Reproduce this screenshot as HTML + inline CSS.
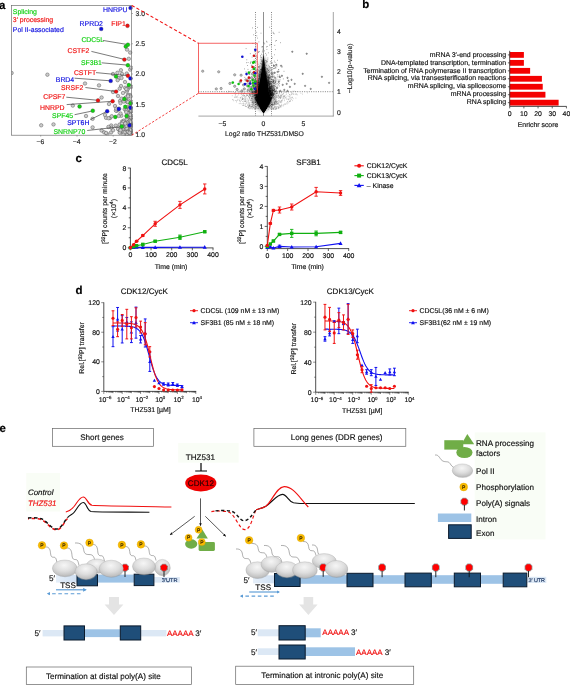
<!DOCTYPE html>
<html lang="en"><head><meta charset="utf-8"><title>Figure</title>
<style>
html,body{margin:0;padding:0;background:#fff;}
body{width:570px;height:685px;overflow:hidden;}
svg{display:block;font-family:"Liberation Sans",Arial,Helvetica,sans-serif;text-rendering:geometricPrecision;}
text{stroke-width:0.16px;}
</style></head><body>
<svg width="570" height="685" viewBox="0 0 570 685">
<defs>
<radialGradient id="pol" cx="48%" cy="32%" r="72%"><stop offset="0" stop-color="#f6f6f6"/><stop offset="0.5" stop-color="#dedede"/><stop offset="1" stop-color="#b6b6b6"/></radialGradient>
<linearGradient id="fadeL" x1="0" x2="1" y1="0" y2="0"><stop offset="0" stop-color="#e6eff9"/><stop offset="1" stop-color="#cfe0f3"/></linearGradient>
<filter id="blur1" x="-50%" y="-50%" width="200%" height="200%"><feGaussianBlur stdDeviation="0.7"/></filter>
<filter id="blur2" x="-50%" y="-50%" width="200%" height="200%"><feGaussianBlur stdDeviation="1.6"/></filter>
</defs>
<rect width="570" height="685" fill="#fff"/>
<g id="panel-a">
<text x="-0.9" y="8.5" font-size="11.5" fill="#000" stroke="#000" font-weight="bold">a</text>
<clipPath id="clipA"><rect x="11.6" y="5.4" width="121.2" height="129.8"/></clipPath>
<g clip-path="url(#clipA)">
<circle cx="11.6" cy="73" r="1.75" fill="#cbcbcb" stroke="#5a5a5a" stroke-width="0.5"/>
<circle cx="47.4" cy="74.7" r="1.75" fill="#cbcbcb" stroke="#5a5a5a" stroke-width="0.5"/>
<circle cx="85" cy="83.5" r="1.75" fill="#cbcbcb" stroke="#5a5a5a" stroke-width="0.5"/>
<circle cx="99" cy="85.4" r="1.75" fill="#cbcbcb" stroke="#5a5a5a" stroke-width="0.5"/>
<circle cx="72.8" cy="105.6" r="1.75" fill="#cbcbcb" stroke="#5a5a5a" stroke-width="0.5"/>
<circle cx="101.6" cy="97.5" r="1.75" fill="#cbcbcb" stroke="#5a5a5a" stroke-width="0.5"/>
<circle cx="86" cy="116" r="1.75" fill="#cbcbcb" stroke="#5a5a5a" stroke-width="0.5"/>
<circle cx="41.2" cy="125.3" r="1.75" fill="#cbcbcb" stroke="#5a5a5a" stroke-width="0.5"/>
<circle cx="53.5" cy="124.4" r="1.75" fill="#cbcbcb" stroke="#5a5a5a" stroke-width="0.5"/>
<circle cx="92.6" cy="118.8" r="1.75" fill="#cbcbcb" stroke="#5a5a5a" stroke-width="0.5"/>
<circle cx="92.6" cy="127.4" r="1.75" fill="#cbcbcb" stroke="#5a5a5a" stroke-width="0.5"/>
<circle cx="101.6" cy="130.5" r="1.75" fill="#cbcbcb" stroke="#5a5a5a" stroke-width="0.5"/>
<circle cx="104.2" cy="132.3" r="1.75" fill="#cbcbcb" stroke="#5a5a5a" stroke-width="0.5"/>
<circle cx="127" cy="49.6" r="1.75" fill="#cbcbcb" stroke="#5a5a5a" stroke-width="0.5"/>
<circle cx="130.2" cy="52.6" r="1.75" fill="#cbcbcb" stroke="#5a5a5a" stroke-width="0.5"/>
<circle cx="128.8" cy="58.8" r="1.75" fill="#cbcbcb" stroke="#5a5a5a" stroke-width="0.5"/>
<circle cx="130.2" cy="69.6" r="1.75" fill="#cbcbcb" stroke="#5a5a5a" stroke-width="0.5"/>
<circle cx="120.9" cy="70.2" r="1.75" fill="#cbcbcb" stroke="#5a5a5a" stroke-width="0.5"/>
<circle cx="117.4" cy="72.8" r="1.75" fill="#cbcbcb" stroke="#5a5a5a" stroke-width="0.5"/>
<circle cx="113" cy="74" r="1.75" fill="#cbcbcb" stroke="#5a5a5a" stroke-width="0.5"/>
<circle cx="119" cy="78" r="1.75" fill="#cbcbcb" stroke="#5a5a5a" stroke-width="0.5"/>
<circle cx="122" cy="74" r="1.75" fill="#cbcbcb" stroke="#5a5a5a" stroke-width="0.5"/>
<circle cx="125" cy="82" r="1.75" fill="#cbcbcb" stroke="#5a5a5a" stroke-width="0.5"/>
<circle cx="121" cy="86" r="1.75" fill="#cbcbcb" stroke="#5a5a5a" stroke-width="0.5"/>
<circle cx="127" cy="90" r="1.75" fill="#cbcbcb" stroke="#5a5a5a" stroke-width="0.5"/>
<circle cx="123" cy="93" r="1.75" fill="#cbcbcb" stroke="#5a5a5a" stroke-width="0.5"/>
<circle cx="130" cy="95" r="1.75" fill="#cbcbcb" stroke="#5a5a5a" stroke-width="0.5"/>
<circle cx="118" cy="96" r="1.75" fill="#cbcbcb" stroke="#5a5a5a" stroke-width="0.5"/>
<circle cx="113" cy="92" r="1.75" fill="#cbcbcb" stroke="#5a5a5a" stroke-width="0.5"/>
<circle cx="109" cy="104" r="1.75" fill="#cbcbcb" stroke="#5a5a5a" stroke-width="0.5"/>
<circle cx="115" cy="106" r="1.75" fill="#cbcbcb" stroke="#5a5a5a" stroke-width="0.5"/>
<circle cx="120" cy="101" r="1.75" fill="#cbcbcb" stroke="#5a5a5a" stroke-width="0.5"/>
<circle cx="110" cy="118" r="1.75" fill="#cbcbcb" stroke="#5a5a5a" stroke-width="0.5"/>
<circle cx="105" cy="115" r="1.75" fill="#cbcbcb" stroke="#5a5a5a" stroke-width="0.5"/>
<circle cx="129.06" cy="132.38" r="1.75" fill="#cbcbcb" stroke="#5a5a5a" stroke-width="0.5"/>
<circle cx="124.76" cy="133.8" r="1.75" fill="#cbcbcb" stroke="#5a5a5a" stroke-width="0.5"/>
<circle cx="126.61" cy="127.72" r="1.75" fill="#cbcbcb" stroke="#5a5a5a" stroke-width="0.5"/>
<circle cx="131.21" cy="123.67" r="1.75" fill="#cbcbcb" stroke="#5a5a5a" stroke-width="0.5"/>
<circle cx="131.35" cy="125.9" r="1.75" fill="#cbcbcb" stroke="#5a5a5a" stroke-width="0.5"/>
<circle cx="131.13" cy="133.48" r="1.75" fill="#cbcbcb" stroke="#5a5a5a" stroke-width="0.5"/>
<circle cx="128.01" cy="106.94" r="1.75" fill="#cbcbcb" stroke="#5a5a5a" stroke-width="0.5"/>
<circle cx="130.74" cy="130.96" r="1.75" fill="#cbcbcb" stroke="#5a5a5a" stroke-width="0.5"/>
<circle cx="125.18" cy="87.79" r="1.75" fill="#cbcbcb" stroke="#5a5a5a" stroke-width="0.5"/>
<circle cx="126.01" cy="126.92" r="1.75" fill="#cbcbcb" stroke="#5a5a5a" stroke-width="0.5"/>
<circle cx="107.29" cy="134.24" r="1.75" fill="#cbcbcb" stroke="#5a5a5a" stroke-width="0.5"/>
<circle cx="118.89" cy="129.53" r="1.75" fill="#cbcbcb" stroke="#5a5a5a" stroke-width="0.5"/>
<circle cx="130.59" cy="132.99" r="1.75" fill="#cbcbcb" stroke="#5a5a5a" stroke-width="0.5"/>
<circle cx="129.2" cy="107.9" r="1.75" fill="#cbcbcb" stroke="#5a5a5a" stroke-width="0.5"/>
<circle cx="130.3" cy="121.06" r="1.75" fill="#cbcbcb" stroke="#5a5a5a" stroke-width="0.5"/>
<circle cx="124.98" cy="127.55" r="1.75" fill="#cbcbcb" stroke="#5a5a5a" stroke-width="0.5"/>
<circle cx="126.44" cy="133.96" r="1.75" fill="#cbcbcb" stroke="#5a5a5a" stroke-width="0.5"/>
<circle cx="131.2" cy="131.31" r="1.75" fill="#cbcbcb" stroke="#5a5a5a" stroke-width="0.5"/>
<circle cx="124.19" cy="126.07" r="1.75" fill="#cbcbcb" stroke="#5a5a5a" stroke-width="0.5"/>
<circle cx="129.15" cy="120.91" r="1.75" fill="#cbcbcb" stroke="#5a5a5a" stroke-width="0.5"/>
<circle cx="127.68" cy="129.3" r="1.75" fill="#cbcbcb" stroke="#5a5a5a" stroke-width="0.5"/>
<circle cx="121.32" cy="115.79" r="1.75" fill="#cbcbcb" stroke="#5a5a5a" stroke-width="0.5"/>
<circle cx="129.78" cy="121.33" r="1.75" fill="#cbcbcb" stroke="#5a5a5a" stroke-width="0.5"/>
<circle cx="126.76" cy="101.71" r="1.75" fill="#cbcbcb" stroke="#5a5a5a" stroke-width="0.5"/>
<circle cx="123.1" cy="129.57" r="1.75" fill="#cbcbcb" stroke="#5a5a5a" stroke-width="0.5"/>
<circle cx="106.11" cy="132.99" r="1.75" fill="#cbcbcb" stroke="#5a5a5a" stroke-width="0.5"/>
<circle cx="128.08" cy="112.36" r="1.75" fill="#cbcbcb" stroke="#5a5a5a" stroke-width="0.5"/>
<circle cx="130.53" cy="124.26" r="1.75" fill="#cbcbcb" stroke="#5a5a5a" stroke-width="0.5"/>
<circle cx="131.34" cy="117.35" r="1.75" fill="#cbcbcb" stroke="#5a5a5a" stroke-width="0.5"/>
<circle cx="122.2" cy="121.38" r="1.75" fill="#cbcbcb" stroke="#5a5a5a" stroke-width="0.5"/>
<circle cx="118.06" cy="128.98" r="1.75" fill="#cbcbcb" stroke="#5a5a5a" stroke-width="0.5"/>
<circle cx="123.88" cy="120.56" r="1.75" fill="#cbcbcb" stroke="#5a5a5a" stroke-width="0.5"/>
<circle cx="125.96" cy="125.25" r="1.75" fill="#cbcbcb" stroke="#5a5a5a" stroke-width="0.5"/>
<circle cx="119.69" cy="88.69" r="1.75" fill="#cbcbcb" stroke="#5a5a5a" stroke-width="0.5"/>
<circle cx="127.42" cy="117.54" r="1.75" fill="#cbcbcb" stroke="#5a5a5a" stroke-width="0.5"/>
<circle cx="131.19" cy="115.66" r="1.75" fill="#cbcbcb" stroke="#5a5a5a" stroke-width="0.5"/>
<circle cx="120.38" cy="129.64" r="1.75" fill="#cbcbcb" stroke="#5a5a5a" stroke-width="0.5"/>
<circle cx="128.43" cy="117.33" r="1.75" fill="#cbcbcb" stroke="#5a5a5a" stroke-width="0.5"/>
<circle cx="131.45" cy="125.09" r="1.75" fill="#cbcbcb" stroke="#5a5a5a" stroke-width="0.5"/>
<circle cx="130.4" cy="133.01" r="1.75" fill="#cbcbcb" stroke="#5a5a5a" stroke-width="0.5"/>
<circle cx="131.21" cy="111.61" r="1.75" fill="#cbcbcb" stroke="#5a5a5a" stroke-width="0.5"/>
<circle cx="130.7" cy="130.45" r="1.75" fill="#cbcbcb" stroke="#5a5a5a" stroke-width="0.5"/>
<circle cx="128.38" cy="102.18" r="1.75" fill="#cbcbcb" stroke="#5a5a5a" stroke-width="0.5"/>
<circle cx="131.05" cy="125.46" r="1.75" fill="#cbcbcb" stroke="#5a5a5a" stroke-width="0.5"/>
<circle cx="126.42" cy="100.62" r="1.75" fill="#cbcbcb" stroke="#5a5a5a" stroke-width="0.5"/>
<circle cx="120.48" cy="103.08" r="1.75" fill="#cbcbcb" stroke="#5a5a5a" stroke-width="0.5"/>
<circle cx="129.48" cy="126.41" r="1.75" fill="#cbcbcb" stroke="#5a5a5a" stroke-width="0.5"/>
<circle cx="128.71" cy="100.51" r="1.75" fill="#cbcbcb" stroke="#5a5a5a" stroke-width="0.5"/>
<circle cx="111.04" cy="132.38" r="1.75" fill="#cbcbcb" stroke="#5a5a5a" stroke-width="0.5"/>
<circle cx="130.34" cy="130.78" r="1.75" fill="#cbcbcb" stroke="#5a5a5a" stroke-width="0.5"/>
<circle cx="129.87" cy="124.38" r="1.75" fill="#cbcbcb" stroke="#5a5a5a" stroke-width="0.5"/>
<circle cx="125.82" cy="130.12" r="1.75" fill="#cbcbcb" stroke="#5a5a5a" stroke-width="0.5"/>
<circle cx="131.57" cy="126.31" r="1.75" fill="#cbcbcb" stroke="#5a5a5a" stroke-width="0.5"/>
<circle cx="128.6" cy="121.63" r="1.75" fill="#cbcbcb" stroke="#5a5a5a" stroke-width="0.5"/>
<circle cx="111.71" cy="116.24" r="1.75" fill="#cbcbcb" stroke="#5a5a5a" stroke-width="0.5"/>
<circle cx="126.89" cy="119.62" r="1.75" fill="#cbcbcb" stroke="#5a5a5a" stroke-width="0.5"/>
<circle cx="124.27" cy="134.11" r="1.75" fill="#cbcbcb" stroke="#5a5a5a" stroke-width="0.5"/>
<circle cx="116.66" cy="110.78" r="1.75" fill="#cbcbcb" stroke="#5a5a5a" stroke-width="0.5"/>
<circle cx="118.11" cy="109.42" r="1.75" fill="#cbcbcb" stroke="#5a5a5a" stroke-width="0.5"/>
<circle cx="128.36" cy="126.85" r="1.75" fill="#cbcbcb" stroke="#5a5a5a" stroke-width="0.5"/>
<circle cx="130.89" cy="118.91" r="1.75" fill="#cbcbcb" stroke="#5a5a5a" stroke-width="0.5"/>
<circle cx="131.18" cy="133.88" r="1.75" fill="#cbcbcb" stroke="#5a5a5a" stroke-width="0.5"/>
<circle cx="130.08" cy="132.17" r="1.75" fill="#cbcbcb" stroke="#5a5a5a" stroke-width="0.5"/>
<circle cx="128.9" cy="134.14" r="1.75" fill="#cbcbcb" stroke="#5a5a5a" stroke-width="0.5"/>
<circle cx="131.6" cy="132.38" r="1.75" fill="#cbcbcb" stroke="#5a5a5a" stroke-width="0.5"/>
<circle cx="130.9" cy="127.77" r="1.75" fill="#cbcbcb" stroke="#5a5a5a" stroke-width="0.5"/>
<circle cx="131.43" cy="101.81" r="1.75" fill="#cbcbcb" stroke="#5a5a5a" stroke-width="0.5"/>
<circle cx="125.41" cy="132.43" r="1.75" fill="#cbcbcb" stroke="#5a5a5a" stroke-width="0.5"/>
<circle cx="129.71" cy="128.17" r="1.75" fill="#cbcbcb" stroke="#5a5a5a" stroke-width="0.5"/>
<circle cx="128.66" cy="132.9" r="1.75" fill="#cbcbcb" stroke="#5a5a5a" stroke-width="0.5"/>
<circle cx="127.52" cy="124.42" r="1.75" fill="#cbcbcb" stroke="#5a5a5a" stroke-width="0.5"/>
<circle cx="131.02" cy="133.28" r="1.75" fill="#cbcbcb" stroke="#5a5a5a" stroke-width="0.5"/>
<circle cx="128.87" cy="130.08" r="1.75" fill="#cbcbcb" stroke="#5a5a5a" stroke-width="0.5"/>
<circle cx="120.13" cy="132.18" r="1.75" fill="#cbcbcb" stroke="#5a5a5a" stroke-width="0.5"/>
<circle cx="131.45" cy="86.75" r="1.75" fill="#cbcbcb" stroke="#5a5a5a" stroke-width="0.5"/>
<circle cx="126.72" cy="132.46" r="1.75" fill="#cbcbcb" stroke="#5a5a5a" stroke-width="0.5"/>
<circle cx="126.51" cy="134.56" r="1.75" fill="#cbcbcb" stroke="#5a5a5a" stroke-width="0.5"/>
<circle cx="126.72" cy="73.56" r="1.75" fill="#cbcbcb" stroke="#5a5a5a" stroke-width="0.5"/>
<circle cx="118.66" cy="115.94" r="1.75" fill="#cbcbcb" stroke="#5a5a5a" stroke-width="0.5"/>
<circle cx="129.63" cy="127.69" r="1.75" fill="#cbcbcb" stroke="#5a5a5a" stroke-width="0.5"/>
<circle cx="130.41" cy="111.35" r="1.75" fill="#cbcbcb" stroke="#5a5a5a" stroke-width="0.5"/>
<circle cx="126.66" cy="110.84" r="1.75" fill="#cbcbcb" stroke="#5a5a5a" stroke-width="0.5"/>
<circle cx="129" cy="130.96" r="1.75" fill="#cbcbcb" stroke="#5a5a5a" stroke-width="0.5"/>
<circle cx="119.15" cy="108.76" r="1.75" fill="#cbcbcb" stroke="#5a5a5a" stroke-width="0.5"/>
<circle cx="120.51" cy="113.45" r="1.75" fill="#cbcbcb" stroke="#5a5a5a" stroke-width="0.5"/>
<circle cx="129.93" cy="123.34" r="1.75" fill="#cbcbcb" stroke="#5a5a5a" stroke-width="0.5"/>
<circle cx="128.74" cy="134.53" r="1.75" fill="#cbcbcb" stroke="#5a5a5a" stroke-width="0.5"/>
<circle cx="131.42" cy="129.76" r="1.75" fill="#cbcbcb" stroke="#5a5a5a" stroke-width="0.5"/>
<circle cx="129.65" cy="116.13" r="1.75" fill="#cbcbcb" stroke="#5a5a5a" stroke-width="0.5"/>
<circle cx="111.22" cy="125.52" r="1.75" fill="#cbcbcb" stroke="#5a5a5a" stroke-width="0.5"/>
<circle cx="111.44" cy="127.74" r="1.75" fill="#cbcbcb" stroke="#5a5a5a" stroke-width="0.5"/>
<circle cx="129.98" cy="130.88" r="1.75" fill="#cbcbcb" stroke="#5a5a5a" stroke-width="0.5"/>
<circle cx="130.18" cy="131.34" r="1.75" fill="#cbcbcb" stroke="#5a5a5a" stroke-width="0.5"/>
<circle cx="125.24" cy="98.11" r="1.75" fill="#cbcbcb" stroke="#5a5a5a" stroke-width="0.5"/>
<circle cx="119.67" cy="124.55" r="1.75" fill="#cbcbcb" stroke="#5a5a5a" stroke-width="0.5"/>
<circle cx="124.72" cy="109.28" r="1.75" fill="#cbcbcb" stroke="#5a5a5a" stroke-width="0.5"/>
<circle cx="131.02" cy="117.71" r="1.75" fill="#cbcbcb" stroke="#5a5a5a" stroke-width="0.5"/>
<circle cx="115.96" cy="110.61" r="1.75" fill="#cbcbcb" stroke="#5a5a5a" stroke-width="0.5"/>
<circle cx="122.59" cy="124.6" r="1.75" fill="#cbcbcb" stroke="#5a5a5a" stroke-width="0.5"/>
<circle cx="130.32" cy="110.1" r="1.75" fill="#cbcbcb" stroke="#5a5a5a" stroke-width="0.5"/>
<circle cx="128.97" cy="109.18" r="1.75" fill="#cbcbcb" stroke="#5a5a5a" stroke-width="0.5"/>
<circle cx="108.44" cy="126.94" r="1.75" fill="#cbcbcb" stroke="#5a5a5a" stroke-width="0.5"/>
<circle cx="128.26" cy="88.06" r="1.75" fill="#cbcbcb" stroke="#5a5a5a" stroke-width="0.5"/>
<circle cx="123.21" cy="132.02" r="1.75" fill="#cbcbcb" stroke="#5a5a5a" stroke-width="0.5"/>
<circle cx="130.72" cy="132.38" r="1.75" fill="#cbcbcb" stroke="#5a5a5a" stroke-width="0.5"/>
<circle cx="116.31" cy="108.72" r="1.75" fill="#cbcbcb" stroke="#5a5a5a" stroke-width="0.5"/>
<circle cx="130.57" cy="106.97" r="1.75" fill="#cbcbcb" stroke="#5a5a5a" stroke-width="0.5"/>
<circle cx="106.07" cy="117.87" r="1.75" fill="#cbcbcb" stroke="#5a5a5a" stroke-width="0.5"/>
<circle cx="128.8" cy="122.27" r="1.75" fill="#cbcbcb" stroke="#5a5a5a" stroke-width="0.5"/>
<circle cx="130.69" cy="134.77" r="1.75" fill="#cbcbcb" stroke="#5a5a5a" stroke-width="0.5"/>
<circle cx="108.61" cy="118.22" r="1.75" fill="#cbcbcb" stroke="#5a5a5a" stroke-width="0.5"/>
<circle cx="126.74" cy="91.6" r="1.75" fill="#cbcbcb" stroke="#5a5a5a" stroke-width="0.5"/>
<circle cx="127.9" cy="102.14" r="1.75" fill="#cbcbcb" stroke="#5a5a5a" stroke-width="0.5"/>
<circle cx="120.23" cy="131.21" r="1.75" fill="#cbcbcb" stroke="#5a5a5a" stroke-width="0.5"/>
<circle cx="129.71" cy="129.45" r="1.75" fill="#cbcbcb" stroke="#5a5a5a" stroke-width="0.5"/>
<circle cx="129.81" cy="120.87" r="1.75" fill="#cbcbcb" stroke="#5a5a5a" stroke-width="0.5"/>
<circle cx="129.65" cy="126.31" r="1.75" fill="#cbcbcb" stroke="#5a5a5a" stroke-width="0.5"/>
<circle cx="130.69" cy="96.47" r="1.75" fill="#cbcbcb" stroke="#5a5a5a" stroke-width="0.5"/>
<circle cx="128.76" cy="125.2" r="1.75" fill="#cbcbcb" stroke="#5a5a5a" stroke-width="0.5"/>
<circle cx="125.91" cy="97.46" r="1.75" fill="#cbcbcb" stroke="#5a5a5a" stroke-width="0.5"/>
<circle cx="128.05" cy="95.04" r="1.75" fill="#cbcbcb" stroke="#5a5a5a" stroke-width="0.5"/>
<circle cx="127.07" cy="122.86" r="1.75" fill="#cbcbcb" stroke="#5a5a5a" stroke-width="0.5"/>
<circle cx="126.78" cy="134.7" r="1.75" fill="#cbcbcb" stroke="#5a5a5a" stroke-width="0.5"/>
<circle cx="127.83" cy="131.76" r="1.75" fill="#cbcbcb" stroke="#5a5a5a" stroke-width="0.5"/>
<circle cx="131.57" cy="109.32" r="1.75" fill="#cbcbcb" stroke="#5a5a5a" stroke-width="0.5"/>
<circle cx="130.37" cy="124.74" r="1.75" fill="#cbcbcb" stroke="#5a5a5a" stroke-width="0.5"/>
<circle cx="123.2" cy="121.99" r="1.75" fill="#cbcbcb" stroke="#5a5a5a" stroke-width="0.5"/>
<circle cx="129.04" cy="123.31" r="1.75" fill="#cbcbcb" stroke="#5a5a5a" stroke-width="0.5"/>
<circle cx="126.33" cy="110.46" r="1.75" fill="#cbcbcb" stroke="#5a5a5a" stroke-width="0.5"/>
<circle cx="130.87" cy="121.85" r="1.75" fill="#cbcbcb" stroke="#5a5a5a" stroke-width="0.5"/>
<circle cx="129.74" cy="129.81" r="1.75" fill="#cbcbcb" stroke="#5a5a5a" stroke-width="0.5"/>
<circle cx="121.98" cy="123.66" r="1.75" fill="#cbcbcb" stroke="#5a5a5a" stroke-width="0.5"/>
<circle cx="126.24" cy="112.17" r="1.75" fill="#cbcbcb" stroke="#5a5a5a" stroke-width="0.5"/>
<circle cx="115.77" cy="125.63" r="1.75" fill="#cbcbcb" stroke="#5a5a5a" stroke-width="0.5"/>
<circle cx="125.44" cy="123.73" r="1.75" fill="#cbcbcb" stroke="#5a5a5a" stroke-width="0.5"/>
<circle cx="126.93" cy="116.12" r="1.75" fill="#cbcbcb" stroke="#5a5a5a" stroke-width="0.5"/>
<circle cx="127.69" cy="122.81" r="1.75" fill="#cbcbcb" stroke="#5a5a5a" stroke-width="0.5"/>
<circle cx="127.37" cy="89.58" r="1.75" fill="#cbcbcb" stroke="#5a5a5a" stroke-width="0.5"/>
<circle cx="123.79" cy="101.53" r="1.75" fill="#cbcbcb" stroke="#5a5a5a" stroke-width="0.5"/>
<circle cx="113.07" cy="130.19" r="1.75" fill="#cbcbcb" stroke="#5a5a5a" stroke-width="0.5"/>
<circle cx="126.27" cy="89.09" r="1.75" fill="#cbcbcb" stroke="#5a5a5a" stroke-width="0.5"/>
<circle cx="119.69" cy="132.64" r="1.75" fill="#cbcbcb" stroke="#5a5a5a" stroke-width="0.5"/>
<circle cx="130.76" cy="125.66" r="1.75" fill="#cbcbcb" stroke="#5a5a5a" stroke-width="0.5"/>
<circle cx="131.11" cy="130.6" r="1.75" fill="#cbcbcb" stroke="#5a5a5a" stroke-width="0.5"/>
<circle cx="131.11" cy="117.29" r="1.75" fill="#cbcbcb" stroke="#5a5a5a" stroke-width="0.5"/>
<circle cx="121.64" cy="98.63" r="1.75" fill="#cbcbcb" stroke="#5a5a5a" stroke-width="0.5"/>
<circle cx="130.51" cy="114.85" r="1.75" fill="#cbcbcb" stroke="#5a5a5a" stroke-width="0.5"/>
<circle cx="124.58" cy="132.53" r="1.75" fill="#cbcbcb" stroke="#5a5a5a" stroke-width="0.5"/>
<circle cx="117.66" cy="80.15" r="1.75" fill="#cbcbcb" stroke="#5a5a5a" stroke-width="0.5"/>
<circle cx="129.99" cy="86.25" r="1.75" fill="#cbcbcb" stroke="#5a5a5a" stroke-width="0.5"/>
<circle cx="128.3" cy="124.31" r="1.75" fill="#cbcbcb" stroke="#5a5a5a" stroke-width="0.5"/>
<circle cx="130.46" cy="125.96" r="1.75" fill="#cbcbcb" stroke="#5a5a5a" stroke-width="0.5"/>
<circle cx="126.89" cy="128.37" r="1.75" fill="#cbcbcb" stroke="#5a5a5a" stroke-width="0.5"/>
<circle cx="130.18" cy="128.86" r="1.75" fill="#cbcbcb" stroke="#5a5a5a" stroke-width="0.5"/>
<circle cx="123.28" cy="134.69" r="1.75" fill="#cbcbcb" stroke="#5a5a5a" stroke-width="0.5"/>
<circle cx="126.35" cy="125.71" r="1.75" fill="#cbcbcb" stroke="#5a5a5a" stroke-width="0.5"/>
<circle cx="131.48" cy="128.56" r="1.75" fill="#cbcbcb" stroke="#5a5a5a" stroke-width="0.5"/>
<circle cx="125.24" cy="123.51" r="1.75" fill="#cbcbcb" stroke="#5a5a5a" stroke-width="0.5"/>
<circle cx="131.17" cy="67.72" r="1.75" fill="#cbcbcb" stroke="#5a5a5a" stroke-width="0.5"/>
<circle cx="121.51" cy="77.96" r="1.75" fill="#cbcbcb" stroke="#5a5a5a" stroke-width="0.5"/>
<circle cx="130.88" cy="130.06" r="1.75" fill="#cbcbcb" stroke="#5a5a5a" stroke-width="0.5"/>
<circle cx="131.34" cy="110.85" r="1.75" fill="#cbcbcb" stroke="#5a5a5a" stroke-width="0.5"/>
<circle cx="129.55" cy="132.78" r="1.75" fill="#cbcbcb" stroke="#5a5a5a" stroke-width="0.5"/>
<circle cx="128.03" cy="96.22" r="1.75" fill="#cbcbcb" stroke="#5a5a5a" stroke-width="0.5"/>
<circle cx="120.49" cy="130.21" r="1.75" fill="#cbcbcb" stroke="#5a5a5a" stroke-width="0.5"/>
</g>
<line x1="102.8" y1="40.4" x2="127.5" y2="44.5" stroke="#222" stroke-width="0.6"/>
<line x1="91.4" y1="51.4" x2="124" y2="59.3" stroke="#222" stroke-width="0.6"/>
<line x1="101.6" y1="62.8" x2="127.5" y2="65.1" stroke="#222" stroke-width="0.6"/>
<line x1="96" y1="72.6" x2="127.5" y2="75.6" stroke="#222" stroke-width="0.6"/>
<line x1="74.6" y1="78.2" x2="110.5" y2="80.8" stroke="#222" stroke-width="0.6"/>
<line x1="85.4" y1="87.5" x2="116" y2="91.5" stroke="#222" stroke-width="0.6"/>
<line x1="66.3" y1="97.2" x2="98" y2="100.3" stroke="#222" stroke-width="0.6"/>
<line x1="66.7" y1="104.6" x2="112.5" y2="101.3" stroke="#222" stroke-width="0.6"/>
<line x1="74.6" y1="114.7" x2="92.8" y2="110.9" stroke="#222" stroke-width="0.6"/>
<line x1="90.4" y1="119.6" x2="107" y2="111.4" stroke="#222" stroke-width="0.6"/>
<line x1="87.2" y1="130.5" x2="121.8" y2="126.6" stroke="#222" stroke-width="0.6"/>
<circle cx="130.5" cy="7.9" r="1.95" fill="#1010e0" stroke="#444" stroke-width="0.3"/>
<circle cx="127.5" cy="25.8" r="1.95" fill="#f01010" stroke="#444" stroke-width="0.3"/>
<circle cx="101.2" cy="28.9" r="1.95" fill="#1010e0" stroke="#444" stroke-width="0.3"/>
<circle cx="125.8" cy="46.5" r="1.95" fill="#10d010" stroke="#444" stroke-width="0.3"/>
<circle cx="127.9" cy="44.7" r="1.95" fill="#10d010" stroke="#444" stroke-width="0.3"/>
<circle cx="124.4" cy="59.6" r="1.95" fill="#f01010" stroke="#444" stroke-width="0.3"/>
<circle cx="127.9" cy="65.3" r="1.95" fill="#10d010" stroke="#444" stroke-width="0.3"/>
<circle cx="127.9" cy="75.8" r="1.95" fill="#f01010" stroke="#444" stroke-width="0.3"/>
<circle cx="110.7" cy="80.9" r="1.95" fill="#1010e0" stroke="#444" stroke-width="0.3"/>
<circle cx="116" cy="76.5" r="1.95" fill="#10d010" stroke="#444" stroke-width="0.3"/>
<circle cx="116.1" cy="91.6" r="1.95" fill="#f01010" stroke="#444" stroke-width="0.3"/>
<circle cx="98" cy="100.4" r="1.95" fill="#f01010" stroke="#444" stroke-width="0.3"/>
<circle cx="112.6" cy="101.2" r="1.95" fill="#f01010" stroke="#444" stroke-width="0.3"/>
<circle cx="79.6" cy="106.5" r="1.95" fill="#10d010" stroke="#444" stroke-width="0.3"/>
<circle cx="92.8" cy="110.7" r="1.95" fill="#10d010" stroke="#444" stroke-width="0.3"/>
<circle cx="107.2" cy="111.2" r="1.95" fill="#1010e0" stroke="#444" stroke-width="0.3"/>
<circle cx="130.5" cy="78.4" r="1.95" fill="#1010e0" stroke="#444" stroke-width="0.3"/>
<circle cx="130.5" cy="107.7" r="1.95" fill="#1010e0" stroke="#444" stroke-width="0.3"/>
<circle cx="128.8" cy="85" r="1.95" fill="#10d010" stroke="#444" stroke-width="0.3"/>
<circle cx="124.4" cy="99" r="1.95" fill="#10d010" stroke="#444" stroke-width="0.3"/>
<circle cx="130.5" cy="103.3" r="1.95" fill="#10d010" stroke="#444" stroke-width="0.3"/>
<circle cx="125.3" cy="106.8" r="1.95" fill="#10d010" stroke="#444" stroke-width="0.3"/>
<circle cx="115.3" cy="117" r="1.95" fill="#10d010" stroke="#444" stroke-width="0.3"/>
<circle cx="126.5" cy="116" r="1.95" fill="#10d010" stroke="#444" stroke-width="0.3"/>
<circle cx="121.8" cy="126.5" r="1.95" fill="#10d010" stroke="#444" stroke-width="0.3"/>
<circle cx="129.6" cy="125.3" r="1.95" fill="#1010e0" stroke="#444" stroke-width="0.3"/>
<circle cx="118.8" cy="109" r="1.95" fill="#1010e0" stroke="#444" stroke-width="0.3"/>
<rect x="11.6" y="5.4" width="120" height="129.8" fill="none" stroke="#666" stroke-width="0.65"/>
<path d="M131.6 13.5h1.4M131.6 43.75h1.4M131.6 74h1.4M131.6 104.25h1.4M131.6 134.5h1.4M40.7 135.2v1.4M77 135.2v1.4M113.2 135.2v1.4" stroke="#666" stroke-width="0.5" fill="none"/>
<text x="135.6" y="15.9" font-size="6.8" fill="#222" stroke="#222">3.0</text>
<text x="135.6" y="46.15" font-size="6.8" fill="#222" stroke="#222">2.5</text>
<text x="135.6" y="76.4" font-size="6.8" fill="#222" stroke="#222">2.0</text>
<text x="135.6" y="106.65" font-size="6.8" fill="#222" stroke="#222">1.5</text>
<text x="135.6" y="136.9" font-size="6.8" fill="#222" stroke="#222">1.0</text>
<text x="40.3" y="144.3" font-size="6.8" fill="#222" stroke="#222" text-anchor="middle">−6</text>
<text x="76.6" y="144.3" font-size="6.8" fill="#222" stroke="#222" text-anchor="middle">−4</text>
<text x="112.8" y="144.3" font-size="6.8" fill="#222" stroke="#222" text-anchor="middle">−2</text>
<text x="12.8" y="14.2" font-size="6.9" fill="#10d010" stroke="#10d010">Splicing</text>
<text x="12.8" y="22.3" font-size="6.9" fill="#f01010" stroke="#f01010">3′ processing</text>
<text x="12.8" y="31.7" font-size="6.9" fill="#1010e0" stroke="#1010e0">Pol II-associated</text>
<text x="103" y="12" font-size="6.9" fill="#1010e0" stroke="#1010e0">HNRPU</text>
<text x="79.6" y="26.4" font-size="6.9" fill="#1010e0" stroke="#1010e0">RPRD2</text>
<text x="111.2" y="25.7" font-size="6.9" fill="#f01010" stroke="#f01010">FIP1</text>
<text x="81.4" y="42.4" font-size="6.9" fill="#10d010" stroke="#10d010">CDC5L</text>
<text x="67.5" y="52.9" font-size="6.9" fill="#f01010" stroke="#f01010">CSTF2</text>
<text x="80.9" y="65" font-size="6.9" fill="#10d010" stroke="#10d010">SF3B1</text>
<text x="73.9" y="75" font-size="6.9" fill="#f01010" stroke="#f01010">CSTFT</text>
<text x="55.8" y="81.5" font-size="6.9" fill="#1010e0" stroke="#1010e0">BRD4</text>
<text x="61" y="90.3" font-size="6.9" fill="#f01010" stroke="#f01010">SRSF2</text>
<text x="43.2" y="99.1" font-size="6.9" fill="#f01010" stroke="#f01010">CPSF7</text>
<text x="40" y="109.8" font-size="6.9" fill="#f01010" stroke="#f01010">HNRPD</text>
<text x="52.1" y="118" font-size="6.9" fill="#10d010" stroke="#10d010">SPF45</text>
<text x="67.2" y="125" font-size="6.9" fill="#1010e0" stroke="#1010e0">SPT6H</text>
<text x="53.5" y="134.2" font-size="6.9" fill="#10d010" stroke="#10d010">SNRNP70</text>
<path d="M131.8 5.4L198.4 43.2" stroke="#f01010" stroke-width="1.1" stroke-dasharray="3.2 2.2" fill="none"/>
<path d="M131.8 135.2L198.4 93.3" stroke="#f01010" stroke-width="0.8" stroke-dasharray="2.3 1.7" fill="none"/>
<line x1="263.5" y1="12" x2="263.5" y2="116" stroke="#444" stroke-width="0.6"/>
<line x1="255.5" y1="12" x2="255.5" y2="116" stroke="#333" stroke-width="0.6" stroke-dasharray="1 1.3"/>
<line x1="271.5" y1="12" x2="271.5" y2="116" stroke="#333" stroke-width="0.6" stroke-dasharray="1 1.3"/>
<line x1="198.4" y1="91.7" x2="333.3" y2="91.7" stroke="#333" stroke-width="0.6" stroke-dasharray="1 1.3"/>
<clipPath id="clipV"><rect x="198" y="11" width="135" height="104.6"/></clipPath>
<g clip-path="url(#clipV)">
<path d="M263.5 112.8L259.45 110.5L256.9 108L253.67 104.5L251.8 101L251.29 96L251.97 90L253.67 84L255.88 78L257.92 72L259.62 66L260.98 60L263.5 55L263.5 55L266.02 60L267.38 66L269.08 72L271.12 78L273.33 84L275.03 90L275.71 96L275.2 101L273.33 104.5L270.1 108L267.55 110.5L263.5 112.8Z" fill="#000" opacity="0.28" filter="url(#blur2)"/>
<path d="M263.5 112.8L261.32 110.5L259.45 108L257.07 104.5L255.7 101L255.32 96L255.82 90L257.07 84L258.7 78L260.2 72L261.45 66L262.45 60L263.5 55L263.5 55L264.55 60L265.55 66L266.8 72L268.3 78L269.93 84L271.18 90L271.68 96L271.3 101L269.93 104.5L267.55 108L265.68 110.5L263.5 112.8Z" fill="#000" opacity="0.5" filter="url(#blur1)"/>
<path d="M263.5 112.8L262.23 110.5L260.95 108L259.33 104.5L258.4 101L258.14 96L258.49 90L259.33 84L260.44 78L261.46 72L262.31 66L262.99 60L263.5 55L263.5 55L264.01 60L264.69 66L265.54 72L266.56 78L267.67 84L268.51 90L268.86 96L268.6 101L267.67 104.5L266.05 108L264.77 110.5L263.5 112.8Z" fill="#000" filter="url(#blur1)"/>
<path d="M262.4 101.1h0M258.6 51.9h0M256.5 92.0h0M265.1 100.9h0M263.2 103.8h0M256.6 96.3h0M266.6 98.0h0M270.6 98.2h0M260.2 105.5h0M265.8 88.7h0M265.5 74.8h0M261.9 101.1h0M255.7 90.5h0M272.7 86.0h0M265.5 98.2h0M267.4 90.7h0M263.4 106.2h0M264.4 108.2h0M255.4 98.0h0M264.7 101.6h0M265.1 107.8h0M259.2 86.9h0M266.8 100.6h0M262.8 106.1h0M263.1 100.9h0M257.3 101.1h0M264.9 98.4h0M265.5 108.8h0M261.8 102.1h0M266.7 106.9h0M268.4 102.7h0M264.6 107.9h0M266.6 98.8h0M266.1 92.2h0M265.7 90.6h0M267.7 88.1h0M270.8 93.8h0M262.4 109.8h0M272.1 93.9h0M273.5 88.6h0M263.0 83.0h0M267.0 96.9h0M266.2 93.6h0M255.8 86.1h0M252.0 86.6h0M263.4 111.9h0M260.9 100.0h0M264.2 104.8h0M252.8 92.8h0M264.4 101.1h0M262.6 108.5h0M262.1 107.8h0M267.0 102.2h0M262.6 109.7h0M265.5 98.1h0M267.6 95.1h0M259.9 94.1h0M260.6 104.4h0M262.0 106.0h0M259.3 103.5h0M266.3 81.5h0M264.6 86.8h0M269.3 100.0h0M258.3 97.4h0M263.2 110.8h0M263.3 95.5h0M256.0 78.3h0M271.4 94.3h0M265.2 98.1h0M265.0 96.7h0M262.5 102.8h0M264.7 108.9h0M266.6 96.5h0M260.7 106.9h0M254.2 72.0h0M267.3 99.0h0M258.5 99.6h0M262.8 86.8h0M263.4 110.9h0M263.2 109.7h0M265.9 107.8h0M267.0 99.0h0M261.8 106.1h0M263.2 102.3h0M266.2 104.8h0M260.3 92.9h0M262.1 104.7h0M263.9 105.0h0M269.2 99.6h0M263.7 90.7h0M269.2 90.4h0M261.8 107.8h0M266.6 97.6h0M264.3 108.2h0M263.3 102.4h0M263.1 105.7h0M258.4 103.3h0M261.9 108.4h0M261.2 85.5h0M256.4 80.7h0M264.7 100.3h0M258.9 76.0h0M267.1 103.5h0M266.9 98.0h0M265.9 102.8h0M270.6 100.2h0M257.8 101.9h0M261.7 107.9h0M256.1 97.1h0M261.0 95.8h0M266.4 103.4h0M264.5 107.2h0M263.1 95.3h0M261.1 106.0h0M263.4 93.3h0M261.0 103.7h0M262.2 95.2h0M272.6 94.0h0M269.9 100.9h0M262.4 90.3h0M263.5 101.8h0M263.2 100.0h0M260.9 103.8h0M264.0 111.6h0M265.9 87.4h0M262.4 94.6h0M262.7 109.1h0M261.8 98.9h0M254.1 90.4h0M257.3 97.1h0M272.2 93.8h0M259.7 96.4h0M263.9 110.1h0M259.0 98.7h0M262.6 108.0h0M259.2 96.4h0M265.1 97.9h0M266.7 95.1h0M263.9 106.3h0M264.2 110.0h0M264.2 98.6h0M262.2 106.3h0M264.0 109.3h0M266.3 104.9h0M262.3 97.6h0M273.5 82.1h0M262.8 108.8h0M269.2 99.3h0M264.6 109.9h0M263.9 86.5h0M265.0 80.9h0M266.8 82.8h0M262.6 97.1h0M252.9 83.6h0M264.4 106.1h0M257.9 97.9h0M259.7 104.6h0M268.4 98.3h0M264.2 99.5h0M257.3 89.3h0M263.0 86.9h0M269.8 77.5h0M265.5 109.0h0M264.2 102.3h0M262.9 106.0h0M264.7 101.7h0M265.0 92.7h0M264.4 109.5h0M264.1 101.4h0M266.4 96.2h0M260.9 105.5h0M256.0 92.1h0M259.4 103.4h0M267.2 97.6h0M257.7 97.3h0M259.5 51.6h0M260.4 82.5h0M270.6 79.0h0M267.1 103.9h0M263.4 111.5h0M260.5 107.3h0M263.0 96.8h0M265.2 106.1h0M264.3 110.2h0M244.6 68.9h0M265.2 106.8h0M266.4 103.7h0M265.3 107.1h0M257.3 87.9h0M263.8 108.1h0M264.2 103.5h0M264.8 95.8h0M267.7 69.1h0M262.8 105.7h0M264.5 110.9h0M264.7 108.9h0M265.9 96.3h0M258.8 103.1h0M264.3 85.8h0M270.6 99.9h0M260.5 106.1h0M269.1 103.2h0M266.6 76.6h0M262.2 92.6h0M268.9 101.5h0M264.5 104.6h0M265.3 98.3h0M262.6 106.9h0M270.9 87.0h0M261.5 84.0h0M265.1 106.7h0M255.2 78.9h0M261.2 107.8h0M263.8 111.1h0M266.2 103.7h0M257.3 91.9h0M263.1 111.2h0M268.1 103.3h0M262.6 109.8h0M262.0 99.6h0M261.5 96.2h0M252.1 76.2h0M265.8 108.4h0M279.8 81.0h0M263.1 107.2h0M262.5 104.7h0M260.4 107.3h0M258.7 95.2h0M261.7 105.5h0M267.2 92.2h0M269.9 91.1h0M265.5 75.4h0M261.7 109.5h0M252.0 69.6h0M270.7 94.5h0M263.1 95.9h0M261.4 103.4h0M264.3 107.7h0M262.0 106.8h0M274.0 68.5h0M267.4 90.1h0M263.1 104.3h0M264.7 64.4h0M262.4 105.6h0M262.2 91.2h0M260.6 107.0h0M260.3 98.3h0M263.2 100.3h0M265.3 102.3h0M265.9 101.5h0M268.9 103.4h0M262.4 103.6h0M253.2 85.0h0M270.0 99.3h0M266.0 108.3h0M263.8 108.5h0M258.4 104.1h0M265.7 105.7h0M262.5 69.2h0M260.3 96.5h0M264.2 87.1h0M262.6 111.0h0M262.8 103.8h0M264.3 111.0h0M268.0 103.4h0M259.0 67.5h0M261.2 95.8h0M263.2 90.5h0M260.9 105.7h0M260.6 81.3h0M260.5 84.9h0M263.5 109.8h0M266.4 107.4h0M265.5 98.7h0M261.4 99.7h0M262.0 106.5h0M260.4 101.9h0M256.9 94.9h0M261.9 99.2h0M271.5 93.2h0M263.2 104.7h0M259.7 98.0h0M252.3 91.0h0M264.2 105.5h0M264.7 102.3h0M260.7 96.2h0M246.4 62.7h0M263.3 96.8h0M264.1 97.3h0M260.8 104.8h0M262.2 102.9h0M262.5 109.9h0M263.4 103.5h0M258.3 89.6h0M263.1 108.4h0M274.1 80.6h0M266.7 75.7h0M268.8 65.3h0M264.9 96.7h0M262.1 110.0h0M256.5 96.9h0M263.3 94.0h0M260.1 103.3h0M263.9 109.4h0M257.6 91.2h0M265.4 83.9h0M262.6 97.2h0M260.8 103.3h0M263.9 88.2h0M263.9 95.0h0M263.3 98.7h0M262.8 108.3h0M261.2 103.9h0M272.9 72.8h0M268.7 93.9h0M262.1 99.8h0M266.5 94.2h0M262.1 109.1h0M264.4 102.6h0M263.3 101.9h0M264.3 107.4h0M262.8 102.7h0M270.8 100.0h0M260.4 103.8h0M265.3 94.5h0M261.2 105.6h0M269.7 27.2h0M263.6 104.8h0M264.0 110.4h0M263.3 109.6h0M255.8 96.9h0M262.1 101.0h0M262.8 111.2h0M255.6 83.2h0M266.3 106.5h0M267.0 101.8h0M264.1 108.7h0M270.4 77.3h0M262.9 109.5h0M264.7 102.3h0M264.2 108.9h0M265.1 104.3h0M259.1 88.2h0M258.7 96.6h0M260.1 104.8h0M261.4 100.5h0M265.9 98.2h0M263.1 86.6h0M269.4 102.0h0M262.0 85.8h0M264.9 110.3h0M263.5 82.9h0M264.2 107.8h0M262.5 70.8h0M265.0 108.9h0M265.1 81.3h0M259.7 103.4h0M261.0 108.1h0M263.7 82.0h0M261.8 103.0h0M260.4 106.4h0M264.6 109.9h0M264.3 104.6h0M259.3 104.7h0M261.2 106.8h0M266.5 103.3h0M259.2 104.4h0M261.8 108.7h0M252.4 68.9h0M268.3 96.9h0M256.8 35.8h0M267.7 100.0h0M263.3 109.4h0M261.9 81.3h0M263.3 98.5h0M257.4 98.8h0M261.0 102.2h0M257.8 91.3h0M266.0 94.2h0M259.9 105.6h0M266.4 107.8h0M264.1 95.9h0M258.8 82.9h0M261.1 100.4h0M258.7 100.1h0M260.2 103.8h0M266.6 92.3h0M271.7 91.1h0M265.5 108.6h0M263.4 102.9h0M263.4 109.5h0M260.5 105.3h0M261.9 93.5h0M265.5 94.7h0M258.7 90.3h0M265.5 103.5h0M264.2 90.9h0M262.3 109.0h0M257.2 96.6h0M267.3 46.5h0M269.4 90.1h0M266.1 102.4h0M270.5 91.6h0M259.2 71.2h0M265.2 108.0h0M257.6 91.4h0M267.6 88.6h0M261.7 82.8h0M256.2 96.7h0M260.3 106.9h0M269.2 88.3h0M260.7 100.4h0M263.9 104.9h0M271.8 92.2h0M263.2 109.4h0M263.9 109.4h0M260.7 86.0h0M260.3 105.7h0M259.0 104.0h0M262.7 109.6h0M259.8 103.8h0M267.6 100.4h0M275.9 67.1h0M267.1 100.2h0M272.3 90.8h0M264.9 102.3h0M267.1 101.3h0M272.4 82.3h0M263.6 104.9h0M263.7 96.0h0M265.1 101.2h0M257.2 93.4h0M263.4 111.2h0M269.2 102.4h0M264.1 109.2h0M260.5 95.9h0M263.7 106.1h0M264.7 102.9h0M265.2 92.2h0M265.2 104.3h0M262.9 109.9h0M262.1 95.1h0M269.6 90.6h0M258.7 98.8h0M265.1 105.9h0M263.8 105.2h0M246.6 73.1h0M262.9 76.9h0M266.2 87.6h0M262.0 106.2h0M262.4 106.0h0M262.8 109.0h0M268.8 93.2h0M261.4 108.2h0M258.3 80.7h0M263.5 111.2h0M265.4 98.3h0M268.3 101.0h0M262.8 107.7h0M261.9 103.3h0M261.7 99.1h0M271.1 99.7h0M261.9 101.5h0M263.6 103.7h0M254.6 93.5h0M256.2 98.6h0M262.1 106.8h0M251.3 65.4h0M261.9 98.2h0M265.9 97.0h0M262.3 101.6h0M267.7 105.1h0M266.8 98.3h0M266.2 98.3h0M260.3 97.2h0M264.8 101.5h0M264.2 82.7h0M260.0 76.3h0M259.1 104.5h0M258.4 101.0h0M256.9 91.1h0M263.6 110.2h0M261.8 108.9h0M259.1 89.1h0M265.6 109.2h0M261.6 104.3h0M268.6 102.6h0M269.7 69.3h0M267.1 94.6h0M256.6 94.8h0M265.7 108.0h0M263.4 98.4h0M259.1 99.2h0M261.5 108.0h0M260.4 85.1h0M264.9 104.1h0M265.3 108.0h0M260.2 103.8h0M272.3 86.7h0M265.6 102.6h0M266.6 46.9h0M265.9 105.6h0M262.1 108.3h0M263.0 90.9h0M262.6 104.2h0M271.4 86.0h0M265.1 109.2h0M264.8 88.3h0M263.3 104.2h0M259.1 101.8h0M265.2 99.2h0M255.5 91.5h0M264.5 96.4h0M263.8 108.7h0M257.5 92.7h0M263.3 111.0h0M266.7 85.5h0M265.3 100.3h0M265.8 106.8h0M263.8 92.6h0M262.9 101.8h0M265.7 104.3h0M266.1 107.2h0M263.0 107.7h0M262.1 104.2h0M261.8 107.9h0M269.6 81.3h0M266.7 85.6h0M257.9 103.0h0M268.9 100.3h0M270.4 99.2h0M266.2 98.9h0M272.8 86.2h0M265.3 108.4h0M269.1 98.8h0M258.5 89.0h0M265.4 101.7h0M262.6 108.2h0M263.8 92.7h0M260.2 102.2h0M263.5 107.8h0M263.4 107.9h0M263.5 108.0h0M267.8 95.4h0M266.4 82.4h0M262.8 82.6h0M261.1 95.2h0M262.4 100.3h0M262.9 49.1h0M283.3 78.9h0M262.2 84.7h0M263.9 111.9h0M263.0 102.1h0M266.3 107.1h0M265.0 102.1h0M262.7 111.1h0M259.2 101.0h0M255.2 86.2h0M257.7 101.0h0M261.0 97.7h0M264.2 102.7h0M269.4 102.1h0M262.3 80.8h0M263.2 96.3h0M257.9 97.8h0M263.0 101.9h0M271.8 97.4h0M256.1 96.9h0M263.6 106.8h0M265.1 96.6h0M263.8 109.4h0M260.2 90.7h0M261.5 104.1h0M258.2 78.2h0M263.6 111.2h0M275.8 86.6h0M275.6 41.0h0M273.3 93.9h0M266.2 103.3h0M262.8 78.1h0M263.2 100.4h0M258.1 84.4h0M258.7 103.8h0M267.0 84.5h0M260.4 69.4h0M270.6 93.7h0M266.5 98.6h0M256.1 93.2h0M257.5 82.2h0M267.7 99.2h0M261.9 105.0h0M263.4 110.1h0M268.6 103.7h0M265.9 106.6h0M272.7 92.5h0M265.1 107.6h0M258.3 100.7h0M271.8 98.6h0M265.3 90.7h0M262.8 110.5h0M272.4 87.4h0M262.4 99.1h0M260.5 101.1h0M264.2 104.2h0M266.1 95.6h0M265.7 73.5h0M257.3 57.2h0M265.6 108.0h0M265.3 91.2h0M260.0 103.3h0M263.1 107.2h0M265.3 106.3h0M267.2 101.2h0M266.0 106.6h0M262.0 91.3h0M263.1 102.7h0M257.0 100.4h0M266.2 105.1h0M261.3 102.7h0M262.6 109.8h0M261.8 105.4h0M270.1 90.4h0M263.2 104.9h0M261.5 108.0h0M262.4 108.2h0M257.4 82.3h0M268.3 97.7h0M263.8 109.6h0M257.2 99.9h0M273.5 95.1h0M256.6 99.0h0M260.6 87.0h0M260.7 105.6h0M261.1 108.7h0M257.7 98.3h0M257.8 96.3h0M261.4 96.9h0M260.5 106.8h0M261.6 96.6h0M268.4 101.9h0M265.3 95.9h0M261.9 109.9h0M264.5 65.3h0M268.0 85.3h0M265.6 74.5h0M262.5 105.9h0M260.1 102.7h0M259.1 105.0h0M266.3 97.5h0M264.5 101.9h0M265.6 81.7h0M260.5 103.5h0M267.1 102.0h0M265.2 108.7h0M266.9 96.7h0M274.2 87.7h0M263.4 104.6h0M264.7 109.3h0M250.3 82.2h0M262.1 97.4h0M257.8 102.4h0M266.9 97.6h0M258.9 41.9h0M264.8 105.6h0M271.2 97.9h0M261.0 104.4h0M266.1 95.5h0M265.2 93.1h0M264.5 106.8h0M264.2 89.5h0M262.0 105.6h0M262.2 100.1h0M263.4 109.7h0M267.0 94.5h0M255.7 98.8h0M267.5 80.1h0M266.8 106.1h0M262.7 105.0h0M260.4 104.1h0M264.9 106.7h0M265.6 108.9h0M274.5 68.2h0M264.1 95.2h0M261.5 102.2h0M265.9 98.2h0M265.8 98.3h0M261.1 63.2h0M253.7 74.4h0M262.8 110.5h0M260.4 106.9h0M262.4 105.6h0M254.3 91.3h0M267.5 96.7h0M265.0 109.4h0M259.6 93.2h0M265.4 106.5h0M271.7 88.2h0M260.4 107.0h0M264.0 111.7h0M260.1 99.6h0M261.2 107.4h0M264.3 105.9h0M264.9 108.8h0M258.6 87.8h0M266.4 93.5h0M269.5 96.8h0M261.7 98.8h0M263.1 100.3h0M262.2 98.3h0M267.7 104.7h0M266.5 97.9h0M267.1 102.7h0M265.0 94.9h0M260.2 102.9h0M265.4 106.9h0M260.7 79.2h0M265.0 102.9h0M258.6 74.1h0M262.7 108.9h0M271.2 97.4h0M268.3 99.9h0M262.1 108.3h0M250.3 80.5h0M267.1 105.6h0M265.7 101.8h0M264.2 107.4h0M258.7 93.4h0M268.7 92.6h0M260.6 103.7h0M264.8 107.0h0M263.5 95.9h0M265.6 97.9h0M264.9 105.7h0M265.4 105.9h0M269.1 89.6h0M257.3 72.2h0M267.5 102.3h0M262.7 110.7h0M259.8 101.1h0M261.9 106.0h0M264.4 110.6h0M262.2 98.2h0M260.4 92.0h0M260.8 102.4h0M260.9 106.7h0M262.9 107.7h0M262.8 96.4h0M263.9 105.7h0M262.7 92.8h0M265.1 106.6h0M259.2 91.6h0M260.4 90.6h0M264.6 108.0h0M265.6 95.3h0M263.2 109.9h0M258.7 102.1h0M257.1 97.2h0M263.1 102.7h0M257.8 86.6h0M267.4 82.8h0M265.6 98.3h0M264.7 107.3h0M264.4 103.4h0M262.8 106.3h0M265.4 107.5h0M266.7 85.3h0M263.6 109.1h0M263.2 109.8h0M262.0 95.6h0M254.7 81.8h0M261.2 94.5h0M262.8 111.1h0M263.0 77.0h0M261.6 99.1h0M260.5 106.0h0M267.5 81.5h0M265.0 92.0h0M265.5 93.4h0M262.9 98.8h0M267.2 104.9h0M261.8 98.8h0M263.7 106.7h0M264.0 100.5h0M264.2 107.6h0M264.4 108.5h0M255.8 87.3h0M260.8 85.6h0M266.0 106.8h0M264.0 107.9h0M263.3 98.2h0M252.9 92.2h0M255.1 90.1h0M260.9 106.4h0M263.0 103.9h0M265.3 103.0h0M250.1 81.3h0M265.0 105.3h0M263.0 107.3h0M267.7 82.7h0M265.0 104.0h0M262.9 94.6h0M262.6 102.2h0M272.3 88.3h0M270.4 90.6h0M259.4 99.1h0M264.7 110.4h0M266.1 106.1h0M263.7 104.6h0M267.2 105.8h0M264.6 107.1h0M255.2 89.4h0M265.3 100.4h0M263.6 109.2h0M248.1 82.9h0M264.4 107.9h0M256.3 95.0h0M268.7 99.6h0M260.0 100.1h0M269.1 88.6h0M258.1 103.2h0M265.5 107.7h0M265.3 103.3h0M266.4 107.7h0M263.8 109.7h0M256.6 94.0h0M264.7 106.4h0M258.3 103.8h0M269.4 81.7h0M258.8 97.3h0M261.9 107.9h0M268.8 101.3h0M265.9 105.8h0M267.3 85.6h0M263.6 99.2h0M259.2 68.1h0M262.5 110.4h0M265.6 101.2h0M263.9 110.4h0M265.5 103.7h0M263.9 107.1h0M257.2 96.3h0M263.0 97.7h0M262.4 90.3h0M266.1 102.3h0M264.5 96.8h0M259.6 101.4h0M265.0 107.6h0M255.1 76.4h0M261.0 98.8h0M259.6 95.4h0M269.0 95.2h0M267.6 92.7h0M259.5 98.5h0M270.4 73.2h0M264.6 101.3h0M263.6 95.2h0M263.8 106.3h0M268.4 101.0h0M269.2 83.2h0M266.1 107.8h0M264.6 106.6h0M268.5 97.6h0M266.4 94.4h0M264.3 105.0h0M269.7 95.7h0M263.0 106.1h0M263.9 106.5h0M267.1 100.1h0M263.4 102.3h0M254.7 95.4h0M264.3 99.3h0M264.6 109.6h0M259.2 91.1h0M260.9 91.1h0M260.2 98.3h0M260.0 98.2h0M260.7 93.6h0M264.1 109.2h0M261.6 78.1h0M261.8 106.9h0M264.6 109.0h0M260.4 98.0h0M260.8 91.8h0M262.7 46.8h0M258.5 93.8h0M258.9 86.9h0M268.9 96.6h0M263.3 111.0h0M263.2 93.3h0M258.6 103.4h0M263.3 98.9h0M263.5 76.7h0M263.6 111.6h0M251.1 61.8h0M262.4 104.2h0M259.1 104.8h0M267.6 85.4h0M262.0 107.3h0M259.8 91.6h0M264.8 108.1h0M262.7 111.0h0M269.9 88.0h0M265.2 109.7h0M263.0 102.6h0M257.7 98.3h0M264.3 101.7h0M259.8 101.6h0M258.5 97.8h0M261.7 105.2h0M262.2 108.6h0M260.0 104.9h0M263.5 104.3h0M264.0 95.8h0M265.1 106.0h0M264.0 97.9h0M263.2 101.9h0M263.6 101.5h0M264.0 111.8h0M262.5 103.6h0M261.2 108.7h0M260.4 75.0h0M261.2 106.2h0M258.6 94.3h0M266.8 104.5h0M259.9 79.9h0M265.2 105.5h0M261.8 107.7h0M263.5 109.4h0M262.0 105.9h0M266.4 103.6h0M263.4 108.7h0M270.7 97.8h0M264.6 109.5h0M266.2 91.9h0M266.0 77.2h0M262.9 107.5h0M274.8 45.4h0M264.4 108.6h0M269.8 89.6h0M267.3 95.7h0M264.6 100.0h0M263.6 107.3h0M263.3 107.1h0M262.4 105.8h0M264.6 109.0h0M258.5 100.1h0M266.1 62.3h0M265.4 83.8h0M264.3 107.2h0M273.4 93.1h0M261.1 85.2h0M261.5 106.7h0M269.9 97.5h0M261.0 97.7h0M263.2 100.9h0M276.1 80.4h0M265.7 97.5h0M262.5 110.8h0M275.1 91.0h0M267.7 95.9h0M267.4 97.8h0M266.8 94.4h0M265.7 91.4h0M277.0 66.1h0M267.8 104.6h0M257.6 91.2h0M269.4 97.7h0M269.4 87.2h0M264.5 93.7h0M262.6 110.2h0M265.3 98.0h0M265.5 108.7h0M262.0 99.1h0M267.4 92.1h0M265.9 95.8h0M263.6 105.9h0M261.1 104.2h0M265.7 99.7h0M263.5 101.8h0M264.4 109.0h0M262.7 105.4h0M267.0 79.3h0M255.0 82.9h0M258.2 100.0h0M265.3 98.4h0M263.7 109.0h0M263.9 109.8h0M261.9 110.0h0M256.6 83.9h0M269.3 83.7h0M264.9 100.6h0M265.9 93.7h0M260.5 98.7h0M266.3 95.8h0M266.7 91.7h0M262.4 106.9h0M259.4 99.6h0M265.4 107.3h0M265.4 104.5h0M260.5 84.9h0M262.1 76.5h0M266.9 87.5h0M263.8 108.5h0M263.9 97.1h0M264.1 104.9h0M254.9 84.4h0M259.5 72.0h0M261.2 108.0h0M267.6 92.9h0M257.0 89.8h0M263.1 110.8h0M268.9 95.3h0M265.5 99.8h0M267.3 99.6h0M261.8 107.1h0M266.1 93.8h0M263.1 104.4h0M265.0 100.8h0M258.5 52.3h0M263.6 89.9h0M258.9 89.8h0M265.2 106.5h0M260.8 107.3h0M272.0 92.5h0M266.1 106.1h0M263.4 104.8h0M262.8 99.1h0M274.5 83.3h0M261.0 79.3h0M264.9 102.4h0M264.2 106.0h0M261.8 96.6h0M259.6 104.9h0M258.4 99.8h0M265.6 106.5h0M268.8 98.9h0M264.1 110.3h0M250.4 90.0h0M262.9 103.4h0M269.5 74.7h0M265.5 108.3h0M265.1 96.1h0M263.1 108.7h0M263.2 73.1h0M261.5 97.3h0M268.0 88.5h0M262.0 105.0h0M263.5 98.1h0M259.7 99.6h0M273.7 81.1h0M263.9 109.8h0M260.9 96.3h0M260.3 81.6h0M261.7 78.5h0M267.3 105.5h0M260.4 90.4h0M259.9 103.9h0M260.3 78.9h0M265.2 98.6h0M266.6 94.4h0M265.1 101.6h0M265.8 100.5h0M256.7 100.6h0M264.4 106.1h0M252.9 43.4h0M264.2 100.3h0M262.3 102.1h0M263.7 107.5h0M264.7 108.5h0M266.0 104.3h0M261.4 100.5h0M264.9 91.2h0M258.8 86.6h0M266.3 92.0h0M270.6 81.3h0M262.1 109.8h0M265.9 86.0h0M263.1 111.0h0M265.8 94.3h0M255.3 80.5h0M264.7 104.5h0M261.6 107.9h0M271.9 89.2h0M263.8 106.3h0M264.2 98.1h0M268.5 100.0h0M270.4 100.9h0M264.9 109.9h0M258.8 78.3h0M261.5 107.6h0M262.8 106.7h0M267.4 89.5h0M263.6 106.7h0M262.2 107.2h0M265.7 105.0h0M264.1 111.3h0M264.6 100.5h0M259.1 103.4h0M263.0 99.3h0M261.7 75.2h0M266.6 97.9h0M262.4 74.1h0M261.7 106.4h0M258.8 101.2h0M269.7 99.1h0M258.5 91.5h0M262.4 102.4h0M260.4 98.3h0M265.2 105.3h0M266.8 104.1h0M261.3 104.9h0M264.1 104.2h0M264.0 100.9h0M267.7 97.7h0M263.4 106.6h0M263.8 102.4h0M269.2 93.5h0M262.3 110.0h0M262.6 99.4h0M259.6 105.8h0M267.8 101.6h0M264.3 102.6h0M262.7 110.0h0M260.4 99.8h0M261.4 93.8h0M257.1 84.9h0M262.7 108.6h0M258.1 95.3h0M247.0 83.6h0M264.1 110.4h0M258.7 79.4h0M268.1 98.3h0M261.9 100.6h0M265.4 89.1h0M261.1 108.5h0M270.3 92.3h0M263.7 97.4h0M265.5 109.0h0M274.0 73.2h0M265.3 104.3h0M263.5 108.6h0M264.0 88.8h0M264.1 107.4h0M264.1 105.0h0M264.8 109.0h0M263.3 108.0h0M265.9 108.1h0M266.7 102.6h0M268.1 89.0h0M264.0 105.8h0M264.6 106.6h0M261.0 97.7h0M259.7 77.3h0M262.2 101.1h0M265.4 105.3h0M264.3 99.0h0M259.3 93.3h0M263.4 111.4h0M266.0 103.1h0M262.0 107.6h0M258.6 99.3h0M263.3 111.3h0M266.0 78.3h0M260.9 105.2h0M256.7 89.3h0M264.4 106.4h0M263.8 99.1h0M259.0 103.7h0M262.7 111.2h0M262.0 107.3h0M262.6 103.8h0M267.7 103.6h0M263.3 102.8h0M262.8 111.0h0M263.2 110.4h0M264.7 71.3h0M261.5 106.0h0M260.9 106.5h0M261.3 95.0h0M264.0 98.0h0M265.4 106.7h0M262.4 86.2h0M263.0 111.4h0M265.1 75.2h0M263.9 105.8h0M267.8 92.2h0M261.8 103.7h0M261.4 108.4h0M264.5 109.5h0M263.1 101.5h0M263.3 105.5h0M259.7 98.8h0M271.7 89.7h0M269.9 100.5h0M262.9 103.1h0M261.5 102.1h0M265.6 98.8h0M263.7 104.3h0M265.5 95.0h0M267.1 104.6h0M256.5 96.0h0M267.1 102.8h0M272.7 96.2h0M262.4 108.2h0M258.0 101.2h0M267.6 105.5h0M269.9 84.6h0M266.3 107.3h0M261.6 106.4h0M264.5 108.9h0M267.3 104.4h0M264.8 103.2h0M259.0 101.7h0M260.2 99.3h0M266.8 87.1h0M263.3 99.5h0M266.2 90.4h0M261.6 101.2h0M273.8 93.9h0M264.1 110.3h0M265.1 103.1h0M266.7 105.5h0M254.2 67.5h0M261.4 101.7h0M259.7 89.4h0M263.3 91.4h0M263.5 57.0h0M259.9 97.7h0M260.2 106.0h0M263.0 106.8h0M269.5 84.0h0M258.8 101.2h0M255.4 94.3h0M261.7 57.5h0M268.7 78.1h0M266.2 96.7h0M264.5 105.4h0M261.8 109.7h0M270.4 61.7h0M261.4 93.2h0M256.5 55.8h0M258.0 75.8h0M265.9 106.3h0M260.2 94.4h0M269.9 78.4h0M265.2 105.1h0M262.4 82.0h0M262.4 101.5h0M262.8 103.9h0M264.0 111.7h0M265.6 101.0h0M260.8 104.7h0M265.6 108.0h0M262.5 92.9h0M264.4 107.4h0M261.3 107.5h0M263.5 96.0h0M264.2 97.7h0M269.4 86.0h0M257.4 83.0h0M261.6 106.9h0M259.7 100.6h0M260.5 102.2h0M266.6 107.2h0M268.3 86.8h0M267.3 98.4h0M260.3 97.6h0M262.7 109.8h0M264.2 110.9h0M263.4 111.8h0M267.4 92.4h0M266.1 101.2h0M263.0 84.6h0M264.1 109.1h0M257.6 86.1h0M265.8 96.9h0M256.0 61.9h0M262.3 83.9h0M262.7 109.1h0M258.4 93.1h0M259.9 103.9h0M264.7 102.3h0M261.9 109.1h0M265.4 103.2h0M261.3 100.7h0M260.1 84.5h0M259.4 103.4h0M262.1 104.4h0M262.0 103.1h0M263.4 108.2h0M265.1 101.4h0M255.9 87.6h0M259.6 105.5h0M265.0 96.3h0M255.3 83.6h0M266.9 91.5h0M257.9 100.1h0M269.2 96.7h0M260.9 97.0h0M268.5 80.4h0M262.8 107.8h0M265.0 106.7h0M260.1 106.0h0M262.3 109.6h0M262.1 105.5h0M260.9 97.7h0M262.5 108.3h0M257.0 90.2h0M263.3 108.3h0M263.6 93.4h0M259.6 95.8h0M263.8 96.1h0M264.0 101.2h0M260.6 82.4h0M262.0 97.8h0M259.6 94.1h0M265.4 81.5h0M258.8 101.4h0M263.2 111.3h0M268.2 74.6h0M262.4 108.5h0M263.3 110.6h0M267.6 95.1h0M254.7 94.5h0M264.6 101.8h0M266.7 106.1h0M273.9 80.8h0M264.4 94.1h0M258.6 98.4h0M267.2 104.3h0M271.7 97.3h0M268.9 76.9h0M267.2 103.8h0M279.3 86.0h0M269.4 84.0h0M265.9 106.1h0M268.6 92.8h0M260.7 106.2h0M264.0 103.8h0M271.1 95.2h0M266.0 97.5h0M264.7 97.0h0M265.7 92.7h0M262.7 108.0h0M268.1 98.9h0M262.7 108.9h0M265.6 108.2h0M263.7 82.0h0M264.3 103.3h0M258.3 90.4h0M269.5 74.8h0M263.2 96.3h0M268.7 103.5h0M263.9 111.2h0M261.6 105.3h0M268.2 103.9h0M259.8 105.4h0M259.5 102.2h0M264.4 106.0h0M266.8 77.7h0M264.1 110.5h0M263.6 109.3h0M270.5 88.4h0M263.6 95.3h0M269.7 71.6h0M264.6 106.3h0M264.8 99.8h0M266.3 107.9h0M263.6 111.0h0M265.5 100.6h0M261.1 92.3h0M262.6 104.9h0M257.9 96.1h0M266.1 102.4h0M267.6 103.8h0M262.6 99.2h0M265.1 106.2h0M269.1 100.8h0M264.2 85.6h0M262.6 102.4h0M264.4 108.1h0M263.1 70.8h0M269.4 91.5h0M266.1 72.0h0M266.0 107.9h0M267.2 94.7h0M267.9 102.9h0M263.7 70.7h0M263.2 102.0h0M260.8 86.7h0M264.5 98.2h0M261.6 100.3h0M264.6 98.7h0M254.1 60.1h0M265.7 105.8h0M269.6 91.4h0M264.6 106.9h0M278.9 81.3h0M268.8 90.9h0M262.0 95.4h0M263.5 94.3h0M262.1 104.9h0M263.4 105.3h0M261.2 103.9h0M261.7 96.9h0M264.2 105.7h0M267.3 96.9h0M265.1 105.2h0M259.9 99.0h0M264.4 109.1h0M263.4 91.4h0M265.0 109.8h0M262.9 94.5h0M262.3 105.4h0M261.7 95.7h0M262.5 98.4h0M262.0 84.3h0M263.6 107.2h0M260.4 98.8h0M259.8 96.5h0M263.3 110.0h0M266.5 105.8h0M261.2 90.7h0M259.2 99.6h0M263.2 101.6h0M268.4 93.4h0M268.6 93.4h0M264.8 106.3h0M263.0 111.2h0M268.3 102.8h0M261.6 102.0h0M268.2 104.4h0M258.4 103.0h0M261.4 107.2h0M268.0 99.8h0M260.8 103.5h0M261.7 92.5h0M263.9 111.7h0M257.7 100.6h0M270.1 95.6h0M256.5 96.1h0M264.5 106.8h0M266.6 104.4h0M264.7 110.4h0M263.5 111.7h0M266.1 96.8h0M258.3 82.2h0M268.1 103.2h0M266.5 88.4h0M262.9 111.3h0M267.1 104.6h0M264.7 108.6h0M262.8 78.8h0M268.5 102.6h0M258.4 98.1h0M257.6 96.3h0M263.7 102.4h0M265.2 105.9h0M261.6 106.9h0M262.4 101.7h0M261.0 85.4h0M263.9 101.4h0M261.1 106.3h0M265.1 90.7h0M261.7 91.2h0M269.5 92.4h0M262.8 85.4h0M274.4 54.8h0M263.1 87.3h0M261.5 106.1h0M264.7 97.8h0M264.9 99.5h0M265.4 108.9h0M263.0 108.2h0M265.3 93.5h0M271.4 79.4h0M263.4 109.6h0M261.9 107.4h0M260.6 100.7h0M254.9 98.1h0M265.7 108.4h0M256.5 81.7h0M265.4 107.8h0M262.8 107.4h0M260.0 91.3h0M263.5 110.9h0M265.8 97.8h0M265.0 105.4h0M267.5 105.9h0M257.8 84.5h0M263.7 110.3h0M264.9 103.3h0M264.6 100.4h0M263.7 107.9h0M262.3 100.8h0M263.1 111.8h0M266.8 80.7h0M259.7 102.5h0M263.7 111.1h0M263.4 104.9h0M262.0 108.6h0M263.5 100.6h0M263.8 88.7h0M270.5 94.7h0M264.0 84.5h0M262.6 99.8h0M263.1 105.1h0M264.5 110.3h0M261.7 108.0h0M266.7 104.6h0M264.3 107.8h0M261.9 94.5h0M264.2 107.5h0M273.2 93.4h0M260.8 107.4h0M265.0 98.1h0M263.0 105.6h0M263.9 100.6h0M248.1 62.5h0M262.9 93.3h0M267.0 42.1h0M262.4 106.9h0M268.3 93.5h0M264.2 110.3h0M256.7 100.0h0M260.8 88.0h0M264.0 92.8h0M264.6 90.9h0M258.1 91.8h0M265.6 103.8h0M261.1 106.6h0M265.5 89.0h0M261.9 105.4h0M263.6 101.4h0M260.0 85.8h0M257.1 101.9h0M263.1 109.5h0M261.6 106.5h0M264.0 107.7h0M259.7 105.2h0M268.7 98.0h0M263.8 107.7h0M268.2 101.9h0M258.2 100.7h0M264.2 110.1h0M256.8 97.9h0M266.2 101.5h0M262.3 101.9h0M263.4 105.4h0M263.1 105.7h0M263.8 98.8h0M264.1 108.9h0M258.5 66.9h0M265.1 96.5h0M259.9 96.3h0M260.6 94.4h0M265.1 93.8h0M262.2 105.8h0M261.2 107.4h0M260.2 102.1h0M268.9 94.6h0M266.8 98.5h0M265.3 95.1h0M263.4 101.9h0M254.7 95.7h0M280.6 77.1h0M265.8 93.0h0M262.3 106.5h0M265.1 86.3h0M263.2 110.7h0M262.1 96.7h0M267.2 106.4h0M261.3 97.5h0M260.2 99.7h0M264.7 109.5h0M252.1 74.7h0M265.2 92.7h0M260.9 107.7h0M268.2 81.3h0M265.2 104.7h0M262.2 105.6h0M265.0 100.1h0M253.8 90.7h0M270.0 100.0h0M261.1 96.2h0M264.9 108.3h0M264.1 86.6h0M268.8 92.6h0M250.7 70.9h0M266.6 96.8h0M265.4 93.8h0M263.6 101.0h0M265.7 93.7h0M259.7 73.0h0M265.1 99.9h0M262.8 103.1h0M246.8 59.8h0M263.6 108.5h0M265.9 107.9h0M261.5 96.4h0M258.2 101.2h0M259.1 93.9h0M264.4 95.7h0M256.1 93.6h0M264.2 88.6h0M263.3 91.3h0M265.9 99.0h0M262.1 93.6h0M262.7 100.2h0M266.8 102.8h0M263.8 103.5h0M264.8 109.3h0M271.9 94.0h0M264.9 98.8h0M261.4 109.0h0M263.9 111.5h0M267.0 105.7h0M266.1 106.6h0M263.1 101.9h0M266.9 102.8h0M263.0 109.7h0M263.2 111.5h0M269.4 89.1h0M261.6 106.6h0M257.6 101.6h0M265.1 79.6h0M268.3 83.3h0M261.7 98.3h0M265.2 101.8h0M263.3 104.9h0M264.0 106.9h0M263.7 100.0h0M269.2 94.9h0M263.5 109.8h0M268.1 103.4h0M262.0 109.7h0M265.6 94.5h0M268.1 104.3h0M263.2 101.0h0M263.9 92.4h0M265.6 107.2h0M264.1 110.7h0M267.2 102.4h0M258.2 89.5h0M270.9 93.7h0M261.2 108.3h0M264.2 105.4h0M262.4 95.6h0M269.6 100.4h0M262.2 102.7h0M262.0 106.2h0M261.7 104.7h0M260.7 103.7h0M263.9 111.0h0M261.4 97.8h0M267.5 104.6h0M262.8 100.9h0M266.4 101.8h0M272.7 90.2h0M269.4 100.9h0M260.7 96.9h0M266.1 98.3h0M262.5 101.6h0M262.3 94.1h0M265.0 82.5h0M251.4 77.4h0M258.7 102.8h0M264.6 107.0h0M265.3 108.3h0M264.1 88.4h0M262.1 104.2h0M266.4 107.1h0M265.0 69.5h0M265.3 94.8h0M267.9 104.3h0M262.4 107.6h0M263.0 103.1h0M262.9 108.4h0M263.2 104.6h0M263.7 101.8h0M274.1 72.4h0M263.3 107.6h0M263.7 104.5h0M266.7 107.1h0M261.5 101.7h0M262.8 107.4h0M266.2 101.7h0M264.9 106.8h0M257.0 86.3h0M262.5 110.5h0M258.6 98.4h0M264.6 85.9h0M267.5 105.2h0M263.5 111.1h0M265.0 110.2h0M258.2 85.0h0M264.3 104.1h0M261.3 98.6h0M260.7 97.9h0M264.7 43.8h0M263.8 106.2h0M263.8 107.0h0M262.7 110.4h0M260.5 98.9h0M260.6 88.8h0M272.2 95.1h0M265.9 93.3h0M261.5 104.2h0M263.1 99.5h0M264.3 99.0h0M261.6 107.0h0M264.3 108.2h0M263.5 109.3h0M262.8 102.8h0M265.6 101.3h0M256.0 84.6h0M262.0 94.8h0M262.0 93.4h0M260.3 103.9h0M264.3 109.8h0M258.6 102.8h0M260.2 94.7h0M265.8 67.6h0M265.0 83.0h0M259.8 105.8h0M250.4 62.3h0M260.9 106.5h0M264.6 109.7h0M264.5 95.6h0M268.9 81.7h0M260.7 104.2h0M264.9 104.2h0M263.4 89.1h0M267.6 94.8h0M267.2 85.3h0M264.1 109.4h0M268.5 94.6h0M263.7 107.9h0M263.3 107.6h0M259.4 100.2h0M259.3 99.1h0M262.1 108.2h0M270.9 88.2h0M260.0 104.9h0M246.0 71.9h0M261.9 92.7h0M262.5 101.1h0M264.6 92.4h0M264.5 103.0h0M259.0 83.8h0M264.9 106.3h0M264.0 109.5h0M265.8 106.0h0M264.1 106.1h0M269.3 78.7h0M262.0 103.3h0M264.3 100.0h0M258.1 93.1h0M265.1 108.1h0M255.4 78.9h0M263.0 101.3h0M259.2 90.9h0M263.1 91.1h0M262.2 105.4h0M263.5 106.2h0M267.8 105.3h0M265.3 91.0h0M266.7 61.7h0M264.0 104.0h0M264.0 94.8h0M260.6 98.0h0M262.6 107.1h0M264.9 108.9h0M256.5 90.7h0M269.2 98.4h0M254.1 84.4h0M266.8 98.4h0M264.7 107.3h0M264.0 98.7h0M260.6 106.1h0M259.0 101.0h0M265.9 91.2h0M263.7 108.8h0M261.9 97.6h0M265.3 108.5h0M263.9 78.3h0M263.5 107.2h0M261.3 103.7h0M261.1 107.9h0M265.0 108.8h0M263.3 111.5h0M256.1 95.6h0M266.4 73.5h0M257.2 82.4h0M258.8 100.1h0M261.1 98.9h0M264.4 93.5h0M264.0 109.9h0M269.7 100.7h0M261.2 69.6h0M270.3 96.0h0M262.4 106.8h0M261.8 91.2h0M263.6 85.3h0M263.1 107.5h0M268.8 75.5h0M263.1 109.7h0M262.0 70.9h0M260.7 107.5h0M259.6 96.2h0M268.9 93.3h0M258.9 96.8h0M262.5 107.5h0M266.1 96.0h0M264.0 109.6h0M265.6 106.5h0M253.7 93.8h0M267.8 97.3h0M264.3 110.8h0M268.9 82.4h0M257.4 95.8h0M261.5 100.6h0M265.6 102.3h0M268.5 103.0h0M261.5 104.1h0M255.8 92.6h0M263.6 96.6h0M267.6 88.7h0M258.6 98.6h0M261.9 60.4h0M268.1 100.3h0M264.9 109.2h0M263.5 108.0h0M271.4 89.7h0M267.1 100.2h0M267.3 98.4h0M260.4 102.8h0M264.1 92.5h0M268.1 76.0h0M264.7 95.9h0M263.9 109.6h0M262.6 101.0h0M262.3 99.8h0M256.5 73.8h0M262.1 105.9h0M267.9 85.0h0M268.1 94.8h0M279.2 75.0h0M268.0 101.7h0M268.1 98.7h0M261.8 102.0h0M270.4 98.1h0M264.7 109.6h0M262.3 77.4h0M259.3 100.4h0M262.6 108.5h0M260.0 95.7h0M260.9 106.4h0M260.4 106.5h0M261.8 94.3h0M263.1 109.9h0M263.6 98.4h0M264.0 104.3h0M267.8 105.3h0M265.2 109.8h0M266.8 101.9h0M265.8 95.0h0M266.2 107.8h0M250.4 72.2h0M263.0 105.5h0M261.6 84.4h0M264.4 107.7h0M268.6 101.0h0M263.1 108.8h0M263.8 111.6h0M261.1 84.7h0M280.0 79.7h0M261.9 104.4h0M263.0 100.5h0M262.6 109.4h0M266.0 100.6h0M270.0 98.9h0M262.6 83.4h0M261.6 81.9h0M266.6 100.8h0M263.5 106.5h0M266.6 41.3h0M264.9 102.5h0M259.2 78.3h0M260.9 106.5h0M265.4 96.9h0M267.5 98.8h0M266.7 105.5h0M266.3 91.9h0M257.2 84.4h0M257.8 82.2h0M264.3 106.7h0M257.8 91.4h0M261.6 61.3h0M265.6 105.4h0M258.4 88.3h0M264.0 99.2h0M268.3 96.5h0M263.1 111.1h0M262.9 97.2h0M261.7 105.4h0M267.2 83.3h0M271.2 83.1h0M275.3 91.3h0M263.3 111.6h0M263.1 109.0h0M262.9 107.7h0M260.0 105.7h0M266.9 49.4h0M262.9 111.5h0M263.5 109.3h0M266.7 60.8h0M263.5 99.0h0M268.5 83.9h0M263.7 93.7h0M261.4 103.0h0M265.1 105.6h0M263.1 105.8h0M268.8 98.6h0M264.0 106.5h0M269.1 97.5h0M267.1 106.2h0M266.5 78.4h0M265.2 93.2h0M265.2 99.1h0M265.4 96.0h0M264.5 85.4h0M266.5 101.6h0M261.8 103.4h0M263.3 99.9h0M263.2 102.2h0M267.7 95.3h0M266.7 105.9h0M263.7 106.6h0M268.0 69.6h0M261.6 103.2h0M251.7 88.2h0M260.0 106.4h0M264.1 107.8h0M264.7 108.7h0M261.6 101.3h0M267.7 100.2h0M262.2 103.7h0M269.8 87.9h0M266.8 89.8h0M261.4 103.3h0M262.2 100.1h0M261.5 106.1h0M265.0 100.2h0M262.5 110.3h0M261.4 80.2h0M263.0 110.3h0M260.6 55.7h0M264.8 95.5h0M259.3 76.6h0M267.0 96.7h0M265.8 107.7h0M266.3 106.6h0M265.8 103.2h0M262.2 108.6h0M263.9 106.4h0M257.8 103.0h0M264.8 102.8h0M266.1 82.7h0M265.4 104.5h0M261.3 92.3h0M270.4 86.6h0M273.1 32.3h0M257.5 92.1h0M263.2 106.8h0M263.0 99.1h0M269.6 91.9h0M263.2 109.5h0M264.6 97.6h0M263.0 100.6h0M270.6 92.5h0M265.2 99.8h0M262.4 50.9h0M256.2 95.1h0M260.1 103.6h0M268.8 86.2h0M264.2 100.9h0M259.8 101.2h0M264.0 95.4h0M259.2 74.7h0M265.1 99.2h0M266.1 84.5h0M273.5 66.0h0M269.2 102.9h0M265.0 108.6h0M259.2 82.0h0M272.0 62.6h0M267.5 105.9h0M259.8 98.1h0M260.8 107.1h0M263.4 108.3h0M256.5 100.5h0M252.5 27.9h0M264.7 84.6h0M261.0 108.2h0M272.7 69.7h0M270.4 68.8h0M265.8 80.1h0M265.2 88.1h0M262.4 88.6h0M258.6 101.2h0M260.6 101.9h0M264.4 100.7h0M264.8 110.4h0M263.2 109.6h0M261.6 99.4h0M265.0 97.3h0M261.0 98.0h0M267.9 92.9h0M261.6 106.3h0M263.6 99.9h0M272.2 93.1h0M263.5 78.5h0M262.6 107.1h0M255.6 92.6h0M259.6 104.5h0M260.9 70.0h0M259.8 102.5h0M265.3 105.1h0M267.1 97.8h0M267.4 100.0h0M279.0 71.5h0M263.0 110.1h0M266.2 103.9h0M267.4 93.9h0M267.1 102.9h0M261.7 98.6h0M271.9 76.2h0M272.4 57.2h0M262.6 69.6h0M263.1 90.0h0M264.4 105.4h0M273.7 65.6h0M261.4 99.9h0M266.1 102.6h0M267.5 97.4h0M266.0 96.5h0M266.2 106.6h0M263.7 102.7h0M264.3 106.1h0M265.4 107.5h0M262.6 100.4h0M258.9 85.0h0M263.0 105.2h0M266.5 107.5h0M265.8 83.9h0M263.7 108.8h0M264.2 108.2h0M264.8 99.3h0M266.1 86.2h0M264.8 91.9h0M261.2 106.7h0M262.6 110.6h0M262.8 111.1h0M266.3 65.4h0M265.4 108.7h0M264.3 94.0h0M262.4 110.3h0M247.8 78.3h0M263.3 102.4h0M264.4 110.4h0M263.5 81.9h0M265.5 101.7h0M265.5 93.0h0M256.4 76.1h0M261.4 101.3h0M261.1 101.5h0M264.7 101.7h0M262.0 108.6h0M266.9 74.5h0M267.7 101.0h0M266.8 82.0h0M256.6 81.5h0M266.4 96.9h0M266.2 99.8h0M263.7 105.6h0M263.0 107.9h0M263.1 106.7h0M266.0 107.8h0M263.5 106.2h0M261.8 94.5h0M263.7 111.8h0M264.4 92.7h0M261.9 107.1h0M272.2 89.3h0M258.8 89.3h0M269.6 95.3h0M264.2 105.1h0M260.3 97.4h0M261.4 100.4h0M261.4 84.2h0M268.7 99.0h0M260.8 96.6h0M262.8 88.1h0M262.8 108.7h0M263.7 109.6h0M260.8 92.5h0M266.4 107.5h0M269.9 84.6h0M262.1 97.9h0M263.3 101.3h0M263.7 102.2h0M259.8 101.3h0M269.7 95.2h0M263.1 106.9h0M263.1 111.8h0M262.6 99.4h0M258.0 96.1h0M263.8 93.9h0M262.1 102.7h0M265.4 108.0h0M262.6 95.4h0M264.5 98.7h0M271.3 71.9h0M266.2 104.6h0M262.2 105.0h0M267.5 94.8h0M263.2 97.9h0M259.4 66.2h0M262.7 96.7h0M267.2 103.2h0M264.3 109.8h0M266.9 94.5h0M258.4 102.2h0M254.8 80.1h0M265.9 105.0h0M257.7 100.2h0M262.8 102.4h0M268.4 103.7h0M257.8 85.6h0M262.6 100.3h0M253.8 80.0h0M253.9 87.8h0M259.3 104.6h0M260.7 99.8h0M262.1 108.5h0M258.1 90.5h0M260.0 106.3h0M261.7 107.7h0M259.2 93.6h0M266.1 89.5h0M263.4 105.9h0M261.0 96.8h0M266.5 103.1h0M265.7 107.8h0M263.5 109.3h0M260.0 91.6h0M264.1 105.2h0M263.9 99.6h0M260.1 94.5h0M262.7 94.7h0M268.2 83.5h0M266.4 93.2h0M264.1 83.3h0M262.9 92.1h0M264.6 109.4h0M262.4 106.1h0M260.8 106.9h0M264.9 110.2h0M261.8 106.1h0M257.9 95.6h0M265.0 103.4h0M264.0 108.7h0M259.4 98.6h0M265.8 107.0h0M265.7 101.3h0M263.7 110.8h0M263.5 107.6h0M263.4 90.4h0M274.4 89.5h0M265.8 87.8h0M264.0 103.8h0M262.1 95.5h0M255.6 84.8h0M261.4 100.9h0M266.4 104.3h0M257.9 90.7h0M264.3 108.7h0M256.4 83.4h0M256.3 96.9h0M270.2 93.6h0M263.3 105.7h0M266.9 101.3h0M261.3 88.4h0M270.6 92.8h0M267.7 104.7h0M263.1 94.8h0M259.0 100.4h0M266.3 103.3h0M267.8 95.1h0M267.9 103.4h0M264.2 105.3h0M265.7 96.3h0M262.7 106.9h0M262.5 98.1h0M264.1 96.2h0M264.3 105.8h0M266.9 102.8h0M267.0 101.9h0M262.6 90.5h0M267.7 94.4h0M259.4 89.8h0M266.4 96.2h0M273.4 81.3h0M265.9 95.5h0M267.1 100.5h0M258.1 98.7h0M259.2 94.3h0M265.9 101.9h0M263.5 108.7h0M263.8 75.5h0M263.7 105.5h0M263.5 110.4h0M258.4 98.4h0M246.1 48.6h0M262.4 104.4h0M257.0 97.6h0M267.3 103.8h0M261.0 93.2h0M268.6 100.9h0M265.6 95.5h0M263.7 107.3h0M264.8 110.3h0M267.7 90.0h0M270.2 86.5h0M265.4 100.7h0M266.7 84.4h0M258.0 97.6h0M272.4 93.5h0M261.8 89.2h0M263.4 106.2h0M273.2 87.4h0M257.4 27.4h0M263.4 108.6h0M263.6 102.5h0M265.1 105.5h0M265.2 105.4h0M266.7 103.4h0M263.2 110.9h0M260.9 102.4h0M264.2 104.6h0M266.0 104.5h0M262.9 109.1h0M261.5 106.1h0M266.0 106.3h0M263.2 107.7h0M262.5 103.4h0M261.1 92.4h0M258.8 96.9h0M265.4 102.0h0M267.3 104.4h0M264.7 109.7h0M265.4 106.0h0M263.8 110.6h0M260.7 82.8h0M268.3 102.8h0M255.3 90.3h0M255.2 92.1h0M258.5 95.9h0M269.3 66.8h0M261.8 107.6h0M261.3 101.7h0M260.9 108.1h0M260.3 103.5h0M264.3 103.5h0M261.5 97.3h0M263.6 102.2h0M258.3 103.8h0M263.2 108.3h0M263.8 108.2h0M261.9 103.6h0M264.6 103.1h0M262.7 101.3h0M265.7 89.7h0M262.9 108.3h0M265.7 82.7h0M261.3 101.2h0M255.8 86.2h0M269.2 96.4h0M263.3 101.2h0M264.8 109.5h0M256.0 70.4h0M263.5 111.7h0M262.3 109.7h0M263.8 112.0h0M265.5 109.0h0M263.5 101.4h0M263.5 111.7h0M253.8 87.1h0M262.0 100.1h0M261.0 93.0h0M264.3 88.5h0M266.4 101.9h0M272.0 63.2h0M261.1 100.8h0M263.3 105.4h0M261.6 108.5h0M267.0 99.3h0M267.4 98.7h0M264.5 89.3h0M261.3 104.8h0M262.2 100.4h0M262.8 101.0h0M260.0 70.1h0M268.6 94.5h0M265.7 99.9h0M263.4 103.4h0M262.5 92.4h0M266.1 106.6h0M276.2 89.9h0M260.8 104.4h0M267.3 102.9h0M265.6 88.0h0M264.9 105.9h0M269.1 89.1h0M263.0 105.0h0M262.8 100.0h0M265.3 102.3h0M259.0 102.9h0M259.5 104.6h0M258.6 98.2h0M266.3 81.2h0M260.7 101.9h0M264.3 105.8h0M266.0 108.0h0M264.7 88.9h0M266.9 97.7h0M262.8 109.5h0M261.5 81.3h0M263.6 101.0h0M258.3 90.1h0M271.7 69.1h0M259.3 99.1h0M260.9 63.5h0M265.1 108.0h0M271.4 44.2h0M261.6 107.7h0M262.3 96.5h0M267.0 101.8h0M266.2 103.1h0M259.1 95.5h0M263.2 110.8h0M259.9 98.5h0M262.5 102.4h0M258.3 94.6h0M263.6 109.5h0M262.8 101.4h0M277.0 71.9h0M264.6 99.7h0M265.1 101.4h0M260.1 98.9h0M265.6 99.0h0M273.5 95.5h0M267.7 103.6h0M268.4 103.8h0M265.3 99.6h0M266.3 100.2h0M266.9 103.4h0M264.3 93.0h0M251.0 74.0h0M262.8 101.7h0M274.2 33.8h0M250.3 53.7h0M259.4 101.2h0M262.8 91.7h0M261.4 108.3h0M262.0 76.0h0M261.5 96.9h0M259.2 71.0h0M263.8 97.5h0M263.9 107.6h0M263.1 100.2h0M284.0 71.3h0M264.9 91.6h0M267.8 103.5h0M250.9 81.7h0M275.7 67.3h0M263.6 67.1h0M264.7 94.4h0M275.8 68.3h0M247.6 65.5h0M263.0 102.9h0M262.6 89.4h0M265.0 98.2h0M263.5 93.2h0M281.9 67.2h0M260.2 100.9h0M263.1 111.4h0M265.4 104.7h0M261.6 107.4h0M260.9 105.9h0M264.9 98.0h0M266.1 97.8h0M264.3 105.8h0M260.8 104.9h0M261.8 105.7h0M268.5 104.3h0M256.4 92.8h0M274.4 89.4h0M268.5 96.2h0M262.0 108.2h0M263.7 108.8h0M257.5 71.7h0M261.4 107.8h0M265.8 107.7h0M258.6 89.2h0M265.7 101.1h0M271.3 86.9h0M274.8 88.8h0M262.3 97.0h0M262.2 96.9h0M268.6 93.6h0M258.4 98.5h0M264.7 107.0h0M264.9 71.1h0M268.1 80.4h0M263.3 111.1h0M262.4 108.7h0M263.3 109.9h0M265.7 107.2h0M263.7 94.7h0M264.9 99.6h0M258.0 96.2h0M266.2 98.5h0M262.1 99.0h0M259.2 95.0h0M265.4 108.1h0M260.4 71.5h0M264.4 101.8h0M258.0 73.3h0M265.4 104.7h0M253.5 89.5h0M266.3 92.0h0M264.1 97.5h0M261.9 102.3h0M260.0 106.2h0M263.5 106.8h0M266.3 107.6h0M262.3 89.0h0M263.9 105.6h0M270.7 88.7h0M259.1 75.1h0M259.0 97.3h0M266.0 103.1h0M268.6 101.3h0M263.5 90.9h0M263.0 90.5h0M267.0 103.9h0M260.7 57.1h0M256.0 84.3h0M265.9 104.6h0M266.1 104.4h0M272.7 96.2h0M262.4 102.0h0M263.3 107.3h0M263.5 98.8h0M260.3 104.0h0M262.7 109.0h0M261.8 107.2h0M266.5 107.4h0M265.1 97.6h0M265.5 97.4h0M259.5 99.5h0M260.5 96.1h0M264.4 77.6h0M260.0 105.5h0M263.1 109.5h0M264.9 106.8h0M265.8 105.6h0M262.5 109.5h0M252.8 86.3h0M265.8 108.3h0M267.8 101.3h0M264.3 104.4h0M262.9 110.5h0M268.4 77.5h0M264.0 110.4h0M261.2 108.6h0M261.8 106.7h0M264.9 109.3h0M262.9 100.7h0M263.4 110.1h0M259.6 91.4h0M265.2 97.2h0M260.7 103.0h0M264.7 106.1h0M263.5 104.7h0M266.1 105.8h0M266.0 90.3h0M264.3 103.3h0M266.0 86.8h0M260.8 107.4h0M260.3 94.1h0M270.0 70.5h0M263.4 111.7h0M260.3 91.5h0M258.4 97.3h0M263.8 96.6h0M262.7 110.8h0M269.2 98.7h0M265.5 93.3h0M268.8 93.7h0M261.6 107.9h0M266.0 106.9h0M257.8 100.5h0M266.9 92.2h0M264.8 98.7h0M268.4 92.4h0M264.2 107.9h0M259.4 95.6h0M263.3 107.9h0M267.3 102.2h0M256.5 100.5h0M261.0 96.6h0M262.9 86.2h0M261.0 104.1h0M268.6 93.7h0M262.5 84.4h0M268.8 101.1h0M269.1 99.2h0M261.1 90.5h0M272.2 97.9h0M262.8 86.9h0M263.2 107.3h0M259.9 100.8h0M266.3 87.0h0M261.5 104.7h0M267.5 77.4h0M258.9 103.9h0M268.0 82.8h0M265.4 108.1h0M263.8 106.2h0M263.6 107.4h0M267.6 96.3h0M263.2 99.9h0M265.7 96.9h0M263.6 95.5h0M268.7 99.0h0M260.4 106.6h0M266.6 68.7h0M266.0 107.0h0M269.3 97.3h0M268.9 83.3h0M265.5 101.8h0M261.5 106.9h0M260.4 101.6h0M264.1 89.2h0M265.1 106.5h0M263.2 54.9h0M265.2 109.4h0M258.6 88.3h0M262.2 106.1h0M259.7 90.1h0M266.5 97.1h0M259.9 73.8h0M263.3 111.2h0M264.0 111.8h0M275.0 65.9h0M257.4 38.1h0M266.2 98.2h0M260.3 103.6h0M263.8 97.9h0M265.3 103.6h0M263.0 108.8h0M265.5 82.9h0M267.3 102.5h0M263.7 105.3h0M261.4 93.7h0M263.1 106.6h0M261.7 96.5h0M259.4 97.5h0M262.1 99.1h0M264.8 99.4h0M263.4 111.8h0M261.4 89.0h0M265.3 98.3h0M267.8 102.9h0M267.6 90.2h0M265.3 106.5h0M261.3 105.4h0M261.5 84.4h0M254.1 76.1h0M265.9 105.3h0M261.2 96.6h0M263.2 110.8h0M274.5 76.2h0M272.7 89.2h0M269.6 93.8h0M255.4 97.9h0M265.2 107.3h0M261.1 83.3h0M264.4 105.7h0M259.3 99.4h0M265.8 106.7h0M262.5 103.3h0M269.2 101.3h0M258.1 103.4h0M263.3 104.9h0M264.8 109.6h0M268.0 103.1h0M267.2 99.3h0M259.3 98.0h0M271.6 73.5h0M274.3 90.1h0M269.0 102.8h0M255.3 81.8h0M265.5 102.0h0M261.0 96.8h0M262.5 101.3h0M269.8 85.9h0M273.1 85.2h0M256.4 59.6h0M265.9 82.6h0M267.5 90.4h0M257.1 94.8h0M263.6 106.9h0M272.0 84.2h0M261.9 100.0h0M264.8 104.4h0M265.7 78.6h0M261.6 97.6h0M263.4 111.6h0M254.8 95.5h0M263.2 105.4h0M253.4 72.5h0M257.8 70.0h0M263.7 93.0h0M260.8 93.5h0M263.9 103.6h0M265.1 107.5h0M264.8 98.0h0M266.7 102.4h0M266.2 108.1h0M261.3 104.0h0M261.9 106.1h0M259.2 97.0h0M263.9 107.8h0M266.6 101.8h0M260.8 93.1h0M262.2 103.2h0M260.9 91.9h0M261.8 104.6h0M262.0 102.5h0M258.6 94.7h0M271.2 98.5h0M262.2 108.1h0M264.0 111.1h0M266.9 104.9h0M260.0 96.9h0M265.2 90.9h0M264.0 105.1h0M262.2 90.4h0M263.1 107.0h0M263.2 103.4h0M267.2 83.3h0M272.0 97.9h0M266.6 103.3h0M265.5 89.3h0M261.9 103.4h0M264.2 102.9h0M259.3 94.3h0M244.8 77.4h0M265.4 71.8h0M259.7 98.7h0M262.1 88.3h0M268.2 84.8h0M267.3 102.8h0M268.7 82.0h0M265.2 101.3h0M262.1 103.9h0M262.7 99.3h0M266.1 107.6h0M266.2 107.2h0M263.0 109.8h0M262.8 100.8h0M264.6 103.7h0M265.8 107.7h0M258.5 82.3h0M263.1 101.9h0M261.2 98.6h0M263.4 111.6h0M257.7 97.5h0M263.8 99.2h0M262.4 105.2h0M255.2 86.7h0M255.8 86.5h0M264.1 103.7h0M269.5 95.6h0M261.5 94.8h0M266.6 105.7h0M262.1 88.9h0M262.2 107.3h0M269.6 99.8h0M264.6 109.7h0M260.5 96.7h0M261.3 107.5h0M262.2 93.5h0M265.0 106.1h0M271.2 84.9h0M266.6 86.7h0M266.7 106.3h0M264.2 89.1h0M263.2 110.2h0M262.9 97.3h0M263.7 107.3h0M267.7 101.8h0M262.2 109.6h0M263.3 109.2h0M265.2 99.0h0M260.3 104.4h0M262.1 109.3h0M263.1 105.0h0M266.9 105.5h0M264.1 100.0h0M263.2 111.8h0M257.4 98.3h0M262.7 90.4h0M264.4 108.8h0M260.2 107.2h0M263.0 108.0h0M261.7 107.3h0M267.3 102.5h0M256.5 82.6h0M256.0 87.3h0M263.3 98.3h0M263.9 105.5h0M267.6 103.4h0M265.3 95.8h0M258.2 99.8h0M262.5 105.8h0M259.0 88.4h0M256.6 92.6h0M266.5 99.7h0M264.6 91.6h0M266.8 106.4h0M257.2 88.0h0M259.3 104.9h0M262.5 95.5h0M261.5 76.8h0M265.0 102.5h0M266.0 99.9h0M260.2 98.7h0M264.5 106.5h0M261.0 99.0h0M258.1 98.8h0M262.5 106.5h0M270.1 91.7h0M260.8 105.2h0M264.7 91.9h0M273.0 95.2h0M271.9 95.1h0M261.9 103.9h0M263.2 110.3h0M262.4 106.8h0M266.9 91.8h0M266.6 104.8h0M259.7 105.2h0M259.1 87.3h0M264.2 109.8h0M261.0 107.6h0M258.6 90.2h0M256.1 99.8h0M266.3 106.0h0M263.7 93.9h0M274.0 85.7h0M261.5 85.1h0M263.8 108.2h0M262.2 97.3h0M260.3 102.1h0M258.9 90.8h0M270.0 100.8h0M260.8 89.3h0M263.1 90.5h0M258.2 85.5h0M259.8 97.7h0M265.8 99.9h0M263.6 109.3h0M265.1 109.4h0M263.7 110.4h0M261.9 105.5h0M268.6 95.4h0M253.7 67.5h0M255.7 95.3h0M268.2 95.7h0M257.7 102.4h0M267.3 88.6h0M266.9 92.4h0M257.2 94.3h0M268.7 100.8h0M265.8 107.6h0M262.3 94.8h0M266.1 88.9h0M266.6 106.9h0M260.5 102.0h0M258.7 99.4h0M263.0 107.6h0M267.1 104.6h0M268.8 88.3h0M264.6 107.4h0M252.0 65.2h0M265.5 93.8h0M262.9 106.0h0M262.6 107.0h0M262.8 97.1h0M270.1 98.2h0M262.4 96.8h0M264.4 109.9h0M258.8 96.9h0M266.1 105.7h0M266.5 76.0h0M259.1 104.8h0M263.5 97.5h0M264.3 110.4h0M260.5 106.7h0M262.9 102.5h0M264.0 110.1h0M267.4 97.5h0M254.7 51.7h0M261.8 102.2h0M264.7 92.9h0M262.3 90.6h0M262.6 110.8h0M259.0 91.7h0M262.0 105.6h0M261.6 100.9h0M267.3 104.5h0M262.4 110.5h0M258.3 98.4h0M264.9 100.3h0M260.3 83.5h0M262.9 110.4h0M261.9 73.4h0M263.8 109.1h0M264.3 104.1h0M261.6 104.5h0M268.9 101.7h0M262.4 106.2h0M263.9 100.9h0M261.0 97.4h0M263.1 104.4h0M263.8 90.8h0M262.7 104.5h0M262.9 98.3h0M267.0 80.2h0M262.6 108.9h0M258.7 99.3h0M263.0 110.7h0M263.1 93.6h0M265.8 106.1h0M258.3 97.7h0M261.8 106.5h0M250.0 82.3h0M261.5 105.7h0M263.4 73.8h0M259.8 87.9h0M266.9 105.7h0M261.8 107.3h0M264.5 106.3h0M268.9 77.1h0M261.2 92.3h0M260.4 102.3h0M260.0 103.8h0M257.8 69.5h0M270.2 97.4h0M267.2 100.3h0M264.8 104.5h0M264.1 105.2h0M267.3 73.0h0M271.2 90.6h0M262.4 103.1h0M261.4 108.2h0M265.0 92.1h0M256.2 92.0h0M264.6 101.2h0M261.4 97.4h0M260.6 105.0h0M260.9 105.2h0M262.1 96.8h0M261.6 99.9h0M261.5 107.0h0M259.2 103.8h0M267.6 100.3h0M265.8 107.2h0M264.5 110.0h0M271.3 92.3h0M262.6 98.7h0M267.6 84.8h0M268.5 70.6h0M259.4 95.3h0M265.0 102.2h0M265.5 101.5h0M262.9 110.2h0M260.9 102.1h0M257.3 99.0h0M265.4 101.0h0M263.6 111.4h0M266.7 92.8h0M267.2 95.9h0M258.2 103.3h0M270.5 100.8h0M263.4 111.6h0M263.3 105.3h0M270.1 101.3h0M252.2 93.2h0M261.5 108.7h0M256.5 100.8h0M266.3 95.9h0M273.3 74.9h0M256.1 99.6h0M260.4 99.0h0M261.0 85.5h0M259.7 85.4h0M264.6 108.9h0M263.8 111.1h0M261.1 103.1h0M258.6 99.0h0M269.6 97.0h0M261.9 99.6h0M264.2 104.5h0M261.1 96.3h0M261.6 81.0h0M268.2 87.9h0M268.3 98.3h0M263.1 109.9h0M265.0 93.6h0M248.9 74.4h0M261.7 107.1h0M267.1 103.8h0M268.7 94.3h0M252.2 72.2h0M262.6 89.5h0M262.1 104.4h0M263.3 86.7h0M274.4 90.7h0M262.1 106.5h0M256.1 57.1h0M263.3 111.8h0M260.3 92.8h0M268.5 100.9h0M272.8 96.9h0M263.1 110.6h0M259.0 102.6h0M261.8 82.4h0M260.0 91.5h0M265.7 108.1h0M266.4 83.4h0M260.9 101.2h0M266.1 96.5h0M262.6 107.9h0M264.0 104.8h0M250.4 78.1h0M264.7 94.0h0M265.4 104.7h0M263.2 96.2h0M262.0 93.2h0M261.6 100.3h0M267.3 103.7h0M262.0 108.6h0M262.9 110.5h0M263.0 110.3h0M261.2 101.1h0M264.9 104.1h0M259.6 104.1h0M261.7 105.1h0M260.8 107.4h0M259.1 86.7h0M265.2 82.9h0M263.8 106.3h0M260.2 104.9h0M260.9 95.8h0M251.3 91.3h0M264.7 107.6h0M263.9 110.6h0M269.7 96.8h0M267.5 104.2h0M261.7 99.1h0M264.6 82.3h0M265.5 93.2h0M266.7 86.2h0M262.7 111.1h0M270.6 89.2h0M266.0 76.3h0M262.0 109.5h0M261.1 96.6h0M270.0 93.1h0M263.2 103.0h0M264.3 99.9h0M262.8 101.4h0M261.3 104.0h0M268.9 97.2h0M270.2 91.5h0M260.2 90.3h0M273.2 94.8h0M269.4 98.3h0M263.7 110.5h0M257.5 91.3h0M266.6 94.8h0M263.1 96.0h0M266.1 85.8h0M264.4 97.4h0M264.4 106.6h0M265.1 107.8h0M262.4 98.8h0M265.3 104.7h0M262.6 106.9h0M266.6 97.1h0M265.1 104.9h0M265.7 53.4h0M259.7 78.8h0M265.7 105.2h0M261.6 106.5h0M267.3 96.7h0M269.0 102.4h0M260.0 91.8h0M257.3 91.4h0M269.6 102.1h0M268.2 94.6h0M276.8 79.0h0M260.1 92.6h0M270.2 95.6h0M262.9 108.4h0M273.4 81.5h0M263.0 111.7h0M264.9 103.3h0M263.8 104.0h0M258.6 99.1h0M270.3 82.2h0M280.2 77.6h0M260.9 103.2h0M262.9 108.6h0M264.9 104.8h0M260.6 107.0h0M263.7 104.5h0M266.0 92.3h0M264.4 103.2h0M253.7 34.8h0M263.9 110.9h0M264.0 105.7h0M267.2 98.5h0M247.5 81.9h0M262.5 106.8h0M265.4 100.8h0M262.7 85.8h0M261.3 104.6h0M263.6 100.6h0M260.2 106.6h0M267.9 101.2h0M265.5 91.5h0M264.7 102.9h0M264.4 107.5h0M261.9 47.0h0M257.8 98.1h0M259.3 102.8h0M261.6 103.2h0M272.4 95.4h0M257.8 98.4h0M260.0 74.3h0M255.6 91.5h0M260.2 93.3h0M263.4 108.4h0M265.8 93.4h0M260.5 106.4h0M264.5 100.2h0M259.8 92.7h0M263.3 108.0h0M262.7 105.4h0M268.1 99.4h0M266.8 87.5h0M262.5 95.4h0M268.2 102.9h0M259.2 104.0h0M266.1 100.9h0M258.8 96.9h0M265.0 109.1h0M264.2 85.9h0M261.2 107.6h0M263.3 105.1h0M266.1 96.0h0M265.4 89.4h0M269.7 100.3h0M270.1 99.8h0M264.4 97.6h0M255.0 95.8h0M264.1 107.1h0M265.7 97.9h0M262.4 110.1h0M259.2 101.0h0M261.9 93.8h0M270.2 82.0h0M264.0 96.2h0M261.4 103.8h0M265.3 106.4h0M258.8 92.3h0M266.8 104.8h0M264.5 92.2h0M267.6 99.6h0M260.4 97.5h0M257.1 100.1h0M266.4 100.9h0M261.3 81.2h0M261.8 101.3h0M262.2 103.8h0M263.2 109.7h0M261.6 92.2h0M263.4 103.1h0M257.5 99.2h0M268.4 100.2h0M266.3 80.3h0M261.1 96.0h0M267.4 94.0h0M260.3 96.9h0M264.5 105.4h0M257.6 96.0h0M260.3 102.3h0M265.2 100.4h0M264.5 107.7h0M257.2 95.0h0M262.3 106.5h0M263.0 111.3h0M270.6 100.6h0M261.5 104.4h0M259.6 75.6h0M261.7 103.4h0M263.2 109.3h0M262.6 88.6h0M272.4 67.5h0M261.3 102.0h0M266.0 107.9h0M267.4 99.8h0M270.0 81.7h0M262.9 101.5h0M266.9 105.1h0M264.4 101.7h0M259.4 91.2h0M258.9 88.1h0M260.6 89.9h0M258.5 93.0h0M264.3 95.3h0M268.4 100.6h0M263.8 111.1h0M264.6 107.8h0M268.7 92.5h0M259.4 92.8h0M272.5 90.4h0M266.1 108.3h0M261.7 107.6h0M261.9 104.9h0M264.4 103.4h0M261.9 101.5h0M261.6 92.4h0M264.0 93.5h0M261.1 106.8h0M264.6 110.3h0M261.8 107.6h0M263.3 90.4h0M263.1 109.0h0M260.3 103.4h0M256.1 96.9h0M262.2 100.6h0M267.1 105.4h0M264.8 108.5h0M261.1 103.6h0M263.4 97.2h0M264.8 106.1h0M267.1 96.5h0M263.7 103.8h0M258.9 100.1h0M270.2 90.7h0M268.4 97.4h0M257.0 80.8h0M261.3 82.5h0M264.2 106.7h0M265.3 78.2h0M263.5 83.8h0M264.5 100.5h0M273.7 64.8h0M267.9 103.7h0M254.5 77.3h0M265.8 105.3h0M262.0 92.0h0M265.4 107.8h0M264.1 106.8h0M260.5 107.0h0M253.7 90.8h0M258.3 84.5h0M266.5 103.3h0M261.1 95.6h0M262.0 96.6h0M260.9 103.5h0M264.5 107.2h0M261.9 100.1h0M269.2 88.7h0M262.8 106.4h0M270.4 96.2h0M263.9 108.7h0M259.7 104.2h0M263.3 111.7h0M256.2 89.0h0M258.1 101.7h0M256.9 73.2h0M267.4 104.8h0M266.9 98.2h0M265.9 103.0h0M258.7 100.4h0M262.3 95.9h0M264.2 97.0h0M265.2 97.5h0M264.1 110.7h0M269.4 99.6h0M261.1 82.6h0M261.1 107.8h0M272.8 89.8h0M257.3 85.1h0M260.4 104.9h0M262.6 97.5h0M264.9 105.3h0M266.1 100.7h0M269.1 98.4h0M269.2 66.8h0M264.3 101.2h0M262.5 89.4h0M266.2 99.2h0M265.6 108.6h0M262.5 90.0h0M266.7 104.5h0M265.3 106.0h0M258.6 101.8h0M264.0 104.0h0M263.8 102.0h0M262.4 104.5h0M261.6 108.0h0M277.9 83.6h0M263.2 97.0h0M266.9 95.2h0M269.9 89.9h0M265.3 101.0h0M266.7 105.5h0M266.9 103.1h0M256.2 96.9h0M262.8 93.0h0M266.1 95.1h0M261.6 102.0h0M263.0 110.5h0M258.1 80.8h0M258.4 97.5h0M269.2 100.7h0M260.3 93.7h0M262.2 107.6h0M258.5 99.9h0M268.0 93.5h0M255.0 94.4h0M266.9 106.9h0M259.9 102.2h0M268.3 91.2h0M261.6 99.7h0M265.3 107.4h0M265.7 100.3h0M257.8 103.0h0M264.9 103.7h0M261.9 100.9h0M263.8 111.6h0M266.3 106.0h0M259.5 94.2h0M267.0 104.1h0M262.8 107.9h0M264.6 104.2h0M266.7 98.4h0M254.5 92.2h0M261.8 109.3h0M258.6 96.0h0M265.3 105.8h0M262.8 104.2h0M266.8 99.4h0M264.7 106.4h0M262.4 86.1h0M262.6 110.1h0M267.7 103.0h0M257.8 94.1h0M260.7 101.6h0M262.1 105.2h0M260.6 97.3h0M265.3 89.7h0M262.5 110.6h0M259.7 102.0h0M261.8 108.7h0M265.5 107.7h0M255.4 86.2h0M262.8 110.2h0M266.7 104.5h0M264.8 102.9h0M262.9 100.9h0M260.7 106.1h0M266.4 96.3h0M269.9 88.7h0M262.6 95.4h0M262.8 101.7h0M277.3 74.8h0M263.2 102.6h0M267.8 105.3h0M259.3 88.5h0M265.3 90.2h0M267.5 105.6h0M263.9 108.9h0M262.7 100.0h0M263.7 111.6h0M267.9 100.0h0M269.4 99.3h0M269.9 99.8h0M257.8 95.9h0M258.5 100.7h0M260.6 81.6h0M264.9 109.9h0M263.2 110.6h0M266.7 105.6h0M262.7 105.0h0M261.7 105.3h0M262.8 109.7h0M263.5 105.8h0M265.6 104.1h0M265.0 105.8h0M267.9 82.4h0M264.2 96.4h0M264.1 104.2h0M262.4 109.5h0M266.0 96.8h0M262.4 109.7h0M263.0 103.9h0M258.5 90.8h0M262.7 102.1h0M263.1 110.6h0M263.4 99.3h0M258.7 102.0h0M271.0 93.6h0M261.0 103.3h0M260.5 106.3h0M251.0 88.3h0M263.7 105.1h0M261.3 92.3h0M269.8 98.0h0M262.2 103.6h0M272.1 81.2h0M268.3 100.7h0M263.2 110.2h0M260.9 107.8h0M260.4 101.9h0M265.1 103.7h0M263.3 107.2h0M263.8 111.6h0M271.7 90.3h0M261.8 84.9h0M264.2 108.3h0M266.0 95.3h0M269.1 101.2h0M253.6 78.5h0M261.7 107.2h0M262.9 104.5h0M261.0 95.8h0M260.4 103.1h0M250.9 81.5h0M267.5 94.8h0M272.0 92.2h0M259.0 89.1h0M257.9 93.3h0M252.7 94.1h0M271.3 94.7h0M265.2 96.9h0M258.5 101.9h0M261.2 91.2h0M267.3 92.2h0M262.1 73.7h0M268.5 104.0h0M264.3 83.7h0M262.7 101.6h0M262.2 104.4h0M261.7 101.5h0M268.2 79.3h0M268.7 102.0h0M269.0 99.1h0M263.0 70.5h0M266.9 85.2h0M262.0 110.1h0M264.6 110.1h0M265.5 100.3h0M262.4 107.2h0M261.7 95.3h0M265.4 106.0h0M262.6 96.5h0M264.2 104.7h0M260.6 74.8h0M258.6 95.4h0M265.7 103.0h0M264.7 109.5h0M267.5 104.7h0M263.1 99.0h0M263.3 98.3h0M268.9 77.4h0M259.9 95.5h0M262.5 98.8h0M262.5 104.2h0M261.4 107.2h0M262.1 108.9h0M267.3 89.9h0M264.7 101.2h0M259.4 95.7h0M268.5 76.9h0M269.9 99.2h0M260.6 86.4h0M262.4 109.6h0M268.1 85.5h0M268.0 97.2h0M264.2 101.3h0M266.0 106.5h0M266.9 102.8h0M263.4 108.4h0M267.5 104.4h0M264.5 99.8h0M261.5 107.1h0M267.5 93.9h0M261.4 103.4h0M266.0 103.5h0M259.3 103.2h0M267.9 104.5h0M258.0 102.6h0M260.6 107.7h0M264.0 100.5h0M267.4 99.7h0M266.6 104.4h0M265.0 99.0h0M263.6 100.0h0M265.8 78.2h0M248.0 69.4h0M268.5 78.5h0M263.9 109.3h0M264.5 106.5h0M260.1 98.7h0M256.8 93.6h0M262.1 109.5h0M265.0 107.4h0M272.2 81.7h0M275.9 84.1h0M265.4 98.7h0M265.2 89.8h0M259.5 87.8h0M259.3 98.5h0M263.1 103.8h0M271.2 93.6h0M264.8 96.1h0M263.8 91.7h0M262.9 110.7h0M263.2 109.6h0M265.7 105.8h0M266.4 107.4h0M268.1 102.4h0M266.6 102.5h0M262.7 108.7h0M262.2 102.7h0M269.1 100.2h0M263.9 111.2h0M259.9 95.8h0M259.4 103.2h0M262.9 106.0h0M265.5 108.8h0M264.1 105.8h0M256.1 92.7h0M263.2 110.7h0M260.0 89.1h0M258.6 103.3h0M262.8 110.6h0M261.3 108.4h0M258.8 104.5h0M263.1 109.6h0M271.1 85.0h0M264.0 101.8h0M263.0 103.1h0M267.2 101.6h0M262.6 103.0h0M266.7 97.2h0M263.6 93.8h0M264.2 65.4h0M267.4 102.8h0M265.2 107.5h0M255.6 97.6h0M264.0 104.4h0M264.6 100.7h0M259.1 84.5h0M263.2 106.7h0M264.9 107.8h0M264.1 102.0h0M260.5 102.8h0M265.1 105.2h0M272.3 75.9h0M262.7 102.1h0M264.7 100.5h0M251.4 89.5h0M266.0 104.9h0M260.1 99.1h0M262.9 111.0h0M257.9 98.1h0M263.2 108.6h0M276.7 88.0h0M266.0 107.7h0M259.6 92.6h0M260.8 103.6h0M264.2 82.7h0M265.6 108.2h0M265.2 99.4h0M268.0 88.9h0M257.9 102.0h0M261.9 106.9h0M263.2 102.1h0M268.4 99.9h0M265.2 87.2h0M261.1 100.8h0M261.7 107.6h0M266.0 72.1h0M266.2 105.9h0M262.7 99.8h0M264.7 104.7h0M260.2 72.5h0M265.3 106.5h0M262.4 96.8h0M270.6 98.9h0M258.4 103.2h0M263.5 105.0h0M271.4 98.8h0M265.8 106.6h0M265.2 108.2h0M262.2 98.4h0M269.1 103.3h0M260.1 88.2h0M262.5 109.8h0M251.2 86.8h0M263.3 91.7h0M263.2 101.5h0M266.0 106.0h0M264.7 107.7h0M265.9 106.2h0M266.9 98.4h0M261.9 103.1h0M263.9 103.5h0M264.2 104.3h0M263.3 107.7h0M258.9 93.3h0M263.4 110.0h0M251.5 90.7h0M265.7 97.8h0M260.8 99.2h0M266.8 106.1h0M267.0 94.7h0M264.0 107.4h0M270.2 98.8h0M261.2 101.7h0M258.0 92.5h0M261.4 54.2h0M258.4 102.8h0M268.0 93.8h0M264.6 104.3h0M264.1 108.4h0M262.8 103.6h0M263.2 101.4h0M262.7 108.5h0M265.4 104.7h0M268.6 95.2h0M275.1 62.4h0M258.3 83.9h0M265.3 107.4h0M259.7 98.9h0M264.9 100.7h0M264.0 101.7h0M262.3 96.9h0M263.6 111.9h0M267.7 94.2h0M259.3 92.5h0M259.7 100.6h0M264.5 107.9h0M265.6 109.0h0M262.0 106.0h0M263.8 105.0h0M263.1 109.8h0M264.5 94.1h0M267.7 90.0h0M266.3 98.0h0M263.4 106.6h0M256.5 95.4h0M256.7 90.5h0M261.2 106.4h0M269.6 90.8h0M263.8 79.7h0M259.3 105.2h0M263.6 92.1h0M271.4 95.0h0M258.8 88.4h0M258.6 101.4h0M259.1 88.6h0M266.3 103.0h0M256.5 97.4h0M258.7 98.1h0M265.6 95.1h0M260.0 101.8h0M265.2 96.4h0M257.8 63.1h0M271.7 97.5h0M262.5 108.3h0M267.8 104.9h0M264.1 107.1h0M259.2 90.0h0M265.1 84.7h0M267.8 104.6h0M264.6 95.0h0M267.4 88.6h0M272.0 86.9h0M262.8 109.3h0M265.0 92.9h0M260.4 105.9h0M261.8 108.3h0M278.8 69.9h0M263.5 104.2h0M270.6 100.6h0M270.5 94.6h0M266.9 97.1h0M260.9 104.8h0M265.0 106.3h0M266.2 88.8h0M264.7 109.1h0M267.2 85.0h0M259.7 100.1h0M259.0 96.9h0M267.4 92.1h0M263.9 104.1h0M263.3 94.3h0M261.5 103.3h0M262.5 109.6h0M267.8 101.4h0M250.3 63.4h0M264.8 103.8h0M263.5 103.2h0M268.5 95.8h0M264.3 102.8h0M263.3 109.1h0M265.7 80.4h0M259.2 92.9h0M263.5 108.6h0M265.4 105.4h0M261.2 106.9h0M261.3 103.7h0M263.1 109.3h0M261.7 93.5h0M257.2 101.7h0M259.3 87.3h0M264.7 95.9h0M260.8 91.6h0M264.6 103.7h0M267.7 100.4h0M264.7 89.7h0M262.3 100.9h0M263.3 104.1h0M264.8 64.3h0M264.1 111.2h0M263.5 109.0h0M263.2 104.1h0M260.9 100.3h0M257.2 86.2h0M263.2 106.1h0M261.8 108.9h0M262.4 108.1h0M262.8 109.1h0M262.1 107.3h0M266.2 97.9h0M265.4 108.2h0M266.2 99.6h0M258.4 98.1h0M259.7 104.2h0M261.3 86.0h0M266.4 106.5h0M264.7 91.7h0M266.3 103.9h0M262.3 102.0h0M258.6 101.4h0M266.9 98.5h0M261.7 104.9h0M261.5 85.4h0M265.0 104.2h0M265.1 94.7h0M262.6 110.5h0M262.4 93.5h0M263.9 105.1h0M266.1 104.2h0M265.0 103.1h0M263.0 110.8h0M254.4 77.5h0M265.7 106.7h0M263.6 101.1h0M268.1 104.8h0M278.1 79.9h0M261.2 102.2h0M270.6 76.2h0M263.4 92.9h0M263.4 102.2h0M262.9 92.2h0M265.7 108.3h0M256.6 97.0h0M252.2 92.4h0M263.3 75.0h0M264.5 103.9h0M265.1 95.4h0M264.6 107.8h0M262.3 73.3h0M263.1 102.0h0M264.8 82.6h0M263.1 104.2h0M263.3 106.4h0M265.2 107.4h0M267.4 88.6h0M264.8 107.4h0M260.3 82.2h0M263.4 107.1h0M262.5 97.6h0M263.9 94.4h0M264.1 107.6h0M262.4 89.5h0M264.1 101.0h0M267.7 80.7h0M268.1 91.2h0M257.2 100.7h0M260.8 103.9h0M262.2 106.7h0M263.0 106.6h0M261.7 83.0h0M262.8 106.8h0M264.1 109.2h0M259.2 92.8h0M257.6 101.9h0M258.9 102.4h0M261.0 103.2h0M268.7 101.1h0M258.2 88.9h0M261.2 95.3h0M265.7 92.4h0M257.2 79.9h0M260.0 101.9h0M263.2 60.4h0M266.4 99.9h0M262.8 108.7h0M261.5 98.3h0M267.1 104.0h0M271.0 44.7h0M260.7 106.4h0M263.3 99.0h0M262.6 84.0h0M265.4 106.8h0M260.6 103.2h0M258.9 97.7h0M265.2 100.5h0M264.4 105.2h0M262.7 106.8h0M262.0 103.9h0M267.8 70.1h0M265.8 106.5h0M263.5 100.7h0M265.8 97.9h0M257.6 93.0h0M266.3 98.4h0M263.3 83.4h0M263.2 102.0h0M266.4 100.4h0M269.0 102.6h0M262.8 84.7h0M259.0 98.3h0M259.9 100.8h0M257.1 97.1h0M267.1 97.7h0M267.9 104.3h0M255.9 89.0h0M269.9 97.8h0M263.8 104.3h0M272.7 89.0h0M258.9 83.1h0M264.1 110.1h0M271.5 98.6h0M266.0 107.7h0M267.4 81.2h0M254.8 88.2h0M256.2 93.6h0M265.1 109.5h0M263.5 110.9h0M255.5 89.3h0M263.0 110.3h0M263.0 102.8h0M267.6 98.7h0M260.5 99.9h0M267.4 86.6h0M262.3 88.7h0M263.5 105.7h0M267.2 105.9h0M263.4 107.8h0M261.9 64.5h0M263.5 110.6h0M264.6 50.9h0M263.3 111.1h0M267.7 98.9h0M261.6 98.5h0M268.9 95.0h0M260.9 86.3h0M262.2 100.9h0M270.2 63.6h0M262.7 107.9h0M259.3 105.4h0M263.8 110.8h0M264.5 93.7h0M269.3 92.5h0M262.8 96.3h0M260.0 101.3h0M263.7 109.8h0M258.5 97.9h0M269.6 78.1h0M262.3 106.7h0M262.5 108.2h0M262.6 67.8h0M272.8 90.4h0M261.1 96.5h0M264.2 106.6h0M268.8 95.5h0M256.6 91.0h0M262.9 109.4h0M262.5 109.6h0M256.7 90.2h0M267.7 68.6h0M260.6 106.8h0M262.7 102.0h0M266.9 94.4h0M263.7 102.1h0M268.3 70.7h0M249.4 74.0h0M262.8 110.9h0M269.0 77.2h0M269.6 88.1h0M264.7 95.6h0M265.3 102.5h0M266.4 97.1h0M274.3 61.1h0M263.2 104.5h0M260.2 106.7h0M268.6 99.1h0M265.7 106.8h0M264.9 93.5h0M264.7 107.4h0M265.3 93.1h0M261.8 109.1h0M264.8 99.8h0M265.7 60.4h0M266.5 90.9h0M262.8 107.8h0M260.9 104.2h0M257.3 95.5h0M261.2 104.1h0M263.3 95.2h0M268.3 102.7h0M262.2 96.8h0M267.0 104.3h0M261.8 95.0h0M260.7 84.8h0M259.5 105.1h0M263.1 109.9h0M267.4 100.7h0M265.9 104.5h0M265.5 93.1h0M257.6 97.0h0M263.8 110.7h0M279.4 83.6h0M259.8 88.3h0M265.0 105.1h0M263.7 103.6h0M263.9 107.0h0M268.0 100.8h0M271.3 87.5h0M271.5 86.3h0M263.8 107.6h0M268.4 76.1h0M267.5 84.0h0M263.8 109.8h0M262.7 102.8h0M259.7 87.5h0M259.6 103.3h0M257.6 101.6h0M267.1 102.7h0M263.1 108.5h0M265.0 103.3h0M264.0 107.6h0M259.3 100.5h0M263.1 109.9h0M274.8 83.2h0M263.2 103.8h0M269.9 90.9h0M263.6 78.1h0M259.9 95.8h0M260.5 105.1h0M261.0 98.6h0M261.9 102.9h0M267.8 95.1h0M257.2 61.6h0M260.6 91.4h0M261.3 93.0h0M262.2 108.4h0M264.0 93.4h0M265.0 105.3h0M263.9 91.5h0M264.4 87.2h0M260.5 94.9h0M263.1 102.8h0M264.8 108.3h0M267.7 102.2h0M264.3 108.9h0M263.3 84.6h0M258.7 66.7h0M261.1 105.0h0M259.4 93.2h0M264.0 109.3h0M258.7 94.4h0M273.4 90.7h0M265.8 100.9h0M262.9 108.3h0M259.8 94.5h0M262.6 100.2h0M267.3 104.4h0M261.9 99.4h0M263.7 109.2h0M262.0 109.3h0M262.7 110.9h0M257.7 102.1h0M260.1 105.9h0M264.5 100.5h0M263.7 106.7h0M266.0 105.4h0M264.7 108.3h0M262.5 96.2h0M258.2 101.8h0M267.0 97.7h0M275.5 49.6h0M267.7 71.6h0M257.8 97.0h0M261.8 105.1h0M267.0 106.0h0M266.6 104.7h0M268.4 94.6h0M261.0 107.3h0M263.0 105.8h0M266.3 91.6h0M262.3 108.7h0M264.3 71.7h0M260.6 96.2h0M265.7 97.3h0M266.3 96.9h0M263.6 103.9h0M264.7 109.0h0M265.0 109.0h0M268.8 101.1h0M261.2 93.5h0M260.2 91.7h0M264.9 90.0h0M264.7 103.9h0M262.9 109.2h0M264.5 108.6h0M261.1 108.6h0M261.9 106.5h0M264.6 87.9h0M260.7 100.6h0M263.3 107.2h0M263.9 102.0h0M263.3 110.3h0M262.6 90.9h0M268.0 101.0h0M263.1 100.4h0M270.9 98.1h0M262.3 46.7h0M266.7 91.4h0M262.9 108.4h0M268.8 102.4h0M258.9 92.0h0M261.4 103.4h0M260.2 101.8h0M265.0 109.9h0M260.9 105.5h0M261.1 107.2h0M260.3 104.3h0M265.3 107.9h0M256.2 95.3h0M260.0 96.7h0M257.3 91.1h0M269.5 92.4h0M259.9 106.1h0M260.7 107.7h0M258.2 96.3h0M263.1 99.0h0M263.8 98.1h0M262.9 109.2h0M261.9 100.6h0M264.4 107.1h0M266.0 107.0h0M260.7 101.6h0M263.5 111.3h0M264.9 107.3h0M266.1 106.2h0M262.5 104.3h0M265.8 104.2h0M260.4 104.5h0M265.7 97.6h0M259.6 105.5h0M261.1 92.3h0M264.6 69.8h0M259.2 101.4h0M260.6 105.1h0M264.0 100.1h0M279.1 32.3h0M262.9 99.6h0M262.2 95.4h0M258.8 86.9h0M257.6 83.3h0M267.1 104.9h0M249.3 74.2h0M270.1 90.6h0M262.2 105.6h0M256.3 97.3h0M263.5 110.9h0M267.4 102.9h0M263.1 106.0h0M263.2 107.4h0M264.4 108.0h0M272.5 92.7h0M248.3 81.6h0M259.8 91.1h0M264.2 110.0h0M255.0 82.3h0M259.3 104.6h0M266.5 91.1h0M264.0 111.1h0M261.7 69.3h0M263.5 88.2h0M267.3 99.0h0M262.5 107.6h0M264.0 110.2h0M260.0 91.8h0M259.4 105.2h0M258.6 102.0h0M264.4 99.1h0M263.2 90.1h0M269.2 98.2h0M263.9 103.0h0M268.8 100.6h0M264.2 97.4h0M253.4 90.6h0M260.6 99.3h0M263.3 110.5h0M262.4 105.6h0M254.8 77.0h0M276.3 90.7h0M269.7 92.6h0M259.0 100.0h0M267.2 98.2h0M265.3 101.7h0M261.6 107.1h0M258.9 101.7h0M264.4 111.0h0M263.6 108.7h0M254.0 69.0h0M266.9 84.5h0M263.8 106.7h0M261.7 109.2h0M262.4 91.7h0M275.4 91.7h0M270.2 96.1h0M268.2 95.7h0M262.8 110.7h0M261.7 106.7h0M256.5 100.2h0M264.0 103.3h0M260.2 95.6h0M268.5 97.7h0M258.7 76.2h0M268.1 96.4h0M266.3 104.5h0M261.1 100.9h0M264.3 111.2h0M266.1 99.6h0M255.3 97.6h0M262.0 103.5h0M257.6 96.5h0M267.1 106.0h0M264.6 96.3h0M266.7 107.0h0M258.3 92.6h0M265.5 108.4h0M263.9 101.8h0M261.5 91.9h0M260.4 104.5h0M264.0 100.5h0M266.5 81.3h0M266.6 105.1h0M263.4 100.2h0M264.2 100.0h0M266.4 95.9h0M263.9 111.2h0M266.9 102.0h0M257.8 87.1h0M257.7 81.0h0M268.7 101.1h0M264.8 90.9h0M263.2 104.1h0M265.3 108.8h0M261.0 100.4h0M263.2 108.2h0M269.6 97.6h0M268.2 93.7h0M261.7 104.0h0M261.8 98.9h0M261.9 100.6h0M257.1 99.6h0M255.6 87.7h0M257.1 98.1h0M259.0 95.6h0M259.9 105.0h0M262.3 106.9h0M262.4 103.5h0M269.6 95.6h0M254.8 92.9h0M267.1 84.9h0M264.0 100.6h0M265.7 96.2h0M265.8 95.5h0M264.7 108.6h0M265.3 97.8h0M265.4 101.4h0M261.2 104.7h0M264.4 107.2h0M259.8 100.5h0M268.2 102.8h0M265.3 107.6h0M257.2 90.8h0M261.0 97.9h0M261.8 94.2h0M264.8 93.5h0M254.9 94.2h0M269.4 86.6h0M265.4 105.3h0M262.1 107.2h0M263.4 110.3h0M264.8 93.1h0M269.3 100.7h0M265.0 96.5h0M268.1 92.7h0M261.1 99.0h0M262.6 98.5h0M263.2 108.0h0M265.2 103.6h0M269.1 100.4h0M263.2 104.0h0M264.5 107.6h0M264.2 95.3h0M263.2 111.5h0M264.0 106.0h0M261.6 108.1h0M260.9 106.2h0M271.2 95.3h0M270.4 87.2h0M268.9 93.4h0M265.0 97.6h0M261.5 99.5h0M270.5 95.7h0M257.7 94.4h0M264.7 108.0h0M264.4 108.1h0M265.5 104.8h0M266.0 108.0h0M273.2 68.6h0M264.4 102.5h0M259.3 96.0h0M275.3 86.1h0M264.0 97.1h0M266.0 106.6h0M263.8 89.4h0M267.3 97.4h0M265.5 94.0h0M265.6 102.6h0M261.9 98.2h0M257.7 103.0h0M262.7 102.5h0M268.8 79.3h0M256.2 93.6h0M266.1 98.7h0M262.4 105.3h0M256.5 71.1h0M258.9 101.1h0M265.3 97.2h0M264.1 105.1h0M262.8 100.4h0M266.5 106.5h0M257.6 87.3h0M262.3 110.1h0M261.8 105.6h0M263.9 98.6h0M261.6 96.1h0M261.7 103.3h0M263.1 99.0h0M269.1 94.6h0M263.3 97.7h0M262.2 105.2h0M262.3 102.3h0M259.6 85.9h0M267.7 97.0h0M260.6 101.5h0M263.4 110.7h0M267.3 102.4h0M280.6 42.7h0M267.2 101.2h0M257.4 102.1h0M267.2 103.7h0M264.1 94.1h0M265.3 107.6h0M264.8 87.8h0M263.9 42.8h0M264.7 99.0h0M265.7 97.2h0M265.7 106.6h0M263.5 97.2h0M272.6 72.0h0M265.6 94.4h0M260.9 104.8h0M263.2 110.7h0M259.8 105.8h0M261.9 108.7h0M262.3 104.4h0M259.1 102.2h0M274.8 88.8h0M262.0 102.9h0M264.6 109.9h0M265.7 106.7h0M248.8 72.7h0M264.8 110.5h0M268.8 98.9h0M262.7 103.9h0M261.3 82.1h0M265.8 97.7h0M263.1 72.5h0M258.5 93.1h0M264.6 105.4h0M260.9 96.4h0M261.4 101.6h0M271.8 85.6h0M264.3 106.7h0M260.0 93.6h0M263.2 89.2h0M260.9 100.8h0M263.9 104.7h0M261.0 59.3h0M267.9 102.9h0M264.1 108.6h0M266.9 104.3h0M272.6 89.6h0M259.9 104.9h0M263.5 92.6h0M266.8 102.2h0M262.0 99.9h0M261.7 108.1h0M263.9 102.7h0M263.5 109.7h0M262.2 108.7h0M263.0 106.0h0M263.1 106.2h0M265.9 108.2h0M257.3 93.9h0M263.1 102.5h0M264.3 81.3h0M262.5 92.0h0M268.3 89.9h0M260.8 77.8h0M264.2 110.5h0M259.1 90.1h0M268.1 100.7h0M261.8 108.6h0M259.4 97.6h0M266.7 103.0h0M263.3 82.2h0M265.4 97.9h0M262.2 93.3h0M258.8 102.0h0M261.2 103.0h0M265.3 107.0h0M264.3 104.8h0M268.8 101.8h0M269.7 100.9h0M263.8 105.5h0M264.6 105.2h0M264.3 109.7h0M263.0 110.0h0M262.2 106.9h0M266.9 94.3h0M263.3 111.6h0M268.0 101.2h0M264.4 103.1h0M260.9 102.6h0M265.8 108.6h0M263.8 99.3h0M268.6 96.6h0M264.5 108.8h0M270.4 67.4h0M260.7 90.9h0M265.9 94.2h0M261.9 109.1h0M265.1 109.3h0M261.8 106.9h0M261.4 103.0h0M263.3 111.2h0M264.5 105.8h0M263.7 106.0h0M260.1 66.1h0M276.5 40.5h0M261.2 104.3h0M265.2 88.5h0M263.2 107.4h0M265.5 104.5h0M262.4 106.3h0M262.6 103.0h0M263.9 106.5h0M264.9 93.8h0M260.1 106.3h0M267.3 82.4h0M267.7 83.0h0M263.9 112.0h0M260.4 96.2h0M261.2 108.7h0M260.0 101.4h0M265.7 107.2h0M259.4 97.7h0M258.5 102.9h0M257.5 97.8h0M264.2 96.2h0M262.7 103.5h0M264.4 104.4h0M266.7 102.5h0M266.7 103.9h0M265.9 97.9h0M264.0 95.6h0M265.0 99.5h0M264.0 102.2h0M260.4 101.8h0M264.3 107.5h0M267.8 59.8h0M265.6 82.7h0M263.8 99.3h0M264.8 107.0h0M263.7 109.5h0M264.2 109.6h0M271.1 98.4h0M264.7 110.6h0M263.4 107.1h0M264.1 111.3h0M266.9 98.4h0M270.2 91.2h0M258.6 100.8h0M265.6 101.1h0M268.6 82.1h0M269.5 99.1h0M264.1 101.8h0M262.3 106.2h0M265.2 107.3h0M261.5 97.5h0M269.2 100.5h0M264.7 103.5h0M268.2 98.5h0M263.6 110.3h0M269.4 84.9h0M264.6 104.0h0M261.0 87.2h0M267.4 101.6h0M264.3 104.5h0M256.9 69.3h0M252.3 84.3h0M268.5 88.7h0M261.3 104.4h0M270.3 93.5h0M267.0 106.2h0M267.1 102.1h0M261.3 105.4h0M266.2 83.4h0M261.7 91.2h0M265.4 106.7h0M262.8 70.2h0M263.0 101.1h0M261.7 73.0h0M263.7 102.6h0M263.1 70.8h0M260.3 106.9h0M261.8 101.2h0M265.3 99.1h0M256.1 98.9h0M272.9 89.7h0M264.8 109.3h0M271.8 58.5h0M264.5 109.9h0M265.5 91.1h0M263.1 95.5h0M268.9 99.7h0M266.5 103.6h0M260.7 101.5h0M266.2 103.1h0M260.8 106.0h0M262.9 111.5h0M254.6 95.9h0M264.2 103.8h0M263.2 75.6h0M264.5 104.1h0M266.7 80.7h0M266.9 106.8h0M264.3 88.9h0M263.0 101.6h0M269.9 94.8h0M278.6 84.8h0M268.1 90.9h0M259.0 98.7h0M262.5 106.5h0M260.8 97.3h0M270.2 97.0h0M266.7 100.7h0M264.4 103.4h0M265.0 99.1h0M264.3 102.2h0M261.4 86.0h0M263.9 111.4h0M260.2 106.3h0M262.3 52.0h0M260.2 98.7h0M282.2 66.7h0M269.4 75.5h0M260.7 108.0h0M256.2 99.4h0M260.4 102.9h0M258.9 100.8h0M266.9 98.0h0M264.6 84.0h0M259.7 100.3h0M263.0 105.5h0M271.4 91.8h0M262.0 105.9h0M258.3 99.9h0M252.8 91.6h0M262.5 107.4h0M257.9 100.3h0M273.4 33.3h0M257.6 98.2h0M267.6 61.7h0M261.2 105.4h0M264.9 106.8h0M265.6 89.8h0M269.5 97.3h0M257.0 72.5h0M263.2 101.7h0M262.7 97.0h0M259.5 72.1h0M246.7 83.3h0M262.6 109.8h0M259.3 90.9h0M268.2 103.9h0M264.4 97.3h0M263.0 85.3h0M263.7 108.9h0M266.1 108.0h0M262.1 104.6h0M262.3 94.7h0M260.4 107.4h0M262.2 87.8h0M268.1 102.0h0M264.3 106.7h0M263.6 98.7h0M263.7 109.4h0M265.7 107.0h0M264.1 109.7h0M261.1 91.6h0M263.9 97.1h0M267.5 86.1h0M260.2 83.7h0M265.8 96.9h0M268.4 85.2h0M265.8 99.7h0M261.9 108.9h0M264.0 110.0h0M265.6 72.4h0M262.6 104.9h0M266.6 98.1h0M266.1 103.6h0M259.1 94.3h0M264.0 93.1h0M265.4 100.0h0M265.8 92.9h0M257.3 100.2h0M264.7 108.7h0M257.1 90.7h0M268.5 99.4h0M265.3 106.2h0M263.3 108.1h0M264.3 110.6h0M268.0 97.4h0M265.0 103.9h0M268.9 84.3h0M265.9 105.3h0M259.2 102.2h0M266.7 100.3h0M263.6 81.0h0M262.0 109.0h0M270.2 91.0h0M266.8 107.2h0M263.3 107.8h0M264.2 107.9h0M264.1 93.5h0M260.0 105.0h0M267.1 96.4h0M263.0 104.4h0M255.8 71.1h0M262.8 109.9h0M260.0 98.9h0M257.3 83.7h0M264.9 108.8h0M262.1 104.1h0M269.9 99.0h0M261.7 103.8h0M259.8 105.6h0M266.4 91.2h0M258.9 89.8h0M265.2 107.4h0M262.0 108.7h0M259.6 102.0h0M271.0 70.3h0M255.0 87.9h0M266.5 84.1h0M265.6 86.6h0M263.6 103.5h0M262.2 106.1h0M264.9 102.7h0M265.1 106.9h0M266.0 94.3h0M260.9 101.1h0M269.2 72.3h0M266.3 106.6h0M265.0 109.1h0M264.6 104.3h0M262.2 105.4h0M264.3 110.2h0M275.1 79.8h0M269.3 97.7h0M258.8 98.1h0M271.5 95.0h0M264.1 101.7h0M255.2 90.2h0M261.5 103.7h0M265.5 104.7h0M262.4 106.0h0M269.7 96.9h0M260.4 102.6h0M267.9 58.0h0M258.7 101.0h0M265.0 98.5h0M264.6 93.9h0M269.2 89.7h0M264.3 86.4h0M261.6 105.0h0M263.8 97.0h0M257.9 101.9h0M261.5 106.3h0M259.0 82.5h0M265.0 107.9h0M263.6 90.1h0M277.2 86.0h0M266.2 104.1h0M259.7 90.5h0M263.7 86.7h0M265.4 107.2h0M268.0 97.2h0M269.5 98.2h0M264.6 109.7h0M263.1 95.3h0M262.2 106.4h0M260.6 99.3h0M263.6 101.6h0M264.4 109.6h0M260.1 102.8h0M273.0 90.2h0M254.7 89.1h0M263.5 112.0h0M267.4 92.6h0M267.5 105.6h0M262.0 99.4h0M259.1 103.0h0M263.4 106.9h0M261.7 103.9h0M263.7 95.3h0M266.6 106.2h0M265.3 107.2h0M256.0 84.4h0M266.8 107.0h0M268.4 94.3h0M258.8 102.9h0M262.2 106.2h0M263.4 98.3h0M264.0 110.4h0M264.5 99.1h0M267.8 100.2h0M262.5 87.1h0M262.7 97.0h0M265.5 109.2h0M262.1 89.2h0M262.8 95.1h0M253.9 84.5h0M265.4 107.7h0M262.0 108.0h0M262.0 97.1h0M267.1 98.7h0M261.7 83.8h0M263.1 111.2h0M262.2 109.2h0M261.5 107.6h0M264.9 103.3h0M261.8 81.5h0M265.2 102.8h0M267.5 103.9h0M264.7 100.2h0M256.7 32.3h0M259.1 90.3h0M263.4 101.3h0M265.1 107.8h0M264.6 107.3h0M264.9 108.4h0M259.4 74.2h0M263.2 98.6h0M260.5 104.2h0M268.8 102.3h0M267.8 94.3h0M264.8 106.6h0M263.9 102.6h0M259.4 85.8h0M258.5 96.2h0M265.3 101.3h0M266.8 91.7h0M266.4 92.2h0M267.0 100.3h0M269.7 87.6h0M264.3 105.5h0M259.0 90.9h0M262.8 105.8h0M273.3 90.5h0M253.8 76.8h0M261.6 103.9h0M264.8 110.3h0M265.9 103.7h0M263.1 106.5h0M272.8 95.0h0M264.0 104.5h0M260.0 97.2h0M267.0 106.4h0M265.3 97.1h0M262.8 107.2h0M256.5 88.5h0M264.6 80.6h0M265.0 107.6h0M262.0 107.8h0M277.3 76.8h0M268.8 98.5h0M264.4 105.0h0M260.1 90.3h0M265.3 107.4h0M262.6 110.4h0M268.4 93.8h0M270.5 84.0h0M266.0 96.7h0M266.1 102.6h0M261.6 107.7h0M262.4 107.9h0M261.5 105.9h0M261.8 104.2h0M255.4 88.3h0M265.0 97.3h0M275.4 82.1h0M258.7 101.5h0M264.7 110.5h0M262.5 106.8h0M264.4 106.3h0M263.1 106.0h0M260.5 94.0h0M257.9 100.2h0M259.7 90.9h0M268.2 102.8h0M252.9 72.5h0M264.5 111.0h0M258.4 102.2h0M263.6 111.8h0M273.8 81.0h0M265.1 93.1h0M264.2 100.1h0M266.2 93.0h0M269.2 96.3h0M262.2 100.0h0M260.1 102.4h0M262.7 100.7h0M259.1 87.1h0M269.2 87.7h0M260.6 100.4h0M270.7 88.4h0M259.3 102.2h0M273.1 94.6h0M267.3 99.2h0M265.3 106.1h0M264.7 100.9h0M267.6 103.6h0M263.8 100.6h0M260.6 105.3h0M266.2 88.5h0M258.3 94.6h0M261.2 107.4h0M260.3 105.3h0M263.4 108.2h0M262.6 106.4h0M264.2 105.9h0M262.0 101.6h0M266.7 93.9h0M276.9 83.9h0M265.9 103.3h0M259.7 95.1h0M262.5 96.4h0M260.3 105.5h0M255.7 46.3h0M259.9 85.6h0M271.4 89.0h0M262.6 90.3h0M262.5 104.4h0M263.6 101.1h0M266.3 104.9h0M262.7 105.0h0M268.2 89.7h0M270.1 77.0h0M262.5 91.7h0M260.3 103.9h0M270.8 83.6h0M269.7 101.7h0M260.2 97.6h0M260.2 100.1h0M258.5 98.4h0M262.9 99.0h0M267.0 102.6h0M261.1 106.8h0M261.9 93.5h0M267.7 103.5h0M258.6 100.7h0M264.0 108.2h0M267.8 84.3h0M263.0 111.6h0M272.5 94.4h0M263.1 102.7h0M258.0 64.4h0M263.6 110.6h0M267.7 90.4h0M259.5 102.9h0M261.5 96.9h0M259.8 98.2h0M261.3 103.9h0M266.4 105.8h0M248.5 85.7h0M270.4 83.5h0M266.5 105.7h0M263.8 111.6h0M267.0 105.3h0M261.0 95.1h0M260.7 85.8h0M263.7 110.2h0M263.2 109.0h0M263.7 107.1h0M261.2 108.6h0M262.8 89.7h0M261.6 108.4h0M270.5 98.8h0M265.9 100.3h0M265.5 91.0h0M252.1 57.1h0M268.3 72.5h0M264.8 108.1h0M259.1 102.6h0M263.6 107.5h0M261.7 69.1h0M263.3 110.8h0M261.2 87.6h0M262.5 89.7h0M260.9 105.8h0M265.1 94.5h0M266.5 88.9h0M263.2 111.4h0M256.1 96.7h0M260.6 85.7h0M264.0 73.5h0M264.2 82.4h0M262.3 92.9h0M261.3 101.2h0M254.9 89.5h0M263.1 96.0h0M258.9 70.3h0M261.9 82.0h0M266.1 103.8h0M263.7 98.9h0M259.8 102.1h0M264.7 97.1h0M263.3 107.4h0M263.4 111.0h0M269.4 100.9h0M263.5 108.9h0M264.0 107.9h0M263.1 110.4h0M267.8 104.8h0M267.9 90.4h0M263.1 105.5h0M262.0 74.2h0M262.3 105.8h0M266.3 107.4h0M262.0 103.1h0M264.0 106.1h0M261.7 104.6h0M274.2 92.0h0M264.6 101.9h0M261.6 108.4h0M262.1 107.7h0M262.8 98.6h0M266.2 101.7h0M264.6 88.6h0M264.7 99.2h0M259.4 96.5h0M261.4 96.8h0M256.4 95.1h0M262.3 102.9h0M262.5 109.4h0M265.1 107.5h0M259.2 103.1h0M263.3 107.3h0M263.0 95.3h0M267.1 90.8h0M261.2 106.4h0M263.7 85.4h0M258.7 102.8h0M271.4 95.7h0M266.5 103.6h0M265.5 106.5h0M266.3 87.8h0M262.4 104.4h0M260.1 105.8h0M265.1 89.0h0M264.0 105.4h0M265.1 99.1h0M266.6 98.9h0M259.6 97.2h0M266.9 106.0h0M265.4 87.8h0M262.1 81.4h0M264.4 110.2h0M263.4 99.0h0M262.9 107.1h0M262.9 96.8h0M256.7 97.4h0M264.1 111.3h0M263.1 89.9h0M270.0 87.3h0M263.4 106.6h0M262.9 104.9h0M270.3 94.2h0M264.1 107.6h0M262.0 106.6h0M260.8 88.4h0M257.2 99.8h0M261.8 97.7h0M259.8 105.4h0M267.6 105.3h0M263.0 109.2h0M266.2 108.0h0M260.6 93.9h0M269.1 100.7h0M265.5 103.6h0M275.0 84.2h0M261.8 101.8h0M263.8 102.8h0M272.3 93.0h0M261.0 33.2h0M262.4 90.9h0M263.9 108.2h0M259.9 90.3h0M262.2 105.8h0M269.2 80.4h0M262.9 91.3h0M263.9 107.1h0M263.4 109.3h0M266.0 104.9h0M271.3 94.5h0M257.0 94.9h0M262.7 100.5h0M260.6 100.3h0M264.2 90.4h0M269.0 93.3h0M262.6 69.2h0M263.1 98.8h0M263.2 95.6h0M260.7 105.8h0M266.9 104.1h0M266.0 99.6h0M266.0 81.3h0M260.8 93.8h0M269.6 95.5h0M265.1 83.7h0M264.0 111.8h0M278.5 69.5h0M265.5 91.7h0M265.2 63.1h0M266.2 102.6h0M267.8 104.5h0M269.3 95.4h0M263.3 104.0h0M266.1 103.7h0M264.9 109.2h0M262.2 105.8h0M263.9 98.9h0M261.4 107.1h0M260.0 104.6h0M266.3 101.3h0M259.1 99.3h0M266.8 101.7h0M265.9 107.9h0M263.8 73.2h0M261.2 104.4h0M263.7 111.3h0M262.6 84.5h0M258.4 92.2h0M262.8 103.8h0M258.5 99.3h0M262.1 107.1h0M262.6 86.4h0M263.4 107.0h0M261.5 107.8h0M255.4 86.3h0M263.4 111.8h0M258.0 100.3h0M267.4 93.0h0M266.4 93.9h0M262.9 106.6h0M257.7 97.9h0M262.4 105.9h0M263.4 103.4h0M258.2 91.9h0M259.8 103.3h0M269.0 94.4h0M265.9 104.4h0M263.4 109.2h0M264.4 84.9h0M262.4 101.6h0M262.3 105.5h0M265.3 106.9h0M262.5 75.4h0M263.8 104.8h0M260.6 106.9h0M262.1 91.7h0M263.2 94.5h0M269.6 45.1h0M265.8 99.1h0M264.5 98.1h0M256.3 99.0h0M259.7 105.2h0M262.3 109.7h0M264.0 97.9h0M264.7 101.1h0M262.9 109.0h0M262.4 92.7h0M257.9 99.5h0M262.8 110.5h0M269.9 82.6h0M261.9 109.6h0M261.6 101.9h0M261.6 104.1h0M264.2 92.1h0M265.0 107.2h0M264.5 110.3h0M264.4 76.4h0M262.0 104.9h0M265.7 106.5h0M269.1 79.6h0M263.3 106.6h0M268.3 104.5h0M273.4 90.4h0M262.7 90.1h0M262.9 107.5h0M258.8 88.2h0M262.3 100.5h0M265.3 105.6h0M265.1 104.4h0M261.6 85.8h0M260.2 97.4h0M262.8 110.9h0M254.9 97.6h0M264.9 102.4h0M265.5 106.2h0M263.9 108.4h0M270.8 97.0h0M263.2 109.1h0M260.5 98.3h0M253.1 92.7h0M258.9 97.6h0M262.0 99.7h0M259.6 100.8h0M264.7 78.6h0M253.8 88.3h0M260.0 104.0h0M263.7 109.1h0M262.8 99.7h0M265.2 100.3h0M262.5 104.8h0M265.1 107.5h0M263.9 104.7h0M259.6 95.3h0M272.0 94.7h0M264.0 102.1h0M265.7 95.7h0M263.5 107.5h0M260.8 87.5h0M262.6 103.8h0M266.6 55.0h0M266.8 91.4h0M267.8 89.9h0M260.5 97.6h0M264.0 104.2h0M262.8 104.4h0M263.4 110.8h0M262.2 61.5h0M258.0 85.6h0M258.2 86.3h0M262.9 98.0h0M269.1 68.0h0M258.1 97.8h0M275.2 80.0h0M263.6 104.3h0M270.0 99.5h0M259.4 96.1h0M262.6 101.7h0M265.3 95.1h0M263.9 97.6h0M252.7 86.1h0M261.8 109.8h0M263.5 107.3h0M265.1 109.2h0M263.6 78.3h0M264.0 110.2h0M265.2 109.3h0M264.2 83.4h0M261.8 106.7h0M272.3 96.2h0M266.7 104.8h0M258.7 101.5h0M268.9 103.0h0M261.6 98.9h0M259.8 83.6h0M268.7 96.4h0M259.8 103.5h0M273.8 87.4h0M266.4 84.2h0M259.4 104.6h0M262.6 109.4h0M263.9 109.3h0M262.5 106.0h0M261.1 107.4h0M261.4 77.6h0M264.3 104.2h0M258.9 101.1h0M262.5 109.6h0M256.8 92.0h0M262.8 109.9h0M268.3 52.8h0M262.5 92.1h0M262.5 106.1h0M265.5 101.1h0M261.0 101.9h0M264.1 111.4h0M271.3 87.6h0M266.1 106.9h0M267.0 106.7h0M261.4 108.8h0M277.6 60.3h0M265.0 103.4h0M264.9 101.4h0M265.6 101.2h0M270.6 98.7h0M260.7 99.0h0M262.7 94.5h0M262.4 110.6h0M260.3 98.7h0M262.7 99.8h0M265.9 107.9h0M264.3 88.6h0M265.1 94.4h0M262.3 108.1h0M263.2 105.1h0M262.6 109.9h0M260.1 98.7h0M249.9 72.1h0M260.2 105.1h0M264.2 109.3h0M262.8 107.8h0M270.3 92.8h0M261.8 73.6h0M261.3 98.8h0M262.8 99.5h0M255.6 98.7h0M263.5 106.5h0M270.0 90.4h0M270.6 94.3h0M265.4 108.1h0M257.0 99.1h0M261.3 108.1h0M265.4 108.2h0M263.0 109.2h0M264.9 102.0h0M266.4 103.5h0M262.6 88.9h0M258.2 86.6h0M260.2 95.5h0M265.1 106.6h0M264.9 96.7h0M261.9 102.7h0M261.1 105.6h0M263.8 108.1h0M262.0 107.8h0M264.2 107.8h0M263.7 106.2h0M255.2 73.5h0M263.4 106.3h0M263.9 96.0h0M268.7 99.1h0M264.3 103.8h0M261.3 103.8h0M268.7 97.5h0M263.1 99.2h0M253.5 85.2h0M262.7 110.8h0M265.2 109.6h0M270.2 94.7h0M262.5 98.5h0M271.2 94.6h0M263.2 75.0h0M262.5 73.3h0M267.2 103.6h0M265.6 105.3h0M263.1 99.8h0M265.0 106.7h0M263.0 111.1h0M264.5 111.0h0M262.5 110.5h0M272.0 82.4h0M264.8 106.7h0M260.6 102.3h0M255.7 99.0h0M258.1 87.9h0M270.3 100.5h0M263.3 93.1h0M272.1 97.9h0M263.6 97.1h0M258.2 103.7h0M268.2 82.0h0M264.9 103.6h0M265.2 98.7h0M266.7 102.0h0M265.1 106.9h0M257.6 91.4h0M259.9 105.4h0M259.5 99.8h0M261.3 107.7h0M263.8 109.7h0M262.6 105.1h0M266.2 102.7h0M264.9 107.2h0M263.2 108.6h0M265.0 104.0h0M261.0 100.3h0M260.5 95.9h0M266.2 79.0h0M253.6 87.9h0M266.4 95.7h0M259.5 105.9h0M264.4 103.4h0M264.1 111.1h0M260.7 93.5h0M263.5 107.4h0M258.6 102.5h0M265.6 108.2h0M264.5 106.7h0" stroke="#000" stroke-width="0.48" stroke-linecap="round" fill="none" opacity="0.85"/>
<path d="M290.75 95.89h0M238.44 92.23h0M273.63 105.03h0M278.38 95.13h0M227.93 92.74h0M247.15 99.38h0M279.6 96.38h0M252.06 98.9h0M255.93 108.33h0M250.5 91.22h0M230.03 91.62h0M255.28 99.5h0M242.35 98.3h0M285.3 104.08h0M271.37 104.66h0M273.31 95.76h0M237.91 97.69h0M302.52 94.12h0M269.05 104.35h0M269.85 103.49h0M277.77 103.8h0M239.98 92.22h0M277.66 103.79h0M235.33 94.78h0M275.59 98.24h0M273.62 94.48h0M249.28 105.54h0M269.46 94.48h0M282.56 91.24h0M253.67 95.87h0M257.67 102.33h0M255.07 102.2h0M270.7 93.78h0M254.96 98.19h0M245.43 101.19h0M289.02 96.68h0M270.01 101.99h0M258.32 95.18h0M272.47 92.65h0M275.08 106.68h0M258.3 94.09h0M277.04 103.74h0M276.91 101.39h0M282.53 98.06h0M250.94 92.65h0M249.21 94.24h0M271.88 98.28h0M270.47 98.22h0M278.48 98.12h0M269.14 106.7h0M279.53 93.3h0M289.86 94.6h0M244.92 93.59h0M255.93 94.73h0M249.28 97.87h0M245.7 104.54h0M253.1 93.89h0M270.78 99.15h0M272.71 91.82h0M248.17 107.03h0M269.31 102.74h0M275.29 97.83h0M255.45 108.24h0M279.85 97.61h0M269.56 96.35h0M274.36 92.3h0M253.93 92.64h0M248.74 100.4h0M281.52 104.29h0M274.61 103.34h0M249.43 97.71h0M280.3 98.23h0M249.22 93.98h0M252.45 108.83h0M252.88 103.54h0M280.12 101.46h0M248.38 107.79h0M248.27 92.3h0M252.29 100.77h0M272.52 106.25h0M246.55 95.92h0M281.88 101.84h0M251.95 104h0M253.9 93.42h0M258.63 104.84h0M257.89 105.89h0M274.98 103.96h0M249.59 104.17h0M258.67 100.44h0M276.79 108.37h0M269.69 91.06h0M252.34 94.29h0M287.54 101.88h0M273.45 108.62h0M276.53 93.34h0M272.57 91.54h0M246.44 103.24h0M292.6 97.27h0M246.34 91.06h0M268.36 91.81h0M252.51 96.53h0M280.87 96.16h0M256.79 101.43h0M269.77 95.85h0M269.56 97.67h0M251.71 92.72h0M236.57 101.95h0M255.81 104.78h0M281.68 101.98h0M252.34 96.92h0M252.52 92.17h0M288.5 99.21h0M269.3 100.87h0M255.41 108.17h0M271.29 106.73h0M281.87 100.29h0M242.56 105.48h0M253.29 99.11h0M237.53 100.26h0M275.58 101.63h0M255.08 100.66h0M272.75 108.6h0M252.07 94.03h0M273.66 97.78h0M257.27 97.37h0M278.32 95.95h0M242.66 101.58h0M270.28 103.25h0M278.43 102.29h0M245.83 97.7h0M256.59 98.12h0M248.01 102.42h0M268.31 106.53h0M286.35 97.05h0M256.07 104.05h0M257.77 101.52h0M255.91 93.87h0M273.99 104.62h0M258.34 108.67h0M239.96 101.14h0M254.19 96.71h0M272.66 91.29h0M252.59 106.23h0M236.67 100.7h0M269.71 93.8h0M282.74 99.79h0M273.09 107.8h0M270 101.2h0M273.27 91.16h0M283.64 93.58h0M235.27 93.12h0M283.93 91.85h0M254.58 107.08h0M247.54 105.27h0M244.23 105.23h0M273.3 107.92h0M276.41 99.24h0M280.78 95.79h0M257.93 99.03h0M280.4 97.63h0M276.6 102.4h0M279.25 97.58h0M244.15 98.97h0M268.59 96.08h0M253.08 104.87h0M244.29 95.73h0M253.49 95.98h0M252.27 91.88h0M252.48 104.48h0M271.98 94.36h0M280.1 91.59h0M277.69 101.38h0M253.33 97.02h0M281.97 100.45h0M255.95 98.17h0M255.79 91.82h0M270.97 100.36h0M278.88 104.2h0M255.29 92.77h0M292.07 97.37h0M275.96 93.51h0M249.61 105.83h0M257.67 94.93h0M257.34 105.32h0M241.02 94.05h0M269.72 103.64h0M275.55 101.53h0M280.77 102.62h0M281.47 92.37h0M256.51 106.8h0M284.26 96.88h0M257.67 99.08h0M245.23 106.02h0M242.53 99.57h0M253.73 103.25h0M290.45 97.82h0M234.4 97.24h0M278.41 100.45h0M245.76 103.3h0M279.36 92.89h0M290.57 100.63h0M272.29 104.91h0M246.04 106.47h0M252.08 107.08h0M275.97 97.05h0M281.88 94.01h0M242.76 103.72h0M275.72 102.19h0M252.4 106.48h0M256.99 95.1h0M247.12 98.29h0M274.64 90.94h0M283.05 96.45h0M284.22 96.36h0M241.9 99.26h0M273.07 108.73h0M278.24 108.31h0M252.98 100.63h0M250 108.09h0M270.57 105.5h0M275.93 109.22h0M273.88 96.74h0M268.63 103.61h0M254.64 91.44h0M275.25 107.99h0M243.44 94.85h0M245.17 93.37h0M271.17 99.16h0M276.05 91.29h0M243.51 96.05h0M279.1 107.43h0M275.42 91.14h0M236.26 97.26h0M256 101.81h0M245.11 101.45h0M271.81 107.39h0M239.83 100h0M285.35 98.03h0M252.62 101.94h0M286.18 94.57h0M245.17 101.3h0M234.31 93.04h0M278.84 91.1h0M278.02 95.77h0M252.24 98.37h0M243.86 95.08h0M278.92 107.8h0M285.44 97.33h0M276.66 101.81h0M280.85 97.97h0M276.6 104.11h0M253.26 104.64h0M275.17 109.48h0M228.28 91.09h0M254.76 91.85h0M246.73 100.94h0M285.32 91.94h0M258.1 98.57h0M250.87 96.15h0M293.06 91.1h0M276.92 96.72h0M277.3 97.32h0M279.76 96.93h0M274.95 104.78h0M252.24 101.52h0M238.47 93.62h0M291.23 92.12h0M274.68 101.9h0M275.79 102.96h0M268.94 103.37h0M255.77 98.23h0M272.65 91.77h0M271.59 91.76h0M232.26 95.74h0M280.97 94.34h0M257.05 93.42h0M277.4 106.97h0M255.74 102.4h0M249.84 94.94h0M257.85 101.55h0M294.47 91.18h0M270.05 93.75h0M269.12 101.82h0M271.12 92.99h0M281.31 95.68h0M248.42 105.08h0M240.21 101.69h0M272.81 104.64h0M272.77 92.72h0M240.08 97.9h0M271.08 98.48h0M288.73 91.89h0M252.75 91.04h0M271.24 103.92h0M269.99 105.02h0M274.99 103.83h0M249.79 105.07h0M253.71 102.36h0M284.68 95.98h0M252.49 96.39h0M271.68 104.08h0M250.43 96.25h0M274.71 107.03h0M269.23 107.28h0M288.96 99.88h0M256.02 91h0M269.18 93.43h0M254.99 95.32h0M274.18 99.62h0M287.29 103.83h0M249.65 97.7h0M249.47 94h0M269.52 106.99h0M269.53 91h0M251.99 94.86h0M246.97 95.17h0M243.92 98.94h0M251.25 98.25h0M236.67 93.6h0M239.17 103.63h0M247.82 105.04h0M252.08 97.99h0M275.33 104.43h0M256.04 102.88h0M241.22 103.82h0M274.7 91.47h0M286.42 92.93h0M272.24 108.96h0M274.86 108.03h0M246.55 106.61h0M271.69 107.84h0M273.59 97.67h0M274.57 96.49h0M273.09 109.49h0M286.68 99.06h0M257.12 103.78h0M271.34 105.54h0M242.68 95.07h0M273.89 105.17h0M252.28 105.21h0M249.86 96.21h0M289.42 96.11h0M242.68 91.63h0M274.71 107.64h0M241.18 93.36h0M270.46 91.4h0M285.11 92.26h0M256.31 108.71h0M279.74 100.24h0M239.65 91.78h0M257.36 93.19h0M256.65 97.34h0M254.66 102.17h0M253.49 95.08h0M255.83 101.97h0M254.56 108.58h0M242.32 98.01h0M248.96 99.19h0M269.75 98.92h0M270.2 98.11h0M277.94 106.62h0M246.8 94.14h0M272.36 104.56h0M280.54 95.78h0M281.35 97.22h0M275.42 94.78h0M253.21 102.23h0M254.83 98.9h0M280.64 98.18h0M270.91 108.68h0M249.8 105.42h0M273.97 102.15h0M253.67 93.9h0M296.15 94.16h0M275.8 103.75h0M278.92 98.07h0M256.36 104.48h0M244.55 95.55h0M246.18 93.93h0M292.72 93.26h0M271.43 95.7h0M253.89 92.2h0M289.72 94.53h0M271.33 109.39h0M253.91 106.03h0M269.69 102.37h0M281.64 100.85h0M233.75 100.76h0M237.5 96.18h0M253.49 105.97h0M274.01 109.33h0M269.53 95.04h0M254.51 106.99h0M285.84 104.15h0M254.1 100.95h0M245.7 98.59h0M268.68 100.8h0M289.35 101.5h0M273.6 91.07h0M250.76 106.91h0M244.72 96.21h0M243.59 105.5h0M249.04 93.03h0M269.02 92.56h0M242.27 95.78h0M255.35 92.91h0M287.76 101.72h0M276.38 108.84h0M257.31 99.38h0M292.4 100.64h0M247.78 90.95h0M288.21 99.13h0M276.52 97.35h0M247.98 103.91h0M249.79 98.87h0M252.64 99.28h0M276.85 91.53h0M235.59 100.53h0M256.44 99.53h0M284.34 103.98h0M257.59 101.39h0M250.03 91.47h0M272.38 103.69h0M290.22 98.99h0M269.53 90.95h0M269.01 95.91h0M221.52 91.48h0M254.13 97.25h0M253.52 101.67h0M275.33 108.18h0M233.14 99.77h0M271.69 96.6h0M253.97 92.95h0M243.4 103.07h0M270.77 105.92h0M256.89 106.54h0M271.5 92.4h0M257.96 107.89h0M252.4 102.55h0M279.97 102.19h0M240.72 97.39h0M255.36 100.73h0M290.19 101.44h0M255.3 94.2h0M251.07 99.8h0M275.07 103.1h0M256.67 98.16h0M272.69 96.96h0M268.48 109.38h0M274.01 98.42h0M268.42 102.35h0M235.03 97.11h0M269.09 100.5h0M254.93 99.39h0M248.08 101.01h0M276.76 101.76h0M291.68 97.92h0M253.47 103.68h0M255.39 98.06h0M276.84 102.15h0M277.98 103.63h0M274.55 103.84h0M248.29 106.93h0M273.89 94.28h0M274.42 99.03h0M258.19 102.05h0M274.42 93.42h0M274.28 94.46h0M276.29 93.57h0M256.5 104.2h0M280.76 106.77h0M268.82 92.06h0M281.61 95.64h0M280.86 107.21h0M279.93 105.62h0M257.41 104.92h0M243.74 101.14h0M252.74 102.4h0M279.07 104.67h0M243.66 98.61h0M254.65 109.25h0M235.29 95.09h0M272.47 105.05h0M288.77 102.83h0M276.53 107.38h0M273.83 103.88h0M271.52 101.52h0M297.06 91.47h0M255.56 102.24h0M250.15 94.96h0M274.26 97.1h0M276.9 93.72h0M286.66 102.96h0M245.25 100.82h0M273.83 100.3h0M283.12 106.01h0M272.54 104.01h0M251.39 102.46h0M270.88 91.12h0M278 93.15h0M274.42 94.73h0M251.56 106.45h0M274.8 106.49h0M256.61 107.47h0M250.71 94.83h0M279.67 91.83h0M244.28 93.37h0M279.02 94.95h0M279.7 91.99h0M229.22 91.49h0M244.92 99.85h0M275.8 109.19h0M268.67 103.91h0M258.15 105.15h0M283.95 104.73h0M275.74 100h0M250.17 93.96h0M247.45 92.03h0M256.57 94.17h0M283.86 95.69h0M270.25 108.15h0M269.03 106.26h0M285.03 95.75h0M256.42 101.71h0M281.05 105.65h0M244.41 101.26h0M275.87 95.61h0M270.6 105.35h0M237.96 99.46h0M253.47 93.19h0M250.77 104.98h0M258.3 103.23h0M243.07 91.78h0M273.42 98.08h0M280.17 106.21h0M240.23 103.32h0M251.32 104.4h0M238.74 94.86h0M251.35 96.6h0M258.22 99.04h0M254.8 91.85h0M278.72 103.19h0M281.01 96.56h0M247.96 95.08h0M271.18 93.57h0M275.86 92.94h0M257.49 98.63h0M292.04 94.16h0M254.87 92.29h0M252.84 95.51h0M255.93 99.69h0M275.61 99.91h0M251.03 107.26h0M270.46 102.31h0M286.84 91.78h0M291.68 99.41h0M253.39 107.75h0M258.31 94.35h0M257.41 97.51h0M249.62 106.66h0M293.15 98.67h0M250.98 94.52h0M283.1 105.15h0M247.59 95.38h0M280.12 102.09h0M241.35 100.4h0M291.39 93h0M255.16 105.15h0M269.38 106.18h0M258.38 108.38h0M246.64 95.82h0M282.77 94.49h0M269.93 106.88h0M278.8 106.92h0M241.54 94.28h0M249.92 108.62h0M254.09 107.92h0M256.35 103.72h0M256.69 97.84h0M249.87 104.12h0M240.71 97.96h0M275.05 101.39h0M245.4 99.46h0M247.86 107.69h0M275.97 106.25h0M249.53 93.8h0M251.57 106.19h0M272.51 105.38h0M274.12 105.02h0M250.87 92.67h0M254.03 104.97h0M243.65 104.93h0M274.08 102.25h0M252.03 107.12h0M279.14 105.92h0M239.2 90.99h0M258.62 106.9h0M249.92 102.63h0M254.88 100.78h0M248.89 102.71h0M271.35 93.63h0M295.41 94.15h0M244.52 92.65h0M297.23 94.81h0M235.99 97.2h0M255.37 91.49h0M296.68 93.96h0M307.44 92.87h0M283.5 98.38h0M236.13 96.7h0M270.2 103.76h0M276.17 92.58h0M276.07 96.24h0M269.82 94.6h0M283.17 93.09h0M251.44 93.87h0M273.85 93.56h0M256.36 96.3h0M281.49 92.3h0M253.15 96.41h0M248.93 103.69h0M272.81 104.59h0M293.5 94.16h0M276.89 104.16h0M252.01 108.81h0M280.98 106.28h0M251.74 92.21h0M248.14 101.22h0M270.7 99.49h0M250.55 95.2h0M277.24 92.35h0M249.95 108.82h0M277.13 102.51h0M250.85 100.16h0M249.11 105.79h0M257.31 93.33h0M255.43 106.88h0M275.83 102.09h0M271.6 91.69h0M300.92 93.25h0M257.9 92.65h0M270.8 96.83h0M295.9 98.08h0M258.35 98.88h0M289.51 98.02h0M258.37 91.48h0M243.96 103.64h0M248.58 96.83h0M276.97 95.34h0M287.03 99.02h0M257.39 108.58h0M278.22 101.16h0M268.78 98.8h0M274.44 103.16h0M276.36 100.72h0M239.26 100.42h0M249.35 95.13h0M256.5 90.94h0M257.16 98.61h0M268.98 104.87h0M256.35 99.4h0M282.85 94.91h0M293.96 94.11h0M254.25 99.13h0M273.51 108.94h0M268.48 105.31h0M251.18 108.24h0M271.94 98.1h0M291.53 94.37h0M274.61 102.14h0M276.33 103.98h0M252.43 102.61h0M255.3 94.03h0M268.47 100.1h0M245.6 96.4h0M274.48 93.54h0M254.61 97.9h0M287.98 95.94h0M279.96 101.09h0M248.95 106.71h0M250.77 106.16h0M244.83 97.52h0M257.25 97.97h0M269.06 107.02h0M254.35 105.51h0M251.56 100.64h0M249.67 95.76h0M254.15 109.02h0M254.52 98.75h0M255.45 102.27h0M276.28 106.95h0M252.56 93.03h0M253.52 107.27h0M243.19 93.34h0M270.07 96.88h0M254.36 102.85h0M242.58 98.12h0M288.3 93.09h0M274.67 102.79h0M252.49 105.82h0M283.49 96.7h0M243.59 93.44h0M248.96 106.63h0M274.07 104.46h0M257.65 98.21h0M268.43 107h0M272.53 102.31h0M255.33 100.74h0M248.61 96.5h0M269.15 91.22h0M276.96 93.6h0M289.88 101.2h0M257.06 105.68h0M255.16 97.33h0M275.67 100.63h0M274.58 99.21h0M276.77 108.52h0M232.16 91.82h0M251.69 98.59h0M268.74 95.88h0M278.68 108.08h0M258.24 98.66h0M268.65 106.11h0M257.62 94.6h0M242.84 99.4h0M270.5 99.53h0M250.32 100.61h0M258.36 94.02h0M247.85 95.38h0M253.12 107.58h0M248.37 107.98h0M277.48 93.23h0M246.49 102.19h0M283.8 97.6h0M272.79 107.15h0M281.16 105.57h0M284.45 99h0M235.06 92.53h0M232.48 99.59h0M241.54 92.5h0M278.83 107.85h0M247.04 94.01h0M250.88 106.63h0M256.66 96.79h0M284.42 100.69h0M241.78 96.79h0M272.48 95.89h0M242.41 99.31h0M278.64 96.24h0M251.38 98.43h0M271.33 92.2h0M245.64 106.2h0" stroke="#000" stroke-width="0.5" stroke-linecap="round" fill="none" opacity="0.45"/>
<circle cx="273.9" cy="65.77" r="0.7" fill="#aaa" stroke="#333" stroke-width="0.4"/>
<circle cx="276.3" cy="64.76" r="0.7" fill="#aaa" stroke="#333" stroke-width="0.4"/>
<circle cx="281.1" cy="65.77" r="0.7" fill="#aaa" stroke="#333" stroke-width="0.4"/>
<circle cx="292.3" cy="51.7" r="0.7" fill="#aaa" stroke="#333" stroke-width="0.4"/>
<circle cx="306.7" cy="53.71" r="0.7" fill="#aaa" stroke="#333" stroke-width="0.4"/>
<circle cx="272.3" cy="73.81" r="0.7" fill="#aaa" stroke="#333" stroke-width="0.4"/>
<circle cx="274.7" cy="72.81" r="0.7" fill="#aaa" stroke="#333" stroke-width="0.4"/>
<circle cx="277.9" cy="71.8" r="0.7" fill="#aaa" stroke="#333" stroke-width="0.4"/>
<circle cx="273.1" cy="79.84" r="0.7" fill="#aaa" stroke="#333" stroke-width="0.4"/>
<circle cx="275.5" cy="81.85" r="0.7" fill="#aaa" stroke="#333" stroke-width="0.4"/>
<circle cx="279.5" cy="76.82" r="0.7" fill="#aaa" stroke="#333" stroke-width="0.4"/>
<circle cx="281.9" cy="75.82" r="0.7" fill="#aaa" stroke="#333" stroke-width="0.4"/>
<circle cx="273.9" cy="85.87" r="0.7" fill="#aaa" stroke="#333" stroke-width="0.4"/>
<circle cx="273.1" cy="88.89" r="0.7" fill="#aaa" stroke="#333" stroke-width="0.4"/>
<circle cx="277.1" cy="87.88" r="0.7" fill="#aaa" stroke="#333" stroke-width="0.4"/>
<circle cx="282.7" cy="84.86" r="0.7" fill="#aaa" stroke="#333" stroke-width="0.4"/>
<circle cx="286.7" cy="83.86" r="0.7" fill="#aaa" stroke="#333" stroke-width="0.4"/>
<circle cx="288.3" cy="80.84" r="0.7" fill="#aaa" stroke="#333" stroke-width="0.4"/>
<circle cx="291.5" cy="79.84" r="0.7" fill="#aaa" stroke="#333" stroke-width="0.4"/>
<circle cx="294.7" cy="83.86" r="0.7" fill="#aaa" stroke="#333" stroke-width="0.4"/>
<circle cx="302.7" cy="73.81" r="0.7" fill="#aaa" stroke="#333" stroke-width="0.4"/>
<circle cx="305.1" cy="85.87" r="0.7" fill="#aaa" stroke="#333" stroke-width="0.4"/>
<circle cx="310.7" cy="88.89" r="0.7" fill="#aaa" stroke="#333" stroke-width="0.4"/>
<circle cx="321.9" cy="76.82" r="0.7" fill="#aaa" stroke="#333" stroke-width="0.4"/>
<circle cx="329.1" cy="82.86" r="0.7" fill="#aaa" stroke="#333" stroke-width="0.4"/>
<circle cx="287.5" cy="77.83" r="0.7" fill="#aaa" stroke="#333" stroke-width="0.4"/>
<circle cx="284.3" cy="89.89" r="0.7" fill="#aaa" stroke="#333" stroke-width="0.4"/>
<circle cx="287.5" cy="90.89" r="0.7" fill="#aaa" stroke="#333" stroke-width="0.4"/>
<circle cx="289.9" cy="86.88" r="0.7" fill="#aaa" stroke="#333" stroke-width="0.4"/>
<circle cx="280.3" cy="90.89" r="0.7" fill="#aaa" stroke="#333" stroke-width="0.4"/>
<circle cx="273.5" cy="82.86" r="0.7" fill="#aaa" stroke="#333" stroke-width="0.4"/>
<circle cx="275.1" cy="77.83" r="0.7" fill="#aaa" stroke="#333" stroke-width="0.4"/>
<circle cx="272.7" cy="76.82" r="0.7" fill="#aaa" stroke="#333" stroke-width="0.4"/>
<circle cx="278.7" cy="81.85" r="0.7" fill="#aaa" stroke="#333" stroke-width="0.4"/>
<circle cx="202.7" cy="71.2" r="1.15" fill="#c4c4c4" stroke="#444" stroke-width="0.4"/>
<circle cx="218.7" cy="71.8" r="1.15" fill="#c4c4c4" stroke="#444" stroke-width="0.4"/>
<circle cx="234.7" cy="74.81" r="1.15" fill="#c4c4c4" stroke="#444" stroke-width="0.4"/>
<circle cx="241.1" cy="75.22" r="1.15" fill="#c4c4c4" stroke="#444" stroke-width="0.4"/>
<circle cx="229.9" cy="83.46" r="1.15" fill="#c4c4c4" stroke="#444" stroke-width="0.4"/>
<circle cx="240.3" cy="81.85" r="1.15" fill="#c4c4c4" stroke="#444" stroke-width="0.4"/>
<circle cx="216.3" cy="88.89" r="1.15" fill="#c4c4c4" stroke="#444" stroke-width="0.4"/>
<circle cx="221.1" cy="88.48" r="1.15" fill="#c4c4c4" stroke="#444" stroke-width="0.4"/>
<circle cx="234.7" cy="86.27" r="1.15" fill="#c4c4c4" stroke="#444" stroke-width="0.4"/>
<circle cx="237.1" cy="89.49" r="1.15" fill="#c4c4c4" stroke="#444" stroke-width="0.4"/>
<circle cx="241.9" cy="90.89" r="1.15" fill="#c4c4c4" stroke="#444" stroke-width="0.4"/>
<circle cx="244.3" cy="88.89" r="1.15" fill="#c4c4c4" stroke="#444" stroke-width="0.4"/>
<circle cx="247.5" cy="85.87" r="1.15" fill="#c4c4c4" stroke="#444" stroke-width="0.4"/>
<circle cx="249.1" cy="80.84" r="1.15" fill="#c4c4c4" stroke="#444" stroke-width="0.4"/>
<circle cx="250.7" cy="87.88" r="1.15" fill="#c4c4c4" stroke="#444" stroke-width="0.4"/>
<circle cx="251.5" cy="77.83" r="1.15" fill="#c4c4c4" stroke="#444" stroke-width="0.4"/>
<circle cx="253.1" cy="83.86" r="1.15" fill="#c4c4c4" stroke="#444" stroke-width="0.4"/>
<circle cx="253.9" cy="89.89" r="1.15" fill="#c4c4c4" stroke="#444" stroke-width="0.4"/>
<circle cx="245.9" cy="79.84" r="1.15" fill="#c4c4c4" stroke="#444" stroke-width="0.4"/>
<circle cx="248.3" cy="89.89" r="1.15" fill="#c4c4c4" stroke="#444" stroke-width="0.4"/>
<circle cx="252.3" cy="86.88" r="1.15" fill="#c4c4c4" stroke="#444" stroke-width="0.4"/>
<circle cx="249.9" cy="83.86" r="1.15" fill="#c4c4c4" stroke="#444" stroke-width="0.4"/>
<circle cx="253.5" cy="79.84" r="1.15" fill="#c4c4c4" stroke="#444" stroke-width="0.4"/>
<circle cx="243.5" cy="84.86" r="1.15" fill="#c4c4c4" stroke="#444" stroke-width="0.4"/>
<circle cx="252.7" cy="73.81" r="1.15" fill="#c4c4c4" stroke="#444" stroke-width="0.4"/>
<circle cx="254.3" cy="67.78" r="1.15" fill="#c4c4c4" stroke="#444" stroke-width="0.4"/>
<circle cx="254.7" cy="85.87" r="1.15" fill="#c4c4c4" stroke="#444" stroke-width="0.4"/>
<circle cx="250.7" cy="90.89" r="1.15" fill="#c4c4c4" stroke="#444" stroke-width="0.4"/>
<circle cx="255.28" cy="49.84" r="1.3" fill="#1010d0"/>
<circle cx="253.95" cy="55.79" r="1.3" fill="#d01010"/>
<circle cx="242.33" cy="56.82" r="1.3" fill="#1010d0"/>
<circle cx="253.2" cy="62.66" r="1.3" fill="#10c010"/>
<circle cx="254.13" cy="62.07" r="1.3" fill="#10c010"/>
<circle cx="252.58" cy="67.02" r="1.3" fill="#d01010"/>
<circle cx="254.13" cy="68.91" r="1.3" fill="#10c010"/>
<circle cx="254.13" cy="72.4" r="1.3" fill="#d01010"/>
<circle cx="246.53" cy="74.09" r="1.3" fill="#1010d0"/>
<circle cx="248.87" cy="72.63" r="1.3" fill="#10c010"/>
<circle cx="248.91" cy="77.65" r="1.3" fill="#d01010"/>
<circle cx="240.91" cy="80.57" r="1.3" fill="#d01010"/>
<circle cx="247.37" cy="80.84" r="1.3" fill="#d01010"/>
<circle cx="232.78" cy="82.6" r="1.3" fill="#10c010"/>
<circle cx="238.62" cy="83.99" r="1.3" fill="#10c010"/>
<circle cx="244.98" cy="84.16" r="1.3" fill="#1010d0"/>
<circle cx="255.28" cy="73.26" r="1.3" fill="#1010d0"/>
<circle cx="255.28" cy="83" r="1.3" fill="#1010d0"/>
<circle cx="254.53" cy="75.45" r="1.3" fill="#10c010"/>
<circle cx="252.58" cy="80.11" r="1.3" fill="#10c010"/>
<circle cx="255.28" cy="81.53" r="1.3" fill="#10c010"/>
<circle cx="252.98" cy="82.7" r="1.3" fill="#10c010"/>
<circle cx="248.56" cy="86.09" r="1.3" fill="#10c010"/>
<circle cx="253.51" cy="85.75" r="1.3" fill="#10c010"/>
<circle cx="251.43" cy="89.24" r="1.3" fill="#10c010"/>
<circle cx="254.88" cy="88.84" r="1.3" fill="#1010d0"/>
<circle cx="250.11" cy="83.43" r="1.3" fill="#1010d0"/>
</g>
<line x1="198.4" y1="116.1" x2="333.6" y2="116.1" stroke="#666" stroke-width="0.6"/>
<line x1="333.3" y1="12" x2="333.3" y2="116.4" stroke="#666" stroke-width="0.6"/>
<rect x="198.4" y="43.2" width="58.8" height="50.1" fill="none" stroke="#f23030" stroke-width="0.75"/>
<text x="222.3" y="126.2" font-size="6.8" fill="#222" stroke="#222" text-anchor="middle">−5</text>
<text x="263.5" y="126.2" font-size="6.8" fill="#222" stroke="#222" text-anchor="middle">0</text>
<text x="303.5" y="126.2" font-size="6.8" fill="#222" stroke="#222" text-anchor="middle">5</text>
<text x="337" y="114.5" font-size="6.8" fill="#222" stroke="#222">0</text>
<text x="337" y="94.4" font-size="6.8" fill="#222" stroke="#222">1</text>
<text x="337" y="74.3" font-size="6.8" fill="#222" stroke="#222">2</text>
<text x="337" y="54.2" font-size="6.8" fill="#222" stroke="#222">3</text>
<text x="337" y="34.1" font-size="6.8" fill="#222" stroke="#222">4</text>
<text x="264.5" y="136.2" font-size="6.8" fill="#222" stroke="#222" text-anchor="middle">Log2 ratio THZ531/DMSO</text>
<text x="352.3" y="68.4" font-size="6.8" fill="#222" stroke="#222" text-anchor="middle" transform="rotate(-90 352.3 68.4)">−Log10(p-value)</text>
</g>
<g id="panel-b">
<text x="362.2" y="8.4" font-size="11.5" fill="#000" stroke="#000" font-weight="bold">b</text>
<rect x="509.7" y="52" width="14.18" height="5.8" fill="#f40000"/>
<text x="506.2" y="56.6" font-size="6.95" fill="#111" stroke="#111" text-anchor="end">mRNA 3′-end processing</text>
<rect x="509.7" y="59.96" width="14.18" height="5.8" fill="#f40000"/>
<text x="506.2" y="64.56" font-size="6.95" fill="#111" stroke="#111" text-anchor="end">DNA-templated transcription, termination</text>
<rect x="509.7" y="67.92" width="20.42" height="5.8" fill="#f40000"/>
<text x="506.2" y="72.52" font-size="6.95" fill="#111" stroke="#111" text-anchor="end">Termination of RNA polymerase II transcription</text>
<rect x="509.7" y="75.88" width="32.19" height="5.8" fill="#f40000"/>
<text x="506.2" y="80.48" font-size="6.95" fill="#111" stroke="#111" text-anchor="end">RNA splicing, via transesterification reactions</text>
<rect x="509.7" y="83.84" width="33.04" height="5.8" fill="#f40000"/>
<text x="506.2" y="88.44" font-size="6.95" fill="#111" stroke="#111" text-anchor="end">mRNA splicing, via spliceosome</text>
<rect x="509.7" y="91.8" width="35.73" height="5.8" fill="#f40000"/>
<text x="506.2" y="96.4" font-size="6.95" fill="#111" stroke="#111" text-anchor="end">mRNA processing</text>
<rect x="509.7" y="99.76" width="48.92" height="5.8" fill="#f40000"/>
<text x="506.2" y="104.36" font-size="6.95" fill="#111" stroke="#111" text-anchor="end">RNA splicing</text>
<path d="M509.7 50.8V106.4H566.6" fill="none" stroke="#222" stroke-width="0.8"/>
<path d="M509.7 54.9h-1.8M509.7 62.86h-1.8M509.7 70.82h-1.8M509.7 78.78h-1.8M509.7 86.74h-1.8M509.7 94.7h-1.8M509.7 102.66h-1.8M509.7 106.4v2M523.88 106.4v2M538.06 106.4v2M552.24 106.4v2M566.42 106.4v2" stroke="#222" stroke-width="0.7" fill="none"/>
<text x="509.7" y="115.8" font-size="6.9" fill="#111" stroke="#111" text-anchor="middle">0</text>
<text x="523.88" y="115.8" font-size="6.9" fill="#111" stroke="#111" text-anchor="middle">10</text>
<text x="538.06" y="115.8" font-size="6.9" fill="#111" stroke="#111" text-anchor="middle">20</text>
<text x="552.24" y="115.8" font-size="6.9" fill="#111" stroke="#111" text-anchor="middle">30</text>
<text x="566.42" y="115.8" font-size="6.9" fill="#111" stroke="#111" text-anchor="middle">40</text>
<text x="538" y="126.6" font-size="6.9" fill="#111" stroke="#111" text-anchor="middle">Enrichr score</text>
</g>
<g id="panel-c">
<text x="75.4" y="161.6" font-size="11.5" fill="#000" stroke="#000" font-weight="bold">c</text>
<path d="M130.4 167.8V247.9M130 247.9H213.4" fill="none" stroke="#222" stroke-width="0.8"/>
<path d="M130.4 247.7h-2.6M130.4 237.74h-1.6M130.4 227.78h-2.6M130.4 217.82h-1.6M130.4 207.86h-2.6M130.4 197.9h-1.6M130.4 187.94h-2.6M130.4 177.98h-1.6M130.4 168.02h-2.6M130.4 247.9v2.4M151.05 247.9v2.4M171.7 247.9v2.4M192.35 247.9v2.4M213 247.9v2.4" stroke="#222" stroke-width="0.7" fill="none"/>
<text x="126.4" y="250.2" font-size="6.9" fill="#111" stroke="#111" text-anchor="end">0</text>
<text x="126.4" y="230.28" font-size="6.9" fill="#111" stroke="#111" text-anchor="end">2</text>
<text x="126.4" y="210.36" font-size="6.9" fill="#111" stroke="#111" text-anchor="end">4</text>
<text x="126.4" y="190.44" font-size="6.9" fill="#111" stroke="#111" text-anchor="end">6</text>
<text x="126.4" y="170.52" font-size="6.9" fill="#111" stroke="#111" text-anchor="end">8</text>
<text x="130.4" y="257.1" font-size="6.9" fill="#111" stroke="#111" text-anchor="middle">0</text>
<text x="151.05" y="257.1" font-size="6.9" fill="#111" stroke="#111" text-anchor="middle">100</text>
<text x="171.7" y="257.1" font-size="6.9" fill="#111" stroke="#111" text-anchor="middle">200</text>
<text x="192.35" y="257.1" font-size="6.9" fill="#111" stroke="#111" text-anchor="middle">300</text>
<text x="213" y="257.1" font-size="6.9" fill="#111" stroke="#111" text-anchor="middle">400</text>
<polyline points="130.4,247.5 133.5,247.4 136.59,247.3 142.79,247.4 155.18,247.4 179.96,247.3 204.74,247.2" fill="none" stroke="#1010f0" stroke-width="1.1"/>
<path d="M130.4 245.38L132.44 249.03L128.36 249.03Z" fill="#1010f0"/>
<path d="M133.5 245.28L135.54 248.93L131.46 248.93Z" fill="#1010f0"/>
<path d="M136.59 245.18L138.63 248.83L134.56 248.83Z" fill="#1010f0"/>
<path d="M142.79 245.28L144.83 248.93L140.75 248.93Z" fill="#1010f0"/>
<path d="M155.18 245.28L157.22 248.93L153.14 248.93Z" fill="#1010f0"/>
<path d="M179.96 245.18L182 248.83L177.92 248.83Z" fill="#1010f0"/>
<path d="M204.74 245.08L206.78 248.73L202.7 248.73Z" fill="#1010f0"/>
<polyline points="130.4,247.7 133.5,246.7 136.59,245.71 142.79,244.51 155.18,241.23 179.96,237.24 204.74,231.76" fill="none" stroke="#10b010" stroke-width="1.1"/>
<path d="M142.79 243.32V245.71M141.09 243.32h3.4M141.09 245.71h3.4M155.18 240.43V242.02M153.48 240.43h3.4M153.48 242.02h3.4M179.96 235.05V239.43M178.26 235.05h3.4M178.26 239.43h3.4M204.74 230.97V232.56M203.04 230.97h3.4M203.04 232.56h3.4" stroke="#10b010" stroke-width="0.9" fill="none"/>
<rect x="128.7" y="246" width="3.4" height="3.4" fill="#10b010"/>
<rect x="131.8" y="245" width="3.4" height="3.4" fill="#10b010"/>
<rect x="134.9" y="244.01" width="3.4" height="3.4" fill="#10b010"/>
<rect x="141.09" y="242.81" width="3.4" height="3.4" fill="#10b010"/>
<rect x="153.48" y="239.53" width="3.4" height="3.4" fill="#10b010"/>
<rect x="178.26" y="235.54" width="3.4" height="3.4" fill="#10b010"/>
<rect x="203.04" y="230.06" width="3.4" height="3.4" fill="#10b010"/>
<polyline points="130.4,247.7 133.5,244.71 136.59,241.23 142.79,235.55 155.18,223.8 179.96,204.87 204.74,188.94" fill="none" stroke="#f01010" stroke-width="1.1"/>
<path d="M136.59 240.73V241.72M134.9 240.73h3.4M134.9 241.72h3.4M142.79 234.75V236.35M141.09 234.75h3.4M141.09 236.35h3.4M155.18 221.31V226.29M153.48 221.31h3.4M153.48 226.29h3.4M179.96 201.39V208.36M178.26 201.39h3.4M178.26 208.36h3.4M204.74 183.96V193.92M203.04 183.96h3.4M203.04 193.92h3.4" stroke="#f01010" stroke-width="0.9" fill="none"/>
<circle cx="130.4" cy="247.7" r="1.7" fill="#f01010"/>
<circle cx="133.5" cy="244.71" r="1.7" fill="#f01010"/>
<circle cx="136.59" cy="241.23" r="1.7" fill="#f01010"/>
<circle cx="142.79" cy="235.55" r="1.7" fill="#f01010"/>
<circle cx="155.18" cy="223.8" r="1.7" fill="#f01010"/>
<circle cx="179.96" cy="204.87" r="1.7" fill="#f01010"/>
<circle cx="204.74" cy="188.94" r="1.7" fill="#f01010"/>
<text x="174.6" y="164.6" font-size="8" fill="#111" stroke="#111" text-anchor="middle">CDC5L</text>
<text x="171" y="269.4" font-size="6.9" fill="#111" stroke="#111" text-anchor="middle">Time (min)</text>
<text x="107.2" y="208.6" font-size="6.9" fill="#111" stroke="#111" text-anchor="middle" transform="rotate(-90 107.2 208.6)">[<tspan font-size="5" dy="-2.4">32</tspan><tspan dy="2.4">P] counts per minute</tspan></text>
<text x="115.6" y="208.6" font-size="6.9" fill="#111" stroke="#111" text-anchor="middle" transform="rotate(-90 115.6 208.6)">(×10<tspan font-size="5" dy="-2.4">4</tspan><tspan dy="2.4">)</tspan></text>
<path d="M267.3 166.2V248.6M266.9 248.6H349.1" fill="none" stroke="#222" stroke-width="0.8"/>
<path d="M267.3 246.4h-2.6M267.3 236.4h-1.6M267.3 226.4h-2.6M267.3 216.4h-1.6M267.3 206.4h-2.6M267.3 196.4h-1.6M267.3 186.4h-2.6M267.3 176.4h-1.6M267.3 166.4h-2.6M267.3 248.6v2.4M287.65 248.6v2.4M308 248.6v2.4M328.35 248.6v2.4M348.7 248.6v2.4" stroke="#222" stroke-width="0.7" fill="none"/>
<text x="263.3" y="248.9" font-size="6.9" fill="#111" stroke="#111" text-anchor="end">0</text>
<text x="263.3" y="228.9" font-size="6.9" fill="#111" stroke="#111" text-anchor="end">1</text>
<text x="263.3" y="208.9" font-size="6.9" fill="#111" stroke="#111" text-anchor="end">2</text>
<text x="263.3" y="188.9" font-size="6.9" fill="#111" stroke="#111" text-anchor="end">3</text>
<text x="263.3" y="168.9" font-size="6.9" fill="#111" stroke="#111" text-anchor="end">4</text>
<text x="267.3" y="257.8" font-size="6.9" fill="#111" stroke="#111" text-anchor="middle">0</text>
<text x="287.65" y="257.8" font-size="6.9" fill="#111" stroke="#111" text-anchor="middle">100</text>
<text x="308" y="257.8" font-size="6.9" fill="#111" stroke="#111" text-anchor="middle">200</text>
<text x="328.35" y="257.8" font-size="6.9" fill="#111" stroke="#111" text-anchor="middle">300</text>
<text x="348.7" y="257.8" font-size="6.9" fill="#111" stroke="#111" text-anchor="middle">400</text>
<polyline points="267.3,247.4 270.35,246.8 273.41,248 279.51,246.4 291.72,247 316.14,246.8 340.56,243.4" fill="none" stroke="#1010f0" stroke-width="1.1"/>
<path d="M279.51 245.2V247.6M277.81 245.2h3.4M277.81 247.6h3.4" stroke="#1010f0" stroke-width="0.9" fill="none"/>
<path d="M267.3 245.28L269.34 248.93L265.26 248.93Z" fill="#1010f0"/>
<path d="M270.35 244.68L272.39 248.33L268.31 248.33Z" fill="#1010f0"/>
<path d="M273.41 245.88L275.45 249.53L271.37 249.53Z" fill="#1010f0"/>
<path d="M279.51 244.28L281.55 247.93L277.47 247.93Z" fill="#1010f0"/>
<path d="M291.72 244.88L293.76 248.53L289.68 248.53Z" fill="#1010f0"/>
<path d="M316.14 244.68L318.18 248.33L314.1 248.33Z" fill="#1010f0"/>
<path d="M340.56 241.28L342.6 244.93L338.52 244.93Z" fill="#1010f0"/>
<polyline points="267.3,246.4 270.35,244 273.41,241 279.51,234.4 291.72,233.4 316.14,233.4 340.56,232.4" fill="none" stroke="#10b010" stroke-width="1.1"/>
<path d="M273.41 240.2V241.8M271.71 240.2h3.4M271.71 241.8h3.4M279.51 233.6V235.2M277.81 233.6h3.4M277.81 235.2h3.4M291.72 229.4V237.4M290.02 229.4h3.4M290.02 237.4h3.4M316.14 231V235.8M314.44 231h3.4M314.44 235.8h3.4M340.56 231.4V233.4M338.86 231.4h3.4M338.86 233.4h3.4" stroke="#10b010" stroke-width="0.9" fill="none"/>
<rect x="265.6" y="244.7" width="3.4" height="3.4" fill="#10b010"/>
<rect x="268.65" y="242.3" width="3.4" height="3.4" fill="#10b010"/>
<rect x="271.71" y="239.3" width="3.4" height="3.4" fill="#10b010"/>
<rect x="277.81" y="232.7" width="3.4" height="3.4" fill="#10b010"/>
<rect x="290.02" y="231.7" width="3.4" height="3.4" fill="#10b010"/>
<rect x="314.44" y="231.7" width="3.4" height="3.4" fill="#10b010"/>
<rect x="338.86" y="230.7" width="3.4" height="3.4" fill="#10b010"/>
<polyline points="267.3,245.4 270.35,223.4 273.41,210.4 279.51,210 291.72,207 316.14,191.8 340.56,193" fill="none" stroke="#f01010" stroke-width="1.1"/>
<path d="M270.35 222.6V224.2M268.65 222.6h3.4M268.65 224.2h3.4M273.41 209.4V211.4M271.71 209.4h3.4M271.71 211.4h3.4M279.51 207V213M277.81 207h3.4M277.81 213h3.4M291.72 204V210M290.02 204h3.4M290.02 210h3.4M316.14 187.4V196.2M314.44 187.4h3.4M314.44 196.2h3.4M340.56 190.6V195.4M338.86 190.6h3.4M338.86 195.4h3.4" stroke="#f01010" stroke-width="0.9" fill="none"/>
<circle cx="267.3" cy="245.4" r="1.7" fill="#f01010"/>
<circle cx="270.35" cy="223.4" r="1.7" fill="#f01010"/>
<circle cx="273.41" cy="210.4" r="1.7" fill="#f01010"/>
<circle cx="279.51" cy="210" r="1.7" fill="#f01010"/>
<circle cx="291.72" cy="207" r="1.7" fill="#f01010"/>
<circle cx="316.14" cy="191.8" r="1.7" fill="#f01010"/>
<circle cx="340.56" cy="193" r="1.7" fill="#f01010"/>
<text x="308.6" y="164.6" font-size="8" fill="#111" stroke="#111" text-anchor="middle">SF3B1</text>
<text x="307.5" y="269.4" font-size="6.9" fill="#111" stroke="#111" text-anchor="middle">Time (min)</text>
<text x="243.7" y="208.6" font-size="6.9" fill="#111" stroke="#111" text-anchor="middle" transform="rotate(-90 243.7 208.6)">[<tspan font-size="5" dy="-2.4">32</tspan><tspan dy="2.4">P] counts per minute</tspan></text>
<text x="252.3" y="208.6" font-size="6.9" fill="#111" stroke="#111" text-anchor="middle" transform="rotate(-90 252.3 208.6)">(×10<tspan font-size="5" dy="-2.4">4</tspan><tspan dy="2.4">)</tspan></text>
<line x1="354.4" y1="165.8" x2="363.8" y2="165.8" stroke="#f01010" stroke-width="1.1"/>
<circle cx="359.1" cy="165.8" r="2" fill="#f01010"/>
<text x="366.8" y="168.3" font-size="6.9" fill="#111" stroke="#111">CDK12/CycK</text>
<line x1="354.4" y1="175.6" x2="363.8" y2="175.6" stroke="#10b010" stroke-width="1.1"/>
<rect x="357.1" y="173.6" width="4" height="4" fill="#10b010"/>
<text x="366.8" y="178.1" font-size="6.9" fill="#111" stroke="#111">CDK13/CycK</text>
<line x1="354.4" y1="185.4" x2="363.8" y2="185.4" stroke="#1010f0" stroke-width="1.1"/>
<path d="M359.1 182.9L361.5 187.2L356.7 187.2Z" fill="#1010f0"/>
<text x="366.8" y="187.9" font-size="6.9" fill="#111" stroke="#111">– Kinase</text>
</g>
<g id="panel-d">
<text x="75.5" y="293.7" font-size="11.5" fill="#000" stroke="#000" font-weight="bold">d</text>
<path d="M103.8 302.36V391.4H196.2" fill="none" stroke="#222" stroke-width="0.8"/>
<path d="M103.8 391.4h-2.6M103.8 376.61h-1.6M103.8 361.82h-2.6M103.8 347.03h-1.6M103.8 332.24h-2.6M103.8 317.45h-1.6M103.8 302.66h-2.6M103.8 391.4v2.6M106.57 391.4v1.2M108.19 391.4v1.2M109.34 391.4v1.2M110.23 391.4v1.2M110.96 391.4v1.2M111.57 391.4v1.2M112.11 391.4v1.2M112.58 391.4v1.2M113 391.4v1.8M115.77 391.4v1.2M117.39 391.4v1.2M118.54 391.4v1.2M119.43 391.4v1.2M120.16 391.4v1.2M120.77 391.4v1.2M121.31 391.4v1.2M121.78 391.4v1.2M122.2 391.4v2.6M124.97 391.4v1.2M126.59 391.4v1.2M127.74 391.4v1.2M128.63 391.4v1.2M129.36 391.4v1.2M129.97 391.4v1.2M130.51 391.4v1.2M130.98 391.4v1.2M131.4 391.4v1.8M134.17 391.4v1.2M135.79 391.4v1.2M136.94 391.4v1.2M137.83 391.4v1.2M138.56 391.4v1.2M139.17 391.4v1.2M139.71 391.4v1.2M140.18 391.4v1.2M140.6 391.4v2.6M143.37 391.4v1.2M144.99 391.4v1.2M146.14 391.4v1.2M147.03 391.4v1.2M147.76 391.4v1.2M148.37 391.4v1.2M148.91 391.4v1.2M149.38 391.4v1.2M149.8 391.4v1.8M152.57 391.4v1.2M154.19 391.4v1.2M155.34 391.4v1.2M156.23 391.4v1.2M156.96 391.4v1.2M157.57 391.4v1.2M158.11 391.4v1.2M158.58 391.4v1.2M159 391.4v2.6M161.77 391.4v1.2M163.39 391.4v1.2M164.54 391.4v1.2M165.43 391.4v1.2M166.16 391.4v1.2M166.77 391.4v1.2M167.31 391.4v1.2M167.78 391.4v1.2M168.2 391.4v1.8M170.97 391.4v1.2M172.59 391.4v1.2M173.74 391.4v1.2M174.63 391.4v1.2M175.36 391.4v1.2M175.97 391.4v1.2M176.51 391.4v1.2M176.98 391.4v1.2M177.4 391.4v2.6M180.17 391.4v1.2M181.79 391.4v1.2M182.94 391.4v1.2M183.83 391.4v1.2M184.56 391.4v1.2M185.17 391.4v1.2M185.71 391.4v1.2M186.18 391.4v1.2M186.6 391.4v1.8M189.37 391.4v1.2M190.99 391.4v1.2M192.14 391.4v1.2M193.03 391.4v1.2M193.76 391.4v1.2M194.37 391.4v1.2M194.91 391.4v1.2M195.38 391.4v1.2M195.8 391.4v2.6" stroke="#222" stroke-width="0.5" fill="none"/>
<text x="99.8" y="393.9" font-size="6.9" fill="#111" stroke="#111" text-anchor="end">0</text>
<text x="99.8" y="364.32" font-size="6.9" fill="#111" stroke="#111" text-anchor="end">40</text>
<text x="99.8" y="334.74" font-size="6.9" fill="#111" stroke="#111" text-anchor="end">80</text>
<text x="99.8" y="305.16" font-size="6.9" fill="#111" stroke="#111" text-anchor="end">120</text>
<text x="105" y="402" font-size="6.9" fill="#111" stroke="#111" text-anchor="middle">10<tspan font-size="4.4" dy="-2.6">−6</tspan></text>
<text x="123.4" y="402" font-size="6.9" fill="#111" stroke="#111" text-anchor="middle">10<tspan font-size="4.4" dy="-2.6">−4</tspan></text>
<text x="141.8" y="402" font-size="6.9" fill="#111" stroke="#111" text-anchor="middle">10<tspan font-size="4.4" dy="-2.6">−2</tspan></text>
<text x="160.2" y="402" font-size="6.9" fill="#111" stroke="#111" text-anchor="middle">10<tspan font-size="4.4" dy="-2.6">0</tspan></text>
<text x="178.6" y="402" font-size="6.9" fill="#111" stroke="#111" text-anchor="middle">10<tspan font-size="4.4" dy="-2.6">2</tspan></text>
<text x="197" y="402" font-size="6.9" fill="#111" stroke="#111" text-anchor="middle">10<tspan font-size="4.4" dy="-2.6">4</tspan></text>
<polyline points="113,325.96 113.92,325.96 114.84,325.97 115.76,325.97 116.68,325.97 117.6,325.98 118.52,325.98 119.44,325.99 120.36,326 121.28,326.01 122.2,326.02 123.12,326.04 124.04,326.06 124.96,326.09 125.88,326.13 126.8,326.17 127.72,326.23 128.64,326.3 129.56,326.39 130.48,326.5 131.4,326.65 132.32,326.82 133.24,327.04 134.16,327.32 135.08,327.66 136,328.09 136.92,328.61 137.84,329.26 138.76,330.06 139.68,331.04 140.6,332.21 141.52,333.62 142.44,335.3 143.36,337.26 144.28,339.52 145.2,342.08 146.12,344.93 147.04,348.02 147.96,351.3 148.88,354.69 149.8,358.11 150.72,361.47 151.64,364.68 152.56,367.68 153.48,370.42 154.4,372.86 155.32,375 156.24,376.84 157.16,378.41 158.08,379.72 159,380.81 159.92,381.71 160.84,382.45 161.76,383.05 162.68,383.53 163.6,383.92 164.52,384.24 165.44,384.49 166.36,384.69 167.28,384.85 168.2,384.98 169.12,385.08 170.04,385.17 170.96,385.23 171.88,385.28 172.8,385.32 173.72,385.36 174.64,385.38 175.56,385.4 176.48,385.42 177.4,385.43 178.32,385.44 179.24,385.45 180.16,385.46 181.08,385.46 182,385.47" fill="none" stroke="#1010f0" stroke-width="1.1"/>
<polyline points="113,323 113.92,323 114.84,323.01 115.76,323.01 116.68,323.01 117.6,323.02 118.52,323.02 119.44,323.03 120.36,323.03 121.28,323.04 122.2,323.06 123.12,323.07 124.04,323.09 124.96,323.12 125.88,323.15 126.8,323.19 127.72,323.24 128.64,323.3 129.56,323.38 130.48,323.48 131.4,323.6 132.32,323.76 133.24,323.95 134.16,324.19 135.08,324.5 136,324.87 136.92,325.34 137.84,325.92 138.76,326.64 139.68,327.52 140.6,328.59 141.52,329.89 142.44,331.45 143.36,333.3 144.28,335.47 145.2,337.98 146.12,340.82 147.04,343.99 147.96,347.44 148.88,351.11 149.8,354.92 150.72,358.77 151.64,362.55 152.56,366.19 153.48,369.58 154.4,372.69 155.32,375.47 156.24,377.91 157.16,380.01 158.08,381.8 159,383.31 159.92,384.56 160.84,385.59 161.76,386.43 162.68,387.12 163.6,387.68 164.52,388.13 165.44,388.49 166.36,388.78 167.28,389.01 168.2,389.2 169.12,389.34 170.04,389.46 170.96,389.56 171.88,389.63 172.8,389.69 173.72,389.74 174.64,389.77 175.56,389.8 176.48,389.83 177.4,389.85 178.32,389.86 179.24,389.87 180.16,389.88 181.08,389.89 182,389.9" fill="none" stroke="#f01010" stroke-width="1.1"/>
<path d="M113 326.69V346.66M111.6 326.69h2.8M111.6 346.66h2.8M117.6 307.47V331.13M116.2 307.47h2.8M116.2 331.13h2.8M122.2 315.6V342.96M120.8 315.6h2.8M120.8 342.96h2.8M126.8 317.45V326.32M125.4 317.45h2.8M125.4 326.32h2.8M131.4 321.89V342.59M130 321.89h2.8M130 342.59h2.8M136 307.1V338.16M134.6 307.1h2.8M134.6 338.16h2.8M140.6 335.57V342.96M139.2 335.57h2.8M139.2 342.96h2.8M145.2 318.93V347.03M143.8 318.93h2.8M143.8 347.03h2.8M149.8 352.21V371.43M148.4 352.21h2.8M148.4 371.43h2.8M163.6 382.9V385.11M162.2 382.9h2.8M162.2 385.11h2.8M168.2 383.04V386M166.8 383.04h2.8M166.8 386h2.8M172.8 382.53V385.48M171.4 382.53h2.8M171.4 385.48h2.8M177.4 384.08V386.3M176 384.08h2.8M176 386.3h2.8M182 385.71V387.92M180.6 385.71h2.8M180.6 387.92h2.8" stroke="#1010f0" stroke-width="1" fill="none"/>
<path d="M113 334.93L114.68 337.94L111.32 337.94Z" fill="#1010f0"/>
<path d="M117.6 317.55L119.28 320.56L115.92 320.56Z" fill="#1010f0"/>
<path d="M122.2 327.53L123.88 330.54L120.52 330.54Z" fill="#1010f0"/>
<path d="M126.8 320.14L128.48 323.15L125.12 323.15Z" fill="#1010f0"/>
<path d="M131.4 330.49L133.08 333.5L129.72 333.5Z" fill="#1010f0"/>
<path d="M136 320.88L137.68 323.89L134.32 323.89Z" fill="#1010f0"/>
<path d="M140.6 337.52L142.28 340.53L138.92 340.53Z" fill="#1010f0"/>
<path d="M145.2 331.23L146.88 334.24L143.52 334.24Z" fill="#1010f0"/>
<path d="M149.8 360.07L151.48 363.08L148.12 363.08Z" fill="#1010f0"/>
<path d="M154.4 378.85L156.08 381.86L152.72 381.86Z" fill="#1010f0"/>
<path d="M159 381.15L160.68 384.16L157.32 384.16Z" fill="#1010f0"/>
<path d="M163.6 382.25L165.28 385.26L161.92 385.26Z" fill="#1010f0"/>
<path d="M168.2 382.77L169.88 385.78L166.52 385.78Z" fill="#1010f0"/>
<path d="M172.8 382.25L174.48 385.26L171.12 385.26Z" fill="#1010f0"/>
<path d="M177.4 383.44L179.08 386.45L175.72 386.45Z" fill="#1010f0"/>
<path d="M182 385.07L183.68 388.08L180.32 388.08Z" fill="#1010f0"/>
<path d="M113 310.79V325.58M111.6 310.79h2.8M111.6 325.58h2.8M117.6 321.89V336.68M116.2 321.89h2.8M116.2 336.68h2.8M122.2 314.49V326.32M120.8 314.49h2.8M120.8 326.32h2.8M126.8 309.32V338.9M125.4 309.32h2.8M125.4 338.9h2.8M131.4 316.71V338.9M130 316.71h2.8M130 338.9h2.8M136 307.84V327.06M134.6 307.84h2.8M134.6 327.06h2.8M140.6 321.15V332.98M139.2 321.15h2.8M139.2 332.98h2.8M145.2 322.63V344.81M143.8 322.63h2.8M143.8 344.81h2.8M149.8 346.66V357.01M148.4 346.66h2.8M148.4 357.01h2.8" stroke="#f01010" stroke-width="1" fill="none"/>
<circle cx="113" cy="318.19" r="1.55" fill="#f01010"/>
<circle cx="117.6" cy="329.28" r="1.55" fill="#f01010"/>
<circle cx="122.2" cy="320.41" r="1.55" fill="#f01010"/>
<circle cx="126.8" cy="324.11" r="1.55" fill="#f01010"/>
<circle cx="131.4" cy="327.8" r="1.55" fill="#f01010"/>
<circle cx="136" cy="317.45" r="1.55" fill="#f01010"/>
<circle cx="140.6" cy="327.06" r="1.55" fill="#f01010"/>
<circle cx="145.2" cy="333.72" r="1.55" fill="#f01010"/>
<circle cx="149.8" cy="351.84" r="1.55" fill="#f01010"/>
<circle cx="154.4" cy="386.59" r="1.55" fill="#f01010"/>
<circle cx="159" cy="388.44" r="1.55" fill="#f01010"/>
<circle cx="163.6" cy="390.07" r="1.55" fill="#f01010"/>
<circle cx="168.2" cy="390.07" r="1.55" fill="#f01010"/>
<circle cx="172.8" cy="390.07" r="1.55" fill="#f01010"/>
<circle cx="177.4" cy="390.07" r="1.55" fill="#f01010"/>
<circle cx="182" cy="389.92" r="1.55" fill="#f01010"/>
<text x="144.2" y="293.9" font-size="8" fill="#111" stroke="#111" text-anchor="middle">CDK12/CycK</text>
<text x="150.5" y="412" font-size="6.9" fill="#111" stroke="#111" text-anchor="middle">THZ531 [µM]</text>
<text x="84.2" y="347.9" font-size="6.9" fill="#111" stroke="#111" text-anchor="middle" transform="rotate(-90 84.2 347.9)">Rel.[<tspan font-size="5" dy="-2.4">32</tspan><tspan dy="2.4">P] transfer</tspan></text>
<path d="M315.7 301.84V392.2H408.7" fill="none" stroke="#222" stroke-width="0.8"/>
<path d="M315.7 392.2h-2.6M315.7 377.19h-1.6M315.7 362.18h-2.6M315.7 347.17h-1.6M315.7 332.16h-2.6M315.7 317.15h-1.6M315.7 302.14h-2.6M315.7 392.2v2.6M318.49 392.2v1.2M320.12 392.2v1.2M321.28 392.2v1.2M322.17 392.2v1.2M322.91 392.2v1.2M323.53 392.2v1.2M324.06 392.2v1.2M324.54 392.2v1.2M324.96 392.2v1.8M327.75 392.2v1.2M329.38 392.2v1.2M330.54 392.2v1.2M331.43 392.2v1.2M332.17 392.2v1.2M332.79 392.2v1.2M333.32 392.2v1.2M333.8 392.2v1.2M334.22 392.2v2.6M337.01 392.2v1.2M338.64 392.2v1.2M339.8 392.2v1.2M340.69 392.2v1.2M341.43 392.2v1.2M342.05 392.2v1.2M342.58 392.2v1.2M343.06 392.2v1.2M343.48 392.2v1.8M346.27 392.2v1.2M347.9 392.2v1.2M349.06 392.2v1.2M349.95 392.2v1.2M350.69 392.2v1.2M351.31 392.2v1.2M351.84 392.2v1.2M352.32 392.2v1.2M352.74 392.2v2.6M355.53 392.2v1.2M357.16 392.2v1.2M358.32 392.2v1.2M359.21 392.2v1.2M359.95 392.2v1.2M360.57 392.2v1.2M361.1 392.2v1.2M361.58 392.2v1.2M362 392.2v1.8M364.79 392.2v1.2M366.42 392.2v1.2M367.58 392.2v1.2M368.47 392.2v1.2M369.21 392.2v1.2M369.83 392.2v1.2M370.36 392.2v1.2M370.84 392.2v1.2M371.26 392.2v2.6M374.05 392.2v1.2M375.68 392.2v1.2M376.84 392.2v1.2M377.73 392.2v1.2M378.47 392.2v1.2M379.09 392.2v1.2M379.62 392.2v1.2M380.1 392.2v1.2M380.52 392.2v1.8M383.31 392.2v1.2M384.94 392.2v1.2M386.1 392.2v1.2M386.99 392.2v1.2M387.73 392.2v1.2M388.35 392.2v1.2M388.88 392.2v1.2M389.36 392.2v1.2M389.78 392.2v2.6M392.57 392.2v1.2M394.2 392.2v1.2M395.36 392.2v1.2M396.25 392.2v1.2M396.99 392.2v1.2M397.61 392.2v1.2M398.14 392.2v1.2M398.62 392.2v1.2M399.04 392.2v1.8M401.83 392.2v1.2M403.46 392.2v1.2M404.62 392.2v1.2M405.51 392.2v1.2M406.25 392.2v1.2M406.87 392.2v1.2M407.4 392.2v1.2M407.88 392.2v1.2M408.3 392.2v2.6" stroke="#222" stroke-width="0.5" fill="none"/>
<text x="311.7" y="394.7" font-size="6.9" fill="#111" stroke="#111" text-anchor="end">0</text>
<text x="311.7" y="364.68" font-size="6.9" fill="#111" stroke="#111" text-anchor="end">40</text>
<text x="311.7" y="334.66" font-size="6.9" fill="#111" stroke="#111" text-anchor="end">80</text>
<text x="311.7" y="304.64" font-size="6.9" fill="#111" stroke="#111" text-anchor="end">120</text>
<text x="316.9" y="402.3" font-size="6.9" fill="#111" stroke="#111" text-anchor="middle">10<tspan font-size="4.4" dy="-2.6">−6</tspan></text>
<text x="335.42" y="402.3" font-size="6.9" fill="#111" stroke="#111" text-anchor="middle">10<tspan font-size="4.4" dy="-2.6">−4</tspan></text>
<text x="353.94" y="402.3" font-size="6.9" fill="#111" stroke="#111" text-anchor="middle">10<tspan font-size="4.4" dy="-2.6">−2</tspan></text>
<text x="372.46" y="402.3" font-size="6.9" fill="#111" stroke="#111" text-anchor="middle">10<tspan font-size="4.4" dy="-2.6">0</tspan></text>
<text x="390.98" y="402.3" font-size="6.9" fill="#111" stroke="#111" text-anchor="middle">10<tspan font-size="4.4" dy="-2.6">2</tspan></text>
<text x="409.5" y="402.3" font-size="6.9" fill="#111" stroke="#111" text-anchor="middle">10<tspan font-size="4.4" dy="-2.6">4</tspan></text>
<polyline points="324.96,329.17 325.89,329.17 326.81,329.17 327.74,329.17 328.66,329.18 329.59,329.18 330.52,329.19 331.44,329.19 332.37,329.2 333.29,329.22 334.22,329.23 335.15,329.25 336.07,329.27 337,329.3 337.92,329.34 338.85,329.39 339.78,329.45 340.7,329.52 341.63,329.61 342.55,329.73 343.48,329.87 344.41,330.05 345.33,330.28 346.26,330.56 347.18,330.91 348.11,331.34 349.04,331.88 349.96,332.53 350.89,333.32 351.81,334.28 352.74,335.42 353.67,336.77 354.59,338.35 355.52,340.16 356.44,342.19 357.37,344.44 358.3,346.87 359.22,349.42 360.15,352.05 361.07,354.67 362,357.23 362.93,359.65 363.85,361.9 364.78,363.94 365.7,365.75 366.63,367.32 367.56,368.68 368.48,369.82 369.41,370.78 370.33,371.57 371.26,372.22 372.19,372.75 373.11,373.19 374.04,373.54 374.96,373.82 375.89,374.04 376.82,374.22 377.74,374.37 378.67,374.49 379.59,374.58 380.52,374.65 381.45,374.71 382.37,374.76 383.3,374.79 384.22,374.82 385.15,374.85 386.08,374.87 387,374.88 387.93,374.89 388.85,374.9 389.78,374.91 390.71,374.92 391.63,374.92 392.56,374.92 393.48,374.93 394.41,374.93" fill="none" stroke="#1010f0" stroke-width="1.1"/>
<polyline points="324.96,320.92 325.89,320.93 326.81,320.93 327.74,320.94 328.66,320.95 329.59,320.96 330.52,320.98 331.44,321 332.37,321.02 333.29,321.05 334.22,321.09 335.15,321.14 336.07,321.2 337,321.27 337.92,321.37 338.85,321.49 339.78,321.64 340.7,321.82 341.63,322.06 342.55,322.35 343.48,322.71 344.41,323.17 345.33,323.73 346.26,324.42 347.18,325.27 348.11,326.31 349.04,327.58 349.96,329.1 350.89,330.9 351.81,333.03 352.74,335.49 353.67,338.29 354.59,341.43 355.52,344.86 356.44,348.52 357.37,352.35 358.3,356.23 359.22,360.07 360.15,363.78 361.07,367.26 362,370.46 362.93,373.33 363.85,375.86 364.78,378.05 365.7,379.92 366.63,381.49 367.56,382.8 368.48,383.88 369.41,384.77 370.33,385.5 371.26,386.08 372.19,386.55 373.11,386.93 374.04,387.24 374.96,387.49 375.89,387.68 376.82,387.84 377.74,387.96 378.67,388.06 379.59,388.14 380.52,388.2 381.45,388.25 382.37,388.29 383.3,388.32 384.22,388.35 385.15,388.37 386.08,388.39 387,388.4 387.93,388.41 388.85,388.42 389.78,388.42 390.71,388.43 391.63,388.43 392.56,388.44 393.48,388.44 394.41,388.44" fill="none" stroke="#f01010" stroke-width="1.1"/>
<path d="M324.96 336.66V341.17M323.56 336.66h2.8M323.56 341.17h2.8M329.59 329.91V335.91M328.19 329.91h2.8M328.19 335.91h2.8M334.22 320.9V322.4M332.82 320.9h2.8M332.82 322.4h2.8M338.85 308.14V333.66M337.45 308.14h2.8M337.45 333.66h2.8M343.48 321.65V324.65M342.08 321.65h2.8M342.08 324.65h2.8M348.11 303.64V333.66M346.71 303.64h2.8M346.71 333.66h2.8M352.74 335.91V343.42M351.34 335.91h2.8M351.34 343.42h2.8M357.37 329.16V342.67M355.97 329.16h2.8M355.97 342.67h2.8M366.63 369.68V374.19M365.23 369.68h2.8M365.23 374.19h2.8M371.26 369.69V375.69M369.86 369.69h2.8M369.86 375.69h2.8M375.89 367.43V385.45M374.49 367.43h2.8M374.49 385.45h2.8M389.78 368.93V374.94M388.38 368.93h2.8M388.38 374.94h2.8M394.41 368.18V375.69M393.01 368.18h2.8M393.01 375.69h2.8" stroke="#1010f0" stroke-width="1" fill="none"/>
<path d="M324.96 337.16L326.64 340.17L323.28 340.17Z" fill="#1010f0"/>
<path d="M329.59 331.16L331.27 334.17L327.91 334.17Z" fill="#1010f0"/>
<path d="M334.22 319.9L335.9 322.91L332.54 322.91Z" fill="#1010f0"/>
<path d="M338.85 319.15L340.53 322.16L337.17 322.16Z" fill="#1010f0"/>
<path d="M343.48 321.4L345.16 324.41L341.8 324.41Z" fill="#1010f0"/>
<path d="M348.11 316.9L349.79 319.91L346.43 319.91Z" fill="#1010f0"/>
<path d="M352.74 337.91L354.42 340.92L351.06 340.92Z" fill="#1010f0"/>
<path d="M357.37 334.16L359.05 337.17L355.69 337.17Z" fill="#1010f0"/>
<path d="M362 363.43L363.68 366.44L360.32 366.44Z" fill="#1010f0"/>
<path d="M366.63 370.19L368.31 373.2L364.95 373.2Z" fill="#1010f0"/>
<path d="M371.26 370.94L372.94 373.95L369.58 373.95Z" fill="#1010f0"/>
<path d="M375.89 374.69L377.57 377.7L374.21 377.7Z" fill="#1010f0"/>
<path d="M380.52 377.69L382.2 380.7L378.84 380.7Z" fill="#1010f0"/>
<path d="M385.15 370.94L386.83 373.95L383.47 373.95Z" fill="#1010f0"/>
<path d="M389.78 370.19L391.46 373.2L388.1 373.2Z" fill="#1010f0"/>
<path d="M394.41 370.19L396.09 373.2L392.73 373.2Z" fill="#1010f0"/>
<path d="M324.96 304.39V329.91M323.56 304.39h2.8M323.56 329.91h2.8M329.59 307.39V331.41M328.19 307.39h2.8M328.19 331.41h2.8M334.22 322.4V343.42M332.82 322.4h2.8M332.82 343.42h2.8M338.85 312.65V327.66M337.45 312.65h2.8M337.45 327.66h2.8M343.48 314.9V329.91M342.08 314.9h2.8M342.08 329.91h2.8M348.11 304.39V334.41M346.71 304.39h2.8M346.71 334.41h2.8M352.74 329.91V337.41M351.34 329.91h2.8M351.34 337.41h2.8M357.37 350.17V359.18M355.97 350.17h2.8M355.97 359.18h2.8M362 366.68V372.69M360.6 366.68h2.8M360.6 372.69h2.8M371.26 384.69V392.2M369.86 384.69h2.8M369.86 392.2h2.8" stroke="#f01010" stroke-width="1" fill="none"/>
<circle cx="324.96" cy="317.15" r="1.55" fill="#f01010"/>
<circle cx="329.59" cy="319.4" r="1.55" fill="#f01010"/>
<circle cx="334.22" cy="332.91" r="1.55" fill="#f01010"/>
<circle cx="338.85" cy="320.15" r="1.55" fill="#f01010"/>
<circle cx="343.48" cy="322.4" r="1.55" fill="#f01010"/>
<circle cx="348.11" cy="319.4" r="1.55" fill="#f01010"/>
<circle cx="352.74" cy="333.66" r="1.55" fill="#f01010"/>
<circle cx="357.37" cy="354.68" r="1.55" fill="#f01010"/>
<circle cx="362" cy="369.69" r="1.55" fill="#f01010"/>
<circle cx="366.63" cy="386.2" r="1.55" fill="#f01010"/>
<circle cx="371.26" cy="388.45" r="1.55" fill="#f01010"/>
<circle cx="375.89" cy="387.7" r="1.55" fill="#f01010"/>
<circle cx="380.52" cy="387.7" r="1.55" fill="#f01010"/>
<circle cx="385.15" cy="387.7" r="1.55" fill="#f01010"/>
<circle cx="389.78" cy="388.45" r="1.55" fill="#f01010"/>
<circle cx="394.41" cy="386.2" r="1.55" fill="#f01010"/>
<text x="350.4" y="293.9" font-size="8" fill="#111" stroke="#111" text-anchor="middle">CDK13/CycK</text>
<text x="362.2" y="412.8" font-size="6.9" fill="#111" stroke="#111" text-anchor="middle">THZ531 [µM]</text>
<text x="296.1" y="348.7" font-size="6.9" fill="#111" stroke="#111" text-anchor="middle" transform="rotate(-90 296.1 348.7)">Rel.[<tspan font-size="5" dy="-2.4">32</tspan><tspan dy="2.4">P] transfer</tspan></text>
<line x1="190" y1="310.7" x2="198" y2="310.7" stroke="#f01010" stroke-width="0.9"/>
<circle cx="194" cy="310.7" r="1.6" fill="#f01010"/>
<text x="200.6" y="313.2" font-size="6.9" fill="#111" stroke="#111">CDC5L (109 nM ± 13 nM)</text>
<line x1="190" y1="322.7" x2="198" y2="322.7" stroke="#1010f0" stroke-width="0.9"/>
<path d="M194 320.7L195.92 324.14L192.08 324.14Z" fill="#1010f0"/>
<text x="200.6" y="325.2" font-size="6.9" fill="#111" stroke="#111">SF3B1 (85 nM ± 18 nM)</text>
<line x1="409" y1="310.7" x2="417" y2="310.7" stroke="#f01010" stroke-width="0.9"/>
<circle cx="413" cy="310.7" r="1.6" fill="#f01010"/>
<text x="419.6" y="313.2" font-size="6.9" fill="#111" stroke="#111">CDC5L(36 nM ± 6 nM)</text>
<line x1="409" y1="322.7" x2="417" y2="322.7" stroke="#1010f0" stroke-width="0.9"/>
<path d="M413 320.7L414.92 324.14L411.08 324.14Z" fill="#1010f0"/>
<text x="419.6" y="325.2" font-size="6.9" fill="#111" stroke="#111">SF3B1(62 nM ± 19 nM)</text>
</g>
<g id="panel-e">
<text x="-0.5" y="431.6" font-size="11.5" fill="#000" stroke="#000" font-weight="bold">e</text>
<rect x="52.6" y="428.4" width="100.8" height="17.9" fill="#fff" stroke="#666" stroke-width="0.7"/>
<text x="102" y="440.25" font-size="8.1" fill="#111" stroke="#111" text-anchor="middle">Short genes</text>
<rect x="253.9" y="428.4" width="151.9" height="17.9" fill="#fff" stroke="#666" stroke-width="0.7"/>
<text x="336.6" y="440.25" font-size="8.1" fill="#111" stroke="#111" text-anchor="middle">Long genes (DDR genes)</text>
<rect x="178.2" y="443" width="60.4" height="19.6" fill="#f9fdf6"/>
<text x="200.4" y="460.4" font-size="8.1" fill="#111" stroke="#111" text-anchor="middle">THZ531</text>
<path d="M201 463V471M195.2 471H207" stroke="#000" stroke-width="1.2" fill="none"/>
<ellipse cx="200.8" cy="483" rx="15.6" ry="8.5" fill="#ee0000"/>
<text x="200.9" y="485.9" font-size="8.1" fill="#2a0000" stroke="#2a0000" text-anchor="middle">CDK12</text>
<defs><marker id="ah" viewBox="0 0 6 6" refX="5" refY="3" markerWidth="4.2" markerHeight="4.2" orient="auto"><path d="M0 0.4L6 3L0 5.6Z" fill="#111"/></marker><marker id="ahb" viewBox="0 0 6 6" refX="4" refY="3" markerWidth="3.2" markerHeight="3.2" orient="auto"><path d="M0 0L6 3L0 6Z" fill="#5b9bd5"/></marker></defs>
<path d="M200.5 498.4V525.6" stroke="#111" stroke-width="0.7" marker-end="url(#ah)"/>
<path d="M194.7 516.3L170.2 534.8" stroke="#111" stroke-width="0.7" marker-end="url(#ah)"/>
<path d="M205.3 516.3L225.6 536.2" stroke="#111" stroke-width="0.7" marker-end="url(#ah)"/>
<path d="M202.3 529.5L207.9 538.6H196.5Z" fill="#70ad47"/>
<ellipse cx="191.2" cy="544" rx="6.1" ry="4.7" fill="#70ad47"/>
<rect x="198.6" y="542.1" width="16.3" height="8.8" rx="1.3" fill="#70ad47"/>
<circle cx="198.6" cy="529.8" r="3.5" fill="#f9bb00" stroke="#dfa400" stroke-width="0.4"/>
<text x="198.6" y="531.55" font-size="5" fill="#3a2800" stroke="#3a2800" text-anchor="middle">P</text>
<circle cx="188.6" cy="537.7" r="3.5" fill="#f9bb00" stroke="#dfa400" stroke-width="0.4"/>
<text x="188.6" y="539.45" font-size="5" fill="#3a2800" stroke="#3a2800" text-anchor="middle">P</text>
<circle cx="201.8" cy="542.1" r="3.5" fill="#f9bb00" stroke="#dfa400" stroke-width="0.4"/>
<text x="201.8" y="543.85" font-size="5" fill="#3a2800" stroke="#3a2800" text-anchor="middle">P</text>
<rect x="26.3" y="473" width="33.7" height="38.5" fill="#f9fdf6"/>
<text x="28" y="494.6" font-size="7.9" fill="#111" stroke="#111" font-style="italic">Control</text>
<text x="28" y="505.8" font-size="7.9" fill="#f01010" stroke="#f01010" font-style="italic">THZ531</text>
<path d="M28 517.9 C33 517.4 38 517.6 41.5 518.8 C47 521 51 528.6 56 529 C61 529.4 64 521.5 67.5 517.6" transform="translate(0 0.9)" fill="none" stroke="#f01010" stroke-width="1.5" stroke-dasharray="3.4 2.6" stroke-dashoffset="2.4"/>
<path d="M28 517.9 C33 517.4 38 517.6 41.5 518.8 C47 521 51 528.6 56 529 C61 529.4 64 521.5 67.5 517.6" fill="none" stroke="#111" stroke-width="1.5" stroke-dasharray="3.4 2.6"/>
<path d="M67.5 517.6 C70 514.5 72 515 74 512.5 C77.5 508 80 502.4 83.3 502.5 C86.5 502.6 87 510.6 91 511.5 C96 512.2 130 512 149.4 512.2" fill="none" stroke="#111" stroke-width="1.15"/>
<path d="M65.8 512 C69 511.5 71.5 509.5 74 506.5 C77.5 502 80 496.9 83.3 497 C86.8 497.1 87.5 504.4 92 505.3 C100 506 140 506.5 171.4 507" fill="none" stroke="#f01010" stroke-width="1.15"/>
<path d="M211.4 511.6 C217 510.6 224 510.8 228.5 512 C235 514 239 529.2 244.7 529.6 C250.5 530 252.5 517 256.1 509.8" fill="none" stroke="#f01010" stroke-width="1.15" stroke-dasharray="3.2 2.4"/>
<path d="M215.5 510.9 C221 510.3 227 510.2 231.6 511.3 C237 512.8 239.5 520.5 243.9 520.7 C248.5 520.9 252 515 256.1 509.8" fill="none" stroke="#111" stroke-width="1.4" stroke-dasharray="3.2 2.4"/>
<path d="M256.1 509.8 C260 508.6 263 508 265.8 506.3 C272 502.3 277 494.3 282.5 494.4 C287 494.5 288 501.2 293.5 502.8 C297 503.6 300 503.5 305 503.5 H414.8" fill="none" stroke="#111" stroke-width="1.15"/>
<path d="M256.1 509.8 C260 508.6 263 508 265.8 506.3 C272 501.5 276.5 486.8 284.2 486.6 C293 486.4 299 497 308.3 507" fill="none" stroke="#f01010" stroke-width="1.15"/>
<rect x="56" y="575" width="22" height="7.6" fill="url(#fadeL)"/>
<rect x="78" y="574.6" width="56.4" height="8" fill="#9dc3e6"/>
<rect x="153.9" y="577" width="25.9" height="5.6" fill="#dce8f5"/>
<rect x="77" y="574.7" width="20.5" height="11.1" fill="#1f4e79" stroke="#0a1a2c" stroke-width="1"/>
<rect x="134.2" y="574.2" width="19.7" height="11.4" fill="#1f4e79" stroke="#0a1a2c" stroke-width="1"/>
<text x="161.8" y="582.4" font-size="5.6" fill="#1f3864" stroke="#1f3864">3′UTR</text>
<path d="M123.3 563.7H126.7L128.9 565.9V569.3L126.7 571.5H123.3L121.1 569.3V565.9Z" fill="#7f7f7f" opacity="0.8"/>
<path d="M125 570.6V577" stroke="#111" stroke-width="0.9"/>
<path d="M123.55 564.45H126.45L128.15 566.15V569.05L126.45 570.75H123.55L121.85 569.05V566.15Z" fill="#ff0000"/>
<path d="M45.5 547 C48.72 546.69 50.1 548.86 50.45 552.58 S51.48 557.23 53.55 557.23 S56.08 558.16 57 562.5" fill="none" stroke="#6a6a6a" stroke-width="0.55"/>
<path d="M66.5 548 C70 547.65 71.5 550.1 71.88 554.3 S73 559.55 75.25 559.55 S78 560.6 79 565.5" fill="none" stroke="#6a6a6a" stroke-width="0.55"/>
<path d="M75 543 C80.6 542.65 83 545.1 83.6 549.3 S85.4 554.55 89 554.55 S93.4 555.6 95 560.5" fill="none" stroke="#6a6a6a" stroke-width="0.55"/>
<path d="M92.5 544.5 C95.86 544.16 97.3 546.54 97.66 550.62 S98.74 555.72 100.9 555.72 S103.54 556.74 104.5 561.5" fill="none" stroke="#6a6a6a" stroke-width="0.55"/>
<path d="M125 546.5 C128.08 546.22 129.4 548.18 129.73 551.54 S130.72 555.74 132.7 555.74 S135.12 556.58 136 560.5" fill="none" stroke="#6a6a6a" stroke-width="0.55"/>
<path d="M144 546 C147.36 545.71 148.8 547.74 149.16 551.22 S150.24 555.57 152.4 555.57 S155.04 556.44 156 560.5" fill="none" stroke="#6a6a6a" stroke-width="0.55"/>
<ellipse cx="97.4" cy="566.8" rx="11" ry="7" fill="#8a8a8a" opacity="0.35" filter="url(#blur1)"/>
<ellipse cx="97" cy="566" rx="11" ry="7" fill="url(#pol)" stroke="#a8a8a8" stroke-width="0.35"/>
<ellipse cx="65.1" cy="569" rx="12.3" ry="8.2" fill="#8a8a8a" opacity="0.35" filter="url(#blur1)"/>
<ellipse cx="64.7" cy="568.2" rx="12.3" ry="8.2" fill="url(#pol)" stroke="#a8a8a8" stroke-width="0.35"/>
<ellipse cx="86.4" cy="572.4" rx="11" ry="7.8" fill="#8a8a8a" opacity="0.35" filter="url(#blur1)"/>
<ellipse cx="86" cy="571.6" rx="11" ry="7.8" fill="url(#pol)" stroke="#a8a8a8" stroke-width="0.35"/>
<ellipse cx="111.6" cy="569.4" rx="12" ry="8.4" fill="#8a8a8a" opacity="0.35" filter="url(#blur1)"/>
<ellipse cx="111.2" cy="568.6" rx="12" ry="8.4" fill="url(#pol)" stroke="#a8a8a8" stroke-width="0.35"/>
<ellipse cx="162.7" cy="568.2" rx="7.8" ry="8" fill="#8a8a8a" opacity="0.35" filter="url(#blur1)"/>
<ellipse cx="162.3" cy="567.4" rx="7.8" ry="8" fill="url(#pol)" stroke="#a8a8a8" stroke-width="0.35"/>
<ellipse cx="144.3" cy="567.1" rx="11.4" ry="8.3" fill="#8a8a8a" opacity="0.35" filter="url(#blur1)"/>
<ellipse cx="143.9" cy="566.3" rx="11.4" ry="8.3" fill="url(#pol)" stroke="#a8a8a8" stroke-width="0.35"/>
<path d="M162.3 563.7H165.7L167.9 565.9V569.3L165.7 571.5H162.3L160.1 569.3V565.9Z" fill="#7f7f7f" opacity="0.8"/>
<path d="M164 570.6V577" stroke="#111" stroke-width="0.9"/>
<path d="M162.55 564.45H165.45L167.15 566.15V569.05L165.45 570.75H162.55L160.85 569.05V566.15Z" fill="#ff0000"/>
<circle cx="42" cy="545.3" r="3.8" fill="#f9bb00" stroke="#dfa400" stroke-width="0.4"/>
<text x="42" y="547.05" font-size="5" fill="#3a2800" stroke="#3a2800" text-anchor="middle">P</text>
<circle cx="64" cy="545.5" r="3.8" fill="#f9bb00" stroke="#dfa400" stroke-width="0.4"/>
<text x="64" y="547.25" font-size="5" fill="#3a2800" stroke="#3a2800" text-anchor="middle">P</text>
<circle cx="89.5" cy="542.8" r="3.8" fill="#f9bb00" stroke="#dfa400" stroke-width="0.4"/>
<text x="89.5" y="544.55" font-size="5" fill="#3a2800" stroke="#3a2800" text-anchor="middle">P</text>
<circle cx="121.9" cy="544.9" r="3.8" fill="#f9bb00" stroke="#dfa400" stroke-width="0.4"/>
<text x="121.9" y="546.65" font-size="5" fill="#3a2800" stroke="#3a2800" text-anchor="middle">P</text>
<circle cx="140.9" cy="544.4" r="3.8" fill="#f9bb00" stroke="#dfa400" stroke-width="0.4"/>
<text x="140.9" y="546.15" font-size="5" fill="#3a2800" stroke="#3a2800" text-anchor="middle">P</text>
<text x="49" y="581.3" font-size="8.1" fill="#111" stroke="#111">5′</text>
<text x="68" y="587.9" font-size="8.1" fill="#111" stroke="#111" text-anchor="middle">TSS</text>
<path d="M56 589.8H85.6" stroke="#5b9bd5" stroke-width="1.15" marker-end="url(#ahb)"/>
<path d="M80.5 593.7H48" stroke="#5b9bd5" stroke-width="1.15" stroke-dasharray="3.6 2.6" marker-end="url(#ahb)"/>
<path d="M109 597H119V604.6H123.4L114 615L104.6 604.6H109Z" fill="#e4e4e4"/>
<text x="34.6" y="635.9" font-size="8.1" fill="#111" stroke="#111">5′</text>
<rect x="42.6" y="630" width="21.6" height="6.4" fill="#dce8f5"/>
<rect x="84" y="629.3" width="36.6" height="7.8" fill="#9dc3e6"/>
<rect x="140.8" y="630" width="25.6" height="6.4" fill="#dce8f5"/>
<rect x="64" y="625.9" width="20.5" height="14.1" fill="#1f4e79" stroke="#0a1a2c" stroke-width="1"/>
<rect x="120.3" y="625.9" width="20.4" height="14.1" fill="#1f4e79" stroke="#0a1a2c" stroke-width="1"/>
<text x="166.9" y="636" font-size="8" fill="#f01010" stroke="#f01010">AAAAA</text>
<text x="195.2" y="636" font-size="8.1" fill="#111" stroke="#111">3′</text>
<rect x="26.3" y="667" width="165.1" height="17.4" fill="#fff" stroke="#666" stroke-width="0.7"/>
<text x="103.4" y="678.6" font-size="8.1" fill="#111" stroke="#111" text-anchor="middle">Termination at distal poly(A) site</text>
<rect x="253" y="575.3" width="22" height="8" fill="url(#fadeL)"/>
<rect x="275" y="575.2" width="228.5" height="8.6" fill="#9dc3e6"/>
<rect x="526.8" y="576.8" width="19.5" height="6.2" fill="#dce8f5"/>
<rect x="274.5" y="573.5" width="25.6" height="13" fill="#1f4e79" stroke="#0a1a2c" stroke-width="1"/>
<rect x="347" y="573.3" width="26" height="13.4" fill="#1f4e79" stroke="#0a1a2c" stroke-width="1"/>
<rect x="405" y="573.1" width="26.3" height="13.7" fill="#1f4e79" stroke="#0a1a2c" stroke-width="1"/>
<rect x="454.3" y="573.1" width="26.2" height="13.7" fill="#1f4e79" stroke="#0a1a2c" stroke-width="1"/>
<rect x="503.2" y="573.1" width="23.6" height="13.7" fill="#1f4e79" stroke="#0a1a2c" stroke-width="1"/>
<text x="528.4" y="582.2" font-size="5.4" fill="#1f3864" stroke="#1f3864">3′ UTR</text>
<path d="M236 549 C240.2 548.71 242 550.74 242.45 554.22 S243.8 558.57 246.5 558.57 S249.8 559.44 251 563.5" fill="none" stroke="#6a6a6a" stroke-width="0.55"/>
<path d="M251.5 543.5 C255.84 543.22 257.7 545.18 258.17 548.54 S259.56 552.74 262.35 552.74 S265.76 553.58 267 557.5" fill="none" stroke="#6a6a6a" stroke-width="0.55"/>
<path d="M264 545.5 C269.04 545.16 271.2 547.54 271.74 551.62 S273.36 556.72 276.6 556.72 S280.56 557.74 282 562.5" fill="none" stroke="#6a6a6a" stroke-width="0.55"/>
<path d="M281 545.5 C286.32 545.15 288.6 547.6 289.17 551.8 S290.88 557.05 294.3 557.05 S298.48 558.1 300 563" fill="none" stroke="#6a6a6a" stroke-width="0.55"/>
<path d="M303 541.5 C306.64 541.22 308.2 543.18 308.59 546.54 S309.76 550.74 312.1 550.74 S314.96 551.58 316 555.5" fill="none" stroke="#6a6a6a" stroke-width="0.55"/>
<path d="M312 545 C315.64 544.7 317.2 546.8 317.59 550.4 S318.76 554.9 321.1 554.9 S323.96 555.8 325 560" fill="none" stroke="#6a6a6a" stroke-width="0.55"/>
<ellipse cx="324.6" cy="561.8" rx="12" ry="7.4" fill="#8a8a8a" opacity="0.35" filter="url(#blur1)"/>
<ellipse cx="324.2" cy="561" rx="12" ry="7.4" fill="url(#pol)" stroke="#a8a8a8" stroke-width="0.35"/>
<ellipse cx="257.9" cy="570.8" rx="11.6" ry="8.2" fill="#8a8a8a" opacity="0.35" filter="url(#blur1)"/>
<ellipse cx="257.5" cy="570" rx="11.6" ry="8.2" fill="url(#pol)" stroke="#a8a8a8" stroke-width="0.35"/>
<ellipse cx="271.9" cy="565" rx="10.5" ry="7.7" fill="#8a8a8a" opacity="0.35" filter="url(#blur1)"/>
<ellipse cx="271.5" cy="564.2" rx="10.5" ry="7.7" fill="url(#pol)" stroke="#a8a8a8" stroke-width="0.35"/>
<ellipse cx="287.3" cy="570.3" rx="11.4" ry="7.9" fill="#8a8a8a" opacity="0.35" filter="url(#blur1)"/>
<ellipse cx="286.9" cy="569.5" rx="11.4" ry="7.9" fill="url(#pol)" stroke="#a8a8a8" stroke-width="0.35"/>
<ellipse cx="305.2" cy="570.8" rx="12.3" ry="8.2" fill="#8a8a8a" opacity="0.35" filter="url(#blur1)"/>
<ellipse cx="304.8" cy="570" rx="12.3" ry="8.2" fill="url(#pol)" stroke="#a8a8a8" stroke-width="0.35"/>
<path d="M321.5 563.6H324.9L327.1 565.8V569.2L324.9 571.4H321.5L319.3 569.2V565.8Z" fill="#7f7f7f" opacity="0.8"/>
<path d="M323.2 570.5V576.8" stroke="#111" stroke-width="0.9"/>
<path d="M321.75 564.35H324.65L326.35 566.05V568.95L324.65 570.65H321.75L320.05 568.95V566.05Z" fill="#ff0000"/>
<ellipse cx="336.8" cy="569.6" rx="11.3" ry="8.3" fill="#8a8a8a" opacity="0.35" filter="url(#blur1)"/>
<ellipse cx="336.4" cy="568.8" rx="11.3" ry="8.3" fill="url(#pol)" stroke="#a8a8a8" stroke-width="0.35"/>
<path d="M380.4 563.6H383.8L386 565.8V569.2L383.8 571.4H380.4L378.2 569.2V565.8Z" fill="#7f7f7f" opacity="0.8"/>
<path d="M382.1 570.5V577.2" stroke="#111" stroke-width="0.9"/>
<path d="M380.65 564.35H383.55L385.25 566.05V568.95L383.55 570.65H380.65L378.95 568.95V566.05Z" fill="#ff0000"/>
<path d="M434.1 563.6H437.5L439.7 565.8V569.2L437.5 571.4H434.1L431.9 569.2V565.8Z" fill="#7f7f7f" opacity="0.8"/>
<path d="M435.8 570.5V577.2" stroke="#111" stroke-width="0.9"/>
<path d="M434.35 564.35H437.25L438.95 566.05V568.95L437.25 570.65H434.35L432.65 568.95V566.05Z" fill="#ff0000"/>
<path d="M467.5 563.6H470.9L473.1 565.8V569.2L470.9 571.4H467.5L465.3 569.2V565.8Z" fill="#7f7f7f" opacity="0.8"/>
<path d="M469.2 570.5V577.2" stroke="#111" stroke-width="0.9"/>
<path d="M467.75 564.35H470.65L472.35 566.05V568.95L470.65 570.65H467.75L466.05 568.95V566.05Z" fill="#ff0000"/>
<path d="M526.8 563.6H530.2L532.4 565.8V569.2L530.2 571.4H526.8L524.6 569.2V565.8Z" fill="#7f7f7f" opacity="0.8"/>
<path d="M528.5 570.5V577.2" stroke="#111" stroke-width="0.9"/>
<path d="M527.05 564.35H529.95L531.65 566.05V568.95L529.95 570.65H527.05L525.35 568.95V566.05Z" fill="#ff0000"/>
<circle cx="249.1" cy="540.2" r="3.8" fill="#f9bb00" stroke="#dfa400" stroke-width="0.4"/>
<text x="249.1" y="541.95" font-size="5" fill="#3a2800" stroke="#3a2800" text-anchor="middle">P</text>
<circle cx="300.9" cy="538" r="3.8" fill="#f9bb00" stroke="#dfa400" stroke-width="0.4"/>
<text x="300.9" y="539.75" font-size="5" fill="#3a2800" stroke="#3a2800" text-anchor="middle">P</text>
<text x="243.6" y="583" font-size="8.1" fill="#111" stroke="#111">5′</text>
<text x="263.2" y="590.4" font-size="8.1" fill="#111" stroke="#111" text-anchor="middle">TSS</text>
<path d="M249.2 592H279" stroke="#5b9bd5" stroke-width="1.15" marker-end="url(#ahb)"/>
<path d="M273.8 596.1H241" stroke="#5b9bd5" stroke-width="1.15" stroke-dasharray="3.6 2.6" marker-end="url(#ahb)"/>
<path d="M303.6 597H313.2V604.6H317.6L308.4 615L299.2 604.6H303.6Z" fill="#e4e4e4"/>
<text x="251" y="635.2" font-size="8.1" fill="#111" stroke="#111">5′</text>
<rect x="257.7" y="629.3" width="22" height="7" fill="#dce8f5"/>
<rect x="304" y="628.3" width="16.7" height="9" fill="#9dc3e6"/>
<rect x="279" y="625.7" width="26.2" height="14.3" fill="#1f4e79" stroke="#0a1a2c" stroke-width="1"/>
<text x="322.3" y="635.2" font-size="8" fill="#f01010" stroke="#f01010">AAAAA</text>
<text x="351.1" y="635.2" font-size="8.1" fill="#111" stroke="#111">3′</text>
<text x="251" y="654.6" font-size="8.1" fill="#111" stroke="#111">5′</text>
<rect x="257.7" y="648.3" width="22" height="6.7" fill="#dce8f5"/>
<rect x="304" y="647.3" width="51" height="8.7" fill="#9dc3e6"/>
<rect x="279" y="645" width="26.2" height="14" fill="#1f4e79" stroke="#0a1a2c" stroke-width="1"/>
<text x="356" y="654.6" font-size="8" fill="#f01010" stroke="#f01010">AAAAA</text>
<text x="384.8" y="654.6" font-size="8.1" fill="#111" stroke="#111">3′</text>
<rect x="235.7" y="666.2" width="178" height="18.2" fill="#fff" stroke="#666" stroke-width="0.7"/>
<text x="322.3" y="678.2" font-size="8.1" fill="#111" stroke="#111" text-anchor="middle">Termination at intronic poly(A) site</text>
<rect x="474.7" y="432.4" width="70.8" height="107" fill="#f9fdf6"/>
<rect x="444.3" y="440.2" width="19" height="9.4" fill="#70ad47"/>
<path d="M467.3 434.1L474.2 444.2H461.4Z" fill="#70ad47"/>
<ellipse cx="464.4" cy="452.5" rx="8.1" ry="5.5" fill="#70ad47"/>
<text x="476" y="445.9" font-size="8.1" fill="#111" stroke="#111">RNA processing</text>
<text x="476" y="455.7" font-size="8.1" fill="#111" stroke="#111">factors</text>
<path d="M435 455 C439 454.5 439.5 458.5 442 460.5 C445 462.8 448 460.5 450 463.5 C451.5 465.8 452.5 467 454 467.5" fill="none" stroke="#6a6a6a" stroke-width="0.55"/>
<ellipse cx="462.8" cy="471.3" rx="10.2" ry="6.6" fill="#8a8a8a" opacity="0.35" filter="url(#blur1)"/>
<ellipse cx="462.4" cy="470.5" rx="10.2" ry="6.6" fill="url(#pol)" stroke="#a8a8a8" stroke-width="0.35"/>
<text x="476" y="473.9" font-size="8.1" fill="#111" stroke="#111">Pol II</text>
<circle cx="463.7" cy="487" r="3.9" fill="#f9bb00" stroke="#dfa400" stroke-width="0.4"/>
<text x="463.7" y="488.75" font-size="5" fill="#3a2800" stroke="#3a2800" text-anchor="middle">P</text>
<text x="476" y="489.9" font-size="8.1" fill="#111" stroke="#111">Phosphorylation</text>
<path d="M462.7 497.7H466.1L468.3 499.9V503.3L466.1 505.5H462.7L460.5 503.3V499.9Z" fill="#7f7f7f" opacity="0.8"/>
<path d="M464.4 504.6V510.5" stroke="#111" stroke-width="0.9"/>
<path d="M462.95 498.45H465.85L467.55 500.15V503.05L465.85 504.75H462.95L461.25 503.05V500.15Z" fill="#ff0000"/>
<text x="476" y="505.9" font-size="8.1" fill="#111" stroke="#111">Poly(A) signals</text>
<rect x="437.9" y="513.5" width="33.4" height="8.5" fill="#9dc3e6"/>
<text x="476" y="521.9" font-size="8.1" fill="#111" stroke="#111">Intron</text>
<rect x="448.6" y="524.8" width="22.6" height="13.6" fill="#1f4e79" stroke="#0a1a2c" stroke-width="1"/>
<text x="476" y="535.9" font-size="8.1" fill="#111" stroke="#111">Exon</text>
</g>
</svg>
</body></html>
